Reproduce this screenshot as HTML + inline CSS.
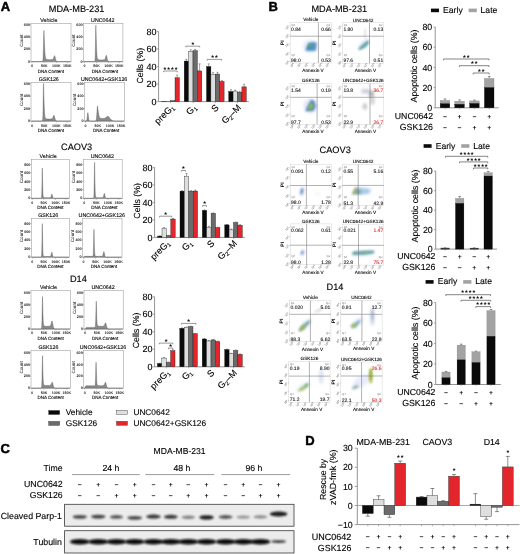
<!DOCTYPE html>
<html><head><meta charset="utf-8"><style>
html,body{margin:0;padding:0;background:#fff;}
svg{display:block;font-family:'Liberation Sans', Arial, sans-serif;text-rendering:geometricPrecision;}
</style></head><body>
<svg width="520" height="554" viewBox="0 0 520 554">
<rect width="520" height="554" fill="#fff"/>
<text x="0.70" y="10.60" font-size="13" text-anchor="start" font-weight="bold" stroke="#000" stroke-width="0.45">A</text>
<text x="268.50" y="10.60" font-size="13" text-anchor="start" font-weight="bold" stroke="#000" stroke-width="0.45">B</text>
<text x="0.50" y="452.60" font-size="13" text-anchor="start" font-weight="bold" stroke="#000" stroke-width="0.45">C</text>
<text x="305.30" y="445.00" font-size="13" text-anchor="start" font-weight="bold" stroke="#000" stroke-width="0.45">D</text>
<text x="76.60" y="12.30" font-size="9.2" text-anchor="middle" stroke="#000" stroke-width="0.13" >MDA-MB-231</text>
<text x="48.80" y="21.50" font-size="5.3" text-anchor="middle" stroke="#000" stroke-width="0.10" >Vehicle</text>
<rect x="31.00" y="23.30" width="40.00" height="38.70" fill="#fff" stroke="#9a9a9a" stroke-width="0.55" />
<path d="M31.40,61.50 L31.40,61.50 L31.64,61.50 L31.89,61.50 L32.13,61.50 L32.38,61.50 L32.62,61.50 L32.87,61.50 L33.11,61.50 L33.36,61.50 L33.60,61.50 L33.85,61.50 L34.09,61.50 L34.34,61.50 L34.59,61.50 L34.83,61.50 L35.07,61.50 L35.32,61.50 L35.56,61.50 L35.81,61.50 L36.05,61.50 L36.30,61.50 L36.55,61.50 L36.79,61.50 L37.03,61.50 L37.28,61.50 L37.52,61.50 L37.77,61.50 L38.02,61.50 L38.26,61.50 L38.50,61.50 L38.75,61.50 L38.99,61.50 L39.24,61.50 L39.48,61.50 L39.73,61.50 L39.97,61.50 L40.22,61.50 L40.46,61.50 L40.71,61.50 L40.95,61.50 L41.20,61.50 L41.44,61.50 L41.69,61.50 L41.93,61.49 L42.18,61.47 L42.42,61.40 L42.67,61.12 L42.91,60.06 L43.16,56.61 L43.41,48.76 L43.65,37.71 L43.89,30.63 L43.94,30.40 L44.14,35.36 L44.38,41.44 L44.63,47.06 L44.88,51.62 L45.12,54.84 L45.36,56.84 L45.61,57.98 L45.85,58.59 L46.10,58.94 L46.34,59.15 L46.59,59.29 L46.83,59.39 L47.08,59.46 L47.32,59.52 L47.57,59.56 L47.81,59.59 L48.06,59.61 L48.30,59.63 L48.55,59.64 L48.79,59.65 L49.04,59.66 L49.28,59.66 L49.53,59.66 L49.77,59.65 L50.02,59.65 L50.27,59.64 L50.51,59.63 L50.75,59.61 L51.00,59.59 L51.24,59.57 L51.49,59.55 L51.73,59.52 L51.98,59.50 L52.22,59.46 L52.47,59.40 L52.71,59.31 L52.96,59.15 L53.20,58.84 L53.45,58.36 L53.69,57.67 L53.94,56.88 L54.19,56.15 L54.43,55.72 L54.53,55.66 L54.67,55.77 L54.92,56.38 L55.16,57.37 L55.41,58.45 L55.66,59.42 L55.90,60.17 L56.14,60.69 L56.39,61.03 L56.63,61.23 L56.88,61.36 L57.12,61.43 L57.37,61.46 L57.61,61.48 L57.86,61.49 L58.10,61.50 L58.35,61.50 L58.59,61.50 L58.84,61.50 L59.08,61.50 L59.33,61.50 L59.57,61.50 L59.82,61.50 L60.06,61.50 L60.31,61.50 L60.55,61.50 L60.80,61.50 L61.04,61.50 L61.29,61.50 L61.53,61.50 L61.78,61.50 L62.02,61.50 L62.27,61.50 L62.51,61.50 L62.76,61.50 L63.00,61.50 L63.25,61.50 L63.49,61.50 L63.74,61.50 L63.98,61.50 L64.23,61.50 L64.47,61.50 L64.72,61.50 L64.97,61.50 L65.21,61.50 L65.45,61.50 L65.70,61.50 L65.94,61.50 L66.19,61.50 L66.44,61.50 L66.68,61.50 L66.92,61.50 L67.17,61.50 L67.41,61.50 L67.66,61.50 L67.91,61.50 L68.15,61.50 L68.39,61.50 L68.64,61.50 L68.88,61.50 L69.13,61.50 L69.38,61.50 L69.62,61.50 L69.86,61.50 L70.11,61.50 L70.35,61.50 L70.60,61.50 L70.60,61.50 Z" fill="#8a8a8a" stroke="#4a4a4a" stroke-width="0.35"/>
<line x1="29.80" y1="61.30" x2="31.00" y2="61.30" stroke="#666" stroke-width="0.4" />
<text x="30.00" y="62.60" font-size="3.7" text-anchor="end" font-weight="bold" fill="#222" >0</text>
<line x1="29.80" y1="49.12" x2="31.00" y2="49.12" stroke="#666" stroke-width="0.4" />
<text x="30.00" y="50.42" font-size="3.7" text-anchor="end" font-weight="bold" fill="#222" >200</text>
<line x1="29.80" y1="36.93" x2="31.00" y2="36.93" stroke="#666" stroke-width="0.4" />
<text x="30.00" y="38.23" font-size="3.7" text-anchor="end" font-weight="bold" fill="#222" >400</text>
<line x1="29.80" y1="24.75" x2="31.00" y2="24.75" stroke="#666" stroke-width="0.4" />
<text x="30.00" y="26.05" font-size="3.7" text-anchor="end" font-weight="bold" fill="#222" >600</text>
<line x1="32.00" y1="62.00" x2="32.00" y2="63.00" stroke="#666" stroke-width="0.4" />
<text x="32.00" y="67.00" font-size="3.6" text-anchor="middle" font-weight="bold" fill="#222" >0</text>
<line x1="44.20" y1="62.00" x2="44.20" y2="63.00" stroke="#666" stroke-width="0.4" />
<text x="44.20" y="67.00" font-size="3.6" text-anchor="middle" font-weight="bold" fill="#222" >50K</text>
<line x1="56.40" y1="62.00" x2="56.40" y2="63.00" stroke="#666" stroke-width="0.4" />
<text x="56.40" y="67.00" font-size="3.6" text-anchor="middle" font-weight="bold" fill="#222" >100K</text>
<line x1="67.40" y1="62.00" x2="67.40" y2="63.00" stroke="#666" stroke-width="0.4" />
<text x="67.40" y="67.00" font-size="3.6" text-anchor="middle" font-weight="bold" fill="#222" >150K</text>
<text x="51.00" y="72.50" font-size="4.5" text-anchor="middle" stroke="#000" stroke-width="0.10" >DNA Content</text>
<text x="0" y="0" font-size="4.6" text-anchor="middle" transform="translate(22.50,40.65) rotate(-90)">Count</text>
<text x="102.70" y="21.50" font-size="5.3" text-anchor="middle" stroke="#000" stroke-width="0.10" >UNC0642</text>
<rect x="83.50" y="23.30" width="39.40" height="38.70" fill="#fff" stroke="#9a9a9a" stroke-width="0.55" />
<path d="M83.90,61.50 L83.90,61.50 L84.14,61.50 L84.38,61.50 L84.62,61.50 L84.87,61.50 L85.11,61.50 L85.35,61.50 L85.59,61.50 L85.83,61.50 L86.07,61.50 L86.31,61.50 L86.55,61.50 L86.80,61.50 L87.04,61.50 L87.28,61.50 L87.52,61.50 L87.76,61.50 L88.00,61.50 L88.24,61.50 L88.48,61.50 L88.73,61.50 L88.97,61.50 L89.21,61.50 L89.45,61.50 L89.69,61.50 L89.93,61.50 L90.17,61.50 L90.41,61.50 L90.66,61.50 L90.90,61.50 L91.14,61.50 L91.38,61.50 L91.62,61.50 L91.86,61.50 L92.10,61.50 L92.34,61.50 L92.59,61.50 L92.83,61.50 L93.07,61.50 L93.31,61.50 L93.55,61.50 L93.79,61.50 L94.03,61.50 L94.27,61.49 L94.52,61.47 L94.76,61.33 L95.00,60.49 L95.24,56.31 L95.48,44.33 L95.72,28.79 L95.87,25.12 L95.96,28.59 L96.20,37.11 L96.45,45.00 L96.69,51.19 L96.93,55.22 L97.17,57.43 L97.41,58.52 L97.65,59.06 L97.89,59.36 L98.13,59.54 L98.38,59.65 L98.62,59.73 L98.86,59.79 L99.10,59.83 L99.34,59.86 L99.58,59.89 L99.82,59.91 L100.06,59.92 L100.31,59.93 L100.55,59.94 L100.79,59.94 L101.03,59.94 L101.27,59.94 L101.51,59.94 L101.75,59.94 L101.99,59.93 L102.23,59.92 L102.48,59.91 L102.72,59.89 L102.96,59.88 L103.20,59.86 L103.44,59.84 L103.68,59.81 L103.92,59.79 L104.17,59.75 L104.41,59.69 L104.65,59.58 L104.89,59.35 L105.13,58.92 L105.37,58.21 L105.61,57.27 L105.85,56.27 L106.09,55.51 L106.29,55.28 L106.34,55.29 L106.58,55.80 L106.82,56.85 L107.06,58.10 L107.30,59.23 L107.54,60.08 L107.78,60.66 L108.03,61.01 L108.27,61.22 L108.51,61.35 L108.75,61.42 L108.99,61.46 L109.23,61.48 L109.47,61.49 L109.71,61.50 L109.95,61.50 L110.20,61.50 L110.44,61.50 L110.68,61.50 L110.92,61.50 L111.16,61.50 L111.40,61.50 L111.64,61.50 L111.89,61.50 L112.13,61.50 L112.37,61.50 L112.61,61.50 L112.85,61.50 L113.09,61.50 L113.33,61.50 L113.57,61.50 L113.81,61.50 L114.06,61.50 L114.30,61.50 L114.54,61.50 L114.78,61.50 L115.02,61.50 L115.26,61.50 L115.50,61.50 L115.75,61.50 L115.99,61.50 L116.23,61.50 L116.47,61.50 L116.71,61.50 L116.95,61.50 L117.19,61.50 L117.43,61.50 L117.67,61.50 L117.92,61.50 L118.16,61.50 L118.40,61.50 L118.64,61.50 L118.88,61.50 L119.12,61.50 L119.36,61.50 L119.61,61.50 L119.85,61.50 L120.09,61.50 L120.33,61.50 L120.57,61.50 L120.81,61.50 L121.05,61.50 L121.29,61.50 L121.53,61.50 L121.78,61.50 L122.02,61.50 L122.26,61.50 L122.50,61.50 L122.50,61.50 Z" fill="#8a8a8a" stroke="#4a4a4a" stroke-width="0.35"/>
<line x1="82.30" y1="61.30" x2="83.50" y2="61.30" stroke="#666" stroke-width="0.4" />
<text x="82.50" y="62.60" font-size="3.7" text-anchor="end" font-weight="bold" fill="#222" >0</text>
<line x1="82.30" y1="49.12" x2="83.50" y2="49.12" stroke="#666" stroke-width="0.4" />
<text x="82.50" y="50.42" font-size="3.7" text-anchor="end" font-weight="bold" fill="#222" >200</text>
<line x1="82.30" y1="36.93" x2="83.50" y2="36.93" stroke="#666" stroke-width="0.4" />
<text x="82.50" y="38.23" font-size="3.7" text-anchor="end" font-weight="bold" fill="#222" >400</text>
<line x1="82.30" y1="24.75" x2="83.50" y2="24.75" stroke="#666" stroke-width="0.4" />
<text x="82.50" y="26.05" font-size="3.7" text-anchor="end" font-weight="bold" fill="#222" >600</text>
<line x1="84.48" y1="62.00" x2="84.48" y2="63.00" stroke="#666" stroke-width="0.4" />
<text x="84.48" y="67.00" font-size="3.6" text-anchor="middle" font-weight="bold" fill="#222" >0</text>
<line x1="96.50" y1="62.00" x2="96.50" y2="63.00" stroke="#666" stroke-width="0.4" />
<text x="96.50" y="67.00" font-size="3.6" text-anchor="middle" font-weight="bold" fill="#222" >50K</text>
<line x1="108.52" y1="62.00" x2="108.52" y2="63.00" stroke="#666" stroke-width="0.4" />
<text x="108.52" y="67.00" font-size="3.6" text-anchor="middle" font-weight="bold" fill="#222" >100K</text>
<line x1="119.35" y1="62.00" x2="119.35" y2="63.00" stroke="#666" stroke-width="0.4" />
<text x="119.35" y="67.00" font-size="3.6" text-anchor="middle" font-weight="bold" fill="#222" >150K</text>
<text x="104.80" y="72.50" font-size="4.5" text-anchor="middle" stroke="#000" stroke-width="0.10" >DNA Content</text>
<text x="0" y="0" font-size="4.6" text-anchor="middle" transform="translate(75.00,40.65) rotate(-90)">Count</text>
<text x="48.80" y="80.50" font-size="5.3" text-anchor="middle" stroke="#000" stroke-width="0.10" >GSK126</text>
<rect x="31.00" y="82.30" width="40.00" height="39.20" fill="#fff" stroke="#9a9a9a" stroke-width="0.55" />
<path d="M31.40,121.00 L31.40,121.00 L31.64,121.00 L31.89,121.00 L32.13,121.00 L32.38,121.00 L32.62,121.00 L32.87,121.00 L33.11,121.00 L33.36,121.00 L33.60,121.00 L33.85,121.00 L34.09,121.00 L34.34,121.00 L34.59,121.00 L34.83,121.00 L35.07,121.00 L35.32,121.00 L35.56,121.00 L35.81,121.00 L36.05,121.00 L36.30,121.00 L36.55,121.00 L36.79,121.00 L37.03,121.00 L37.28,121.00 L37.52,121.00 L37.77,121.00 L38.02,121.00 L38.26,121.00 L38.50,121.00 L38.75,121.00 L38.99,121.00 L39.24,121.00 L39.48,121.00 L39.73,121.00 L39.97,121.00 L40.22,121.00 L40.46,121.00 L40.71,121.00 L40.95,121.00 L41.20,121.00 L41.44,121.00 L41.69,121.00 L41.93,120.99 L42.18,120.96 L42.42,120.79 L42.67,119.86 L42.91,115.42 L43.16,102.85 L43.41,86.62 L43.55,83.37 L43.65,86.40 L43.89,95.23 L44.14,103.41 L44.38,109.84 L44.63,114.02 L44.88,116.32 L45.12,117.46 L45.36,118.03 L45.61,118.34 L45.85,118.53 L46.10,118.66 L46.34,118.75 L46.59,118.82 L46.83,118.86 L47.08,118.90 L47.32,118.93 L47.57,118.95 L47.81,118.97 L48.06,118.98 L48.30,118.99 L48.55,118.99 L48.79,118.99 L49.04,118.99 L49.28,118.99 L49.53,118.98 L49.77,118.97 L50.02,118.95 L50.27,118.94 L50.51,118.92 L50.75,118.89 L51.00,118.87 L51.24,118.84 L51.49,118.80 L51.73,118.75 L51.98,118.67 L52.22,118.54 L52.47,118.30 L52.71,117.93 L52.96,117.39 L53.20,116.73 L53.45,116.04 L53.69,115.51 L53.94,115.27 L54.19,115.53 L54.43,116.24 L54.67,117.21 L54.92,118.21 L55.16,119.10 L55.41,119.78 L55.66,120.26 L55.90,120.57 L56.14,120.76 L56.39,120.88 L56.63,120.94 L56.88,120.97 L57.12,120.99 L57.37,120.99 L57.61,121.00 L57.86,121.00 L58.10,121.00 L58.35,121.00 L58.59,121.00 L58.84,121.00 L59.08,121.00 L59.33,121.00 L59.57,121.00 L59.82,121.00 L60.06,121.00 L60.31,121.00 L60.55,121.00 L60.80,121.00 L61.04,121.00 L61.29,121.00 L61.53,121.00 L61.78,121.00 L62.02,121.00 L62.27,121.00 L62.51,121.00 L62.76,121.00 L63.00,121.00 L63.25,121.00 L63.49,121.00 L63.74,121.00 L63.98,121.00 L64.23,121.00 L64.47,121.00 L64.72,121.00 L64.97,121.00 L65.21,121.00 L65.45,121.00 L65.70,121.00 L65.94,121.00 L66.19,121.00 L66.44,121.00 L66.68,121.00 L66.92,121.00 L67.17,121.00 L67.41,121.00 L67.66,121.00 L67.91,121.00 L68.15,121.00 L68.39,121.00 L68.64,121.00 L68.88,121.00 L69.13,121.00 L69.38,121.00 L69.62,121.00 L69.86,121.00 L70.11,121.00 L70.35,121.00 L70.60,121.00 L70.60,121.00 Z" fill="#8a8a8a" stroke="#4a4a4a" stroke-width="0.35"/>
<line x1="29.80" y1="120.80" x2="31.00" y2="120.80" stroke="#666" stroke-width="0.4" />
<text x="30.00" y="122.10" font-size="3.7" text-anchor="end" font-weight="bold" fill="#222" >0</text>
<line x1="29.80" y1="108.45" x2="31.00" y2="108.45" stroke="#666" stroke-width="0.4" />
<text x="30.00" y="109.75" font-size="3.7" text-anchor="end" font-weight="bold" fill="#222" >200</text>
<line x1="29.80" y1="96.10" x2="31.00" y2="96.10" stroke="#666" stroke-width="0.4" />
<text x="30.00" y="97.40" font-size="3.7" text-anchor="end" font-weight="bold" fill="#222" >400</text>
<line x1="29.80" y1="83.76" x2="31.00" y2="83.76" stroke="#666" stroke-width="0.4" />
<text x="30.00" y="85.06" font-size="3.7" text-anchor="end" font-weight="bold" fill="#222" >600</text>
<line x1="32.00" y1="121.50" x2="32.00" y2="122.50" stroke="#666" stroke-width="0.4" />
<text x="32.00" y="126.50" font-size="3.6" text-anchor="middle" font-weight="bold" fill="#222" >0</text>
<line x1="44.20" y1="121.50" x2="44.20" y2="122.50" stroke="#666" stroke-width="0.4" />
<text x="44.20" y="126.50" font-size="3.6" text-anchor="middle" font-weight="bold" fill="#222" >50K</text>
<line x1="56.40" y1="121.50" x2="56.40" y2="122.50" stroke="#666" stroke-width="0.4" />
<text x="56.40" y="126.50" font-size="3.6" text-anchor="middle" font-weight="bold" fill="#222" >100K</text>
<line x1="67.40" y1="121.50" x2="67.40" y2="122.50" stroke="#666" stroke-width="0.4" />
<text x="67.40" y="126.50" font-size="3.6" text-anchor="middle" font-weight="bold" fill="#222" >150K</text>
<text x="51.00" y="132.00" font-size="4.5" text-anchor="middle" stroke="#000" stroke-width="0.10" >DNA Content</text>
<text x="0" y="0" font-size="4.6" text-anchor="middle" transform="translate(22.50,99.90) rotate(-90)">Count</text>
<text x="104.10" y="80.50" font-size="5.3" text-anchor="middle" stroke="#000" stroke-width="0.10" >UNC0642+GSK126</text>
<rect x="84.50" y="82.30" width="40.20" height="39.20" fill="#fff" stroke="#9a9a9a" stroke-width="0.55" />
<path d="M84.90,121.00 L84.90,121.00 L85.15,121.00 L85.39,121.00 L85.64,121.00 L85.89,120.99 L86.13,120.97 L86.38,120.87 L86.62,120.53 L86.87,119.68 L87.12,118.03 L87.36,115.71 L87.61,113.51 L87.86,112.60 L88.10,113.51 L88.35,115.71 L88.59,118.03 L88.84,119.68 L89.09,120.53 L89.33,120.87 L89.58,120.97 L89.83,120.99 L90.07,121.00 L90.32,121.00 L90.56,121.00 L90.81,121.00 L91.06,121.00 L91.30,121.00 L91.55,121.00 L91.80,121.00 L92.04,121.00 L92.29,121.00 L92.53,121.00 L92.78,121.00 L93.03,121.00 L93.27,121.00 L93.52,121.00 L93.77,121.00 L94.01,121.00 L94.26,121.00 L94.50,121.00 L94.75,120.99 L95.00,120.98 L95.24,120.96 L95.49,120.89 L95.73,120.74 L95.98,120.41 L96.23,119.67 L96.47,118.15 L96.72,115.45 L96.97,111.70 L97.21,107.96 L97.46,105.97 L97.51,105.91 L97.70,107.40 L97.95,109.23 L98.20,111.03 L98.44,112.70 L98.69,114.18 L98.94,115.39 L99.18,116.32 L99.43,116.99 L99.67,117.46 L99.92,117.78 L100.17,117.99 L100.41,118.14 L100.66,118.25 L100.91,118.33 L101.15,118.39 L101.40,118.44 L101.65,118.47 L101.89,118.50 L102.14,118.52 L102.38,118.53 L102.63,118.54 L102.88,118.53 L103.12,118.53 L103.37,118.51 L103.62,118.48 L103.86,118.44 L104.11,118.39 L104.35,118.32 L104.60,118.24 L104.85,118.13 L105.09,118.01 L105.34,117.86 L105.59,117.70 L105.83,117.52 L106.08,117.33 L106.32,117.13 L106.57,116.93 L106.82,116.74 L107.06,116.57 L107.31,116.42 L107.56,116.30 L107.75,116.22 L107.80,116.23 L108.05,116.28 L108.29,116.40 L108.54,116.58 L108.79,116.82 L109.03,117.10 L109.28,117.41 L109.53,117.74 L109.77,118.07 L110.02,118.40 L110.26,118.72 L110.51,119.03 L110.76,119.30 L111.00,119.56 L111.25,119.78 L111.50,119.98 L111.74,120.16 L111.99,120.31 L112.23,120.43 L112.48,120.54 L112.73,120.63 L112.97,120.71 L113.22,120.77 L113.47,120.82 L113.71,120.86 L113.96,120.90 L114.20,120.92 L114.45,120.94 L114.70,120.96 L114.94,120.97 L115.19,120.98 L115.44,120.98 L115.68,120.99 L115.93,120.99 L116.17,120.99 L116.42,121.00 L116.67,121.00 L116.91,121.00 L117.16,121.00 L117.41,121.00 L117.65,121.00 L117.90,121.00 L118.14,121.00 L118.39,121.00 L118.64,121.00 L118.88,121.00 L119.13,121.00 L119.38,121.00 L119.62,121.00 L119.87,121.00 L120.11,121.00 L120.36,121.00 L120.61,121.00 L120.85,121.00 L121.10,121.00 L121.34,121.00 L121.59,121.00 L121.84,121.00 L122.08,121.00 L122.33,121.00 L122.58,121.00 L122.82,121.00 L123.07,121.00 L123.31,121.00 L123.56,121.00 L123.81,121.00 L124.05,121.00 L124.30,121.00 L124.30,121.00 Z" fill="#8a8a8a" stroke="#4a4a4a" stroke-width="0.35"/>
<line x1="83.30" y1="120.80" x2="84.50" y2="120.80" stroke="#666" stroke-width="0.4" />
<text x="83.50" y="122.10" font-size="3.7" text-anchor="end" font-weight="bold" fill="#222" >0</text>
<line x1="83.30" y1="108.45" x2="84.50" y2="108.45" stroke="#666" stroke-width="0.4" />
<text x="83.50" y="109.75" font-size="3.7" text-anchor="end" font-weight="bold" fill="#222" >200</text>
<line x1="83.30" y1="96.10" x2="84.50" y2="96.10" stroke="#666" stroke-width="0.4" />
<text x="83.50" y="97.40" font-size="3.7" text-anchor="end" font-weight="bold" fill="#222" >400</text>
<line x1="83.30" y1="83.76" x2="84.50" y2="83.76" stroke="#666" stroke-width="0.4" />
<text x="83.50" y="85.06" font-size="3.7" text-anchor="end" font-weight="bold" fill="#222" >600</text>
<line x1="85.50" y1="121.50" x2="85.50" y2="122.50" stroke="#666" stroke-width="0.4" />
<text x="85.50" y="126.50" font-size="3.6" text-anchor="middle" font-weight="bold" fill="#222" >0</text>
<line x1="97.77" y1="121.50" x2="97.77" y2="122.50" stroke="#666" stroke-width="0.4" />
<text x="97.77" y="126.50" font-size="3.6" text-anchor="middle" font-weight="bold" fill="#222" >50K</text>
<line x1="110.03" y1="121.50" x2="110.03" y2="122.50" stroke="#666" stroke-width="0.4" />
<text x="110.03" y="126.50" font-size="3.6" text-anchor="middle" font-weight="bold" fill="#222" >100K</text>
<line x1="121.08" y1="121.50" x2="121.08" y2="122.50" stroke="#666" stroke-width="0.4" />
<text x="121.08" y="126.50" font-size="3.6" text-anchor="middle" font-weight="bold" fill="#222" >150K</text>
<text x="106.20" y="132.00" font-size="4.5" text-anchor="middle" stroke="#000" stroke-width="0.10" >DNA Content</text>
<text x="0" y="0" font-size="4.6" text-anchor="middle" transform="translate(76.00,99.90) rotate(-90)">Count</text>
<text x="76.60" y="150.40" font-size="9.2" text-anchor="middle" stroke="#000" stroke-width="0.13" >CAOV3</text>
<text x="48.15" y="157.70" font-size="5.3" text-anchor="middle" stroke="#000" stroke-width="0.10" >Vehicle</text>
<rect x="31.30" y="159.50" width="38.10" height="39.30" fill="#fff" stroke="#9a9a9a" stroke-width="0.55" />
<path d="M31.70,198.30 L31.70,198.30 L31.93,198.30 L32.17,198.30 L32.40,198.30 L32.63,198.30 L32.87,198.30 L33.10,198.30 L33.33,198.30 L33.56,198.30 L33.80,198.30 L34.03,198.30 L34.26,198.30 L34.50,198.30 L34.73,198.30 L34.96,198.30 L35.20,198.30 L35.43,198.30 L35.66,198.30 L35.90,198.30 L36.13,198.30 L36.36,198.30 L36.60,198.30 L36.83,198.30 L37.06,198.30 L37.30,198.30 L37.53,198.30 L37.76,198.30 L37.99,198.30 L38.23,198.30 L38.46,198.30 L38.69,198.30 L38.93,198.30 L39.16,198.30 L39.39,198.30 L39.63,198.30 L39.86,198.30 L40.09,198.30 L40.33,198.30 L40.56,198.30 L40.79,198.30 L41.02,198.29 L41.26,198.21 L41.49,197.60 L41.72,194.25 L41.96,184.26 L42.19,171.15 L42.33,168.04 L42.42,172.98 L42.66,184.65 L42.89,192.64 L43.12,195.99 L43.36,197.02 L43.59,197.37 L43.82,197.52 L44.06,197.59 L44.29,197.63 L44.52,197.66 L44.75,197.67 L44.99,197.69 L45.22,197.69 L45.45,197.70 L45.69,197.71 L45.92,197.71 L46.15,197.72 L46.39,197.72 L46.62,197.72 L46.85,197.73 L47.09,197.73 L47.32,197.73 L47.55,197.72 L47.79,197.72 L48.02,197.72 L48.25,197.71 L48.48,197.71 L48.72,197.70 L48.95,197.70 L49.18,197.69 L49.42,197.68 L49.65,197.67 L49.88,197.66 L50.12,197.63 L50.35,197.58 L50.58,197.43 L50.82,197.11 L51.05,196.50 L51.28,195.63 L51.52,194.72 L51.75,194.15 L51.84,194.09 L51.98,194.22 L52.22,194.95 L52.45,195.99 L52.68,196.95 L52.91,197.61 L53.15,197.98 L53.38,198.16 L53.61,198.24 L53.85,198.28 L54.08,198.29 L54.31,198.30 L54.55,198.30 L54.78,198.30 L55.01,198.30 L55.25,198.30 L55.48,198.30 L55.71,198.30 L55.94,198.30 L56.18,198.30 L56.41,198.30 L56.64,198.30 L56.88,198.30 L57.11,198.30 L57.34,198.30 L57.58,198.30 L57.81,198.30 L58.04,198.30 L58.28,198.30 L58.51,198.30 L58.74,198.30 L58.98,198.30 L59.21,198.30 L59.44,198.30 L59.67,198.30 L59.91,198.30 L60.14,198.30 L60.37,198.30 L60.61,198.30 L60.84,198.30 L61.07,198.30 L61.31,198.30 L61.54,198.30 L61.77,198.30 L62.01,198.30 L62.24,198.30 L62.47,198.30 L62.71,198.30 L62.94,198.30 L63.17,198.30 L63.41,198.30 L63.64,198.30 L63.87,198.30 L64.10,198.30 L64.34,198.30 L64.57,198.30 L64.80,198.30 L65.04,198.30 L65.27,198.30 L65.50,198.30 L65.74,198.30 L65.97,198.30 L66.20,198.30 L66.44,198.30 L66.67,198.30 L66.90,198.30 L67.13,198.30 L67.37,198.30 L67.60,198.30 L67.83,198.30 L68.07,198.30 L68.30,198.30 L68.53,198.30 L68.77,198.30 L69.00,198.30 L69.00,198.30 Z" fill="#8a8a8a" stroke="#4a4a4a" stroke-width="0.35"/>
<line x1="30.10" y1="198.10" x2="31.30" y2="198.10" stroke="#666" stroke-width="0.4" />
<text x="30.30" y="199.40" font-size="3.7" text-anchor="end" font-weight="bold" fill="#222" >0</text>
<line x1="30.10" y1="189.67" x2="31.30" y2="189.67" stroke="#666" stroke-width="0.4" />
<text x="30.30" y="190.97" font-size="3.7" text-anchor="end" font-weight="bold" fill="#222" >200</text>
<line x1="30.10" y1="181.23" x2="31.30" y2="181.23" stroke="#666" stroke-width="0.4" />
<text x="30.30" y="182.53" font-size="3.7" text-anchor="end" font-weight="bold" fill="#222" >400</text>
<line x1="30.10" y1="172.80" x2="31.30" y2="172.80" stroke="#666" stroke-width="0.4" />
<text x="30.30" y="174.10" font-size="3.7" text-anchor="end" font-weight="bold" fill="#222" >600</text>
<line x1="30.10" y1="164.37" x2="31.30" y2="164.37" stroke="#666" stroke-width="0.4" />
<text x="30.30" y="165.67" font-size="3.7" text-anchor="end" font-weight="bold" fill="#222" >800</text>
<line x1="32.25" y1="198.80" x2="32.25" y2="199.80" stroke="#666" stroke-width="0.4" />
<text x="32.25" y="203.80" font-size="3.6" text-anchor="middle" font-weight="bold" fill="#222" >0</text>
<line x1="43.87" y1="198.80" x2="43.87" y2="199.80" stroke="#666" stroke-width="0.4" />
<text x="43.87" y="203.80" font-size="3.6" text-anchor="middle" font-weight="bold" fill="#222" >50K</text>
<line x1="55.49" y1="198.80" x2="55.49" y2="199.80" stroke="#666" stroke-width="0.4" />
<text x="55.49" y="203.80" font-size="3.6" text-anchor="middle" font-weight="bold" fill="#222" >100K</text>
<line x1="65.97" y1="198.80" x2="65.97" y2="199.80" stroke="#666" stroke-width="0.4" />
<text x="65.97" y="203.80" font-size="3.6" text-anchor="middle" font-weight="bold" fill="#222" >150K</text>
<text x="50.35" y="209.30" font-size="4.5" text-anchor="middle" stroke="#000" stroke-width="0.10" >DNA Content</text>
<text x="0" y="0" font-size="4.6" text-anchor="middle" transform="translate(22.80,177.15) rotate(-90)">Count</text>
<text x="102.30" y="157.70" font-size="5.3" text-anchor="middle" stroke="#000" stroke-width="0.10" >UNC0642</text>
<rect x="83.40" y="159.50" width="38.80" height="39.30" fill="#fff" stroke="#9a9a9a" stroke-width="0.55" />
<path d="M83.80,198.30 L83.80,198.30 L84.04,198.30 L84.28,198.30 L84.51,198.30 L84.75,198.30 L84.99,198.30 L85.23,198.30 L85.46,198.30 L85.70,198.30 L85.94,198.30 L86.18,198.30 L86.41,198.30 L86.65,198.30 L86.89,198.30 L87.13,198.30 L87.36,198.30 L87.60,198.30 L87.84,198.30 L88.08,198.30 L88.31,198.30 L88.55,198.30 L88.79,198.30 L89.03,198.30 L89.26,198.30 L89.50,198.30 L89.74,198.30 L89.98,198.30 L90.21,198.30 L90.45,198.30 L90.69,198.30 L90.93,198.30 L91.16,198.30 L91.40,198.30 L91.64,198.30 L91.88,198.30 L92.11,198.30 L92.35,198.30 L92.59,198.30 L92.83,198.30 L93.06,198.30 L93.30,198.29 L93.54,198.20 L93.78,197.49 L94.01,193.52 L94.25,181.63 L94.49,166.00 L94.63,162.30 L94.73,168.19 L94.96,182.13 L95.20,191.68 L95.44,195.68 L95.68,196.91 L95.91,197.32 L96.15,197.50 L96.39,197.58 L96.62,197.63 L96.86,197.66 L97.10,197.67 L97.34,197.69 L97.58,197.69 L97.81,197.70 L98.05,197.71 L98.29,197.71 L98.53,197.72 L98.76,197.72 L99.00,197.72 L99.24,197.73 L99.48,197.73 L99.71,197.73 L99.95,197.72 L100.19,197.72 L100.43,197.72 L100.66,197.71 L100.90,197.71 L101.14,197.70 L101.38,197.70 L101.61,197.69 L101.85,197.68 L102.09,197.67 L102.33,197.66 L102.56,197.63 L102.80,197.56 L103.04,197.39 L103.28,197.00 L103.51,196.26 L103.75,195.20 L103.99,194.09 L104.22,193.40 L104.32,193.32 L104.46,193.48 L104.70,194.36 L104.94,195.60 L105.18,196.74 L105.41,197.52 L105.65,197.95 L105.89,198.15 L106.12,198.24 L106.36,198.28 L106.60,198.29 L106.84,198.30 L107.08,198.30 L107.31,198.30 L107.55,198.30 L107.79,198.30 L108.03,198.30 L108.26,198.30 L108.50,198.30 L108.74,198.30 L108.97,198.30 L109.21,198.30 L109.45,198.30 L109.69,198.30 L109.92,198.30 L110.16,198.30 L110.40,198.30 L110.64,198.30 L110.88,198.30 L111.11,198.30 L111.35,198.30 L111.59,198.30 L111.83,198.30 L112.06,198.30 L112.30,198.30 L112.54,198.30 L112.78,198.30 L113.01,198.30 L113.25,198.30 L113.49,198.30 L113.72,198.30 L113.96,198.30 L114.20,198.30 L114.44,198.30 L114.67,198.30 L114.91,198.30 L115.15,198.30 L115.39,198.30 L115.62,198.30 L115.86,198.30 L116.10,198.30 L116.34,198.30 L116.58,198.30 L116.81,198.30 L117.05,198.30 L117.29,198.30 L117.53,198.30 L117.76,198.30 L118.00,198.30 L118.24,198.30 L118.47,198.30 L118.71,198.30 L118.95,198.30 L119.19,198.30 L119.42,198.30 L119.66,198.30 L119.90,198.30 L120.14,198.30 L120.38,198.30 L120.61,198.30 L120.85,198.30 L121.09,198.30 L121.32,198.30 L121.56,198.30 L121.80,198.30 L121.80,198.30 Z" fill="#8a8a8a" stroke="#4a4a4a" stroke-width="0.35"/>
<line x1="82.20" y1="198.10" x2="83.40" y2="198.10" stroke="#666" stroke-width="0.4" />
<text x="82.40" y="199.40" font-size="3.7" text-anchor="end" font-weight="bold" fill="#222" >0</text>
<line x1="82.20" y1="189.67" x2="83.40" y2="189.67" stroke="#666" stroke-width="0.4" />
<text x="82.40" y="190.97" font-size="3.7" text-anchor="end" font-weight="bold" fill="#222" >200</text>
<line x1="82.20" y1="181.23" x2="83.40" y2="181.23" stroke="#666" stroke-width="0.4" />
<text x="82.40" y="182.53" font-size="3.7" text-anchor="end" font-weight="bold" fill="#222" >400</text>
<line x1="82.20" y1="172.80" x2="83.40" y2="172.80" stroke="#666" stroke-width="0.4" />
<text x="82.40" y="174.10" font-size="3.7" text-anchor="end" font-weight="bold" fill="#222" >600</text>
<line x1="82.20" y1="164.37" x2="83.40" y2="164.37" stroke="#666" stroke-width="0.4" />
<text x="82.40" y="165.67" font-size="3.7" text-anchor="end" font-weight="bold" fill="#222" >800</text>
<line x1="84.37" y1="198.80" x2="84.37" y2="199.80" stroke="#666" stroke-width="0.4" />
<text x="84.37" y="203.80" font-size="3.6" text-anchor="middle" font-weight="bold" fill="#222" >0</text>
<line x1="96.20" y1="198.80" x2="96.20" y2="199.80" stroke="#666" stroke-width="0.4" />
<text x="96.20" y="203.80" font-size="3.6" text-anchor="middle" font-weight="bold" fill="#222" >50K</text>
<line x1="108.04" y1="198.80" x2="108.04" y2="199.80" stroke="#666" stroke-width="0.4" />
<text x="108.04" y="203.80" font-size="3.6" text-anchor="middle" font-weight="bold" fill="#222" >100K</text>
<line x1="118.71" y1="198.80" x2="118.71" y2="199.80" stroke="#666" stroke-width="0.4" />
<text x="118.71" y="203.80" font-size="3.6" text-anchor="middle" font-weight="bold" fill="#222" >150K</text>
<text x="104.40" y="209.30" font-size="4.5" text-anchor="middle" stroke="#000" stroke-width="0.10" >DNA Content</text>
<text x="0" y="0" font-size="4.6" text-anchor="middle" transform="translate(74.90,177.15) rotate(-90)">Count</text>
<text x="48.15" y="216.80" font-size="5.3" text-anchor="middle" stroke="#000" stroke-width="0.10" >GSK126</text>
<rect x="31.30" y="218.60" width="38.10" height="39.00" fill="#fff" stroke="#9a9a9a" stroke-width="0.55" />
<path d="M31.70,257.10 L31.70,257.10 L31.93,257.10 L32.17,257.10 L32.40,257.10 L32.63,257.10 L32.87,257.10 L33.10,257.10 L33.33,257.10 L33.56,257.10 L33.80,257.10 L34.03,257.10 L34.26,257.10 L34.50,257.10 L34.73,257.10 L34.96,257.10 L35.20,257.10 L35.43,257.10 L35.66,257.10 L35.90,257.10 L36.13,257.10 L36.36,257.10 L36.60,257.10 L36.83,257.10 L37.06,257.10 L37.30,257.10 L37.53,257.10 L37.76,257.10 L37.99,257.10 L38.23,257.10 L38.46,257.10 L38.69,257.10 L38.93,257.10 L39.16,257.10 L39.39,257.10 L39.63,257.10 L39.86,257.10 L40.09,257.10 L40.33,257.10 L40.56,257.10 L40.79,257.10 L41.02,257.09 L41.26,257.01 L41.49,256.34 L41.72,252.64 L41.96,241.60 L42.19,227.10 L42.33,223.66 L42.42,229.12 L42.66,242.06 L42.89,250.91 L43.12,254.62 L43.36,255.76 L43.59,256.15 L43.82,256.31 L44.06,256.39 L44.29,256.44 L44.52,256.46 L44.75,256.48 L44.99,256.49 L45.22,256.50 L45.45,256.51 L45.69,256.51 L45.92,256.52 L46.15,256.52 L46.39,256.53 L46.62,256.53 L46.85,256.53 L47.09,256.53 L47.32,256.53 L47.55,256.53 L47.79,256.53 L48.02,256.52 L48.25,256.52 L48.48,256.51 L48.72,256.51 L48.95,256.50 L49.18,256.49 L49.42,256.48 L49.65,256.47 L49.88,256.46 L50.12,256.44 L50.35,256.37 L50.58,256.20 L50.82,255.81 L51.05,255.08 L51.28,254.03 L51.52,252.93 L51.75,252.23 L51.84,252.16 L51.98,252.32 L52.22,253.19 L52.45,254.42 L52.68,255.55 L52.91,256.32 L53.15,256.75 L53.38,256.95 L53.61,257.04 L53.85,257.08 L54.08,257.09 L54.31,257.10 L54.55,257.10 L54.78,257.10 L55.01,257.10 L55.25,257.10 L55.48,257.10 L55.71,257.10 L55.94,257.10 L56.18,257.10 L56.41,257.10 L56.64,257.10 L56.88,257.10 L57.11,257.10 L57.34,257.10 L57.58,257.10 L57.81,257.10 L58.04,257.10 L58.28,257.10 L58.51,257.10 L58.74,257.10 L58.98,257.10 L59.21,257.10 L59.44,257.10 L59.67,257.10 L59.91,257.10 L60.14,257.10 L60.37,257.10 L60.61,257.10 L60.84,257.10 L61.07,257.10 L61.31,257.10 L61.54,257.10 L61.77,257.10 L62.01,257.10 L62.24,257.10 L62.47,257.10 L62.71,257.10 L62.94,257.10 L63.17,257.10 L63.41,257.10 L63.64,257.10 L63.87,257.10 L64.10,257.10 L64.34,257.10 L64.57,257.10 L64.80,257.10 L65.04,257.10 L65.27,257.10 L65.50,257.10 L65.74,257.10 L65.97,257.10 L66.20,257.10 L66.44,257.10 L66.67,257.10 L66.90,257.10 L67.13,257.10 L67.37,257.10 L67.60,257.10 L67.83,257.10 L68.07,257.10 L68.30,257.10 L68.53,257.10 L68.77,257.10 L69.00,257.10 L69.00,257.10 Z" fill="#8a8a8a" stroke="#4a4a4a" stroke-width="0.35"/>
<line x1="30.10" y1="256.90" x2="31.30" y2="256.90" stroke="#666" stroke-width="0.4" />
<text x="30.30" y="258.20" font-size="3.7" text-anchor="end" font-weight="bold" fill="#222" >0</text>
<line x1="30.10" y1="248.53" x2="31.30" y2="248.53" stroke="#666" stroke-width="0.4" />
<text x="30.30" y="249.83" font-size="3.7" text-anchor="end" font-weight="bold" fill="#222" >200</text>
<line x1="30.10" y1="240.17" x2="31.30" y2="240.17" stroke="#666" stroke-width="0.4" />
<text x="30.30" y="241.47" font-size="3.7" text-anchor="end" font-weight="bold" fill="#222" >400</text>
<line x1="30.10" y1="231.80" x2="31.30" y2="231.80" stroke="#666" stroke-width="0.4" />
<text x="30.30" y="233.10" font-size="3.7" text-anchor="end" font-weight="bold" fill="#222" >600</text>
<line x1="30.10" y1="223.44" x2="31.30" y2="223.44" stroke="#666" stroke-width="0.4" />
<text x="30.30" y="224.74" font-size="3.7" text-anchor="end" font-weight="bold" fill="#222" >800</text>
<line x1="32.25" y1="257.60" x2="32.25" y2="258.60" stroke="#666" stroke-width="0.4" />
<text x="32.25" y="262.60" font-size="3.6" text-anchor="middle" font-weight="bold" fill="#222" >0</text>
<line x1="43.87" y1="257.60" x2="43.87" y2="258.60" stroke="#666" stroke-width="0.4" />
<text x="43.87" y="262.60" font-size="3.6" text-anchor="middle" font-weight="bold" fill="#222" >50K</text>
<line x1="55.49" y1="257.60" x2="55.49" y2="258.60" stroke="#666" stroke-width="0.4" />
<text x="55.49" y="262.60" font-size="3.6" text-anchor="middle" font-weight="bold" fill="#222" >100K</text>
<line x1="65.97" y1="257.60" x2="65.97" y2="258.60" stroke="#666" stroke-width="0.4" />
<text x="65.97" y="262.60" font-size="3.6" text-anchor="middle" font-weight="bold" fill="#222" >150K</text>
<text x="50.35" y="268.10" font-size="4.5" text-anchor="middle" stroke="#000" stroke-width="0.10" >DNA Content</text>
<text x="0" y="0" font-size="4.6" text-anchor="middle" transform="translate(22.80,236.10) rotate(-90)">Count</text>
<text x="101.80" y="216.80" font-size="5.3" text-anchor="middle" stroke="#000" stroke-width="0.10" >UNC0642+GSK126</text>
<rect x="82.60" y="218.60" width="39.40" height="39.00" fill="#fff" stroke="#9a9a9a" stroke-width="0.55" />
<path d="M83.00,257.10 L83.00,257.10 L83.24,257.10 L83.48,257.10 L83.72,257.10 L83.97,256.91 L84.21,256.67 L84.45,256.44 L84.69,256.34 L84.93,256.34 L85.17,256.34 L85.41,256.34 L85.65,256.34 L85.89,256.34 L86.14,256.34 L86.38,256.34 L86.62,256.34 L86.86,256.34 L87.10,256.34 L87.34,256.34 L87.58,256.34 L87.83,256.34 L88.07,256.34 L88.31,256.34 L88.55,256.34 L88.79,256.34 L89.03,256.34 L89.27,256.34 L89.51,256.34 L89.75,256.34 L90.00,256.34 L90.24,256.34 L90.48,256.34 L90.72,256.34 L90.96,256.34 L91.20,256.34 L91.44,256.34 L91.69,256.34 L91.93,256.34 L92.17,256.34 L92.41,256.34 L92.65,256.32 L92.89,256.24 L93.13,255.66 L93.37,252.53 L93.61,243.32 L93.86,231.26 L94.00,229.17 L94.10,233.45 L94.34,243.66 L94.58,251.03 L94.82,254.43 L95.06,255.58 L95.30,255.97 L95.55,256.14 L95.79,256.22 L96.03,256.27 L96.27,256.30 L96.51,256.32 L96.75,256.34 L96.99,256.35 L97.23,256.36 L97.47,256.37 L97.72,256.37 L97.96,256.38 L98.20,256.38 L98.44,256.39 L98.68,256.39 L98.92,256.39 L99.16,256.39 L99.41,256.39 L99.65,256.38 L99.89,256.38 L100.13,256.37 L100.37,256.37 L100.61,256.36 L100.85,256.35 L101.09,256.34 L101.33,256.33 L101.58,256.32 L101.82,256.30 L102.06,256.25 L102.30,256.15 L102.54,255.90 L102.78,255.39 L103.02,254.55 L103.27,253.44 L103.51,252.33 L103.75,251.66 L103.84,251.59 L103.99,251.75 L104.23,252.61 L104.47,253.88 L104.71,255.12 L104.95,256.04 L105.19,256.59 L105.44,256.88 L105.68,257.01 L105.92,257.07 L106.16,257.09 L106.40,257.10 L106.64,257.10 L106.88,257.10 L107.12,257.10 L107.37,257.10 L107.61,257.10 L107.85,257.10 L108.09,257.10 L108.33,257.10 L108.57,257.10 L108.81,257.10 L109.05,257.10 L109.30,257.10 L109.54,257.10 L109.78,257.10 L110.02,257.10 L110.26,257.10 L110.50,257.10 L110.74,257.10 L110.98,257.10 L111.23,257.10 L111.47,257.10 L111.71,257.10 L111.95,257.10 L112.19,257.10 L112.43,257.10 L112.67,257.10 L112.91,257.10 L113.16,257.10 L113.40,257.10 L113.64,257.10 L113.88,257.10 L114.12,257.10 L114.36,257.10 L114.60,257.10 L114.84,257.10 L115.09,257.10 L115.33,257.10 L115.57,257.10 L115.81,257.10 L116.05,257.10 L116.29,257.10 L116.53,257.10 L116.77,257.10 L117.02,257.10 L117.26,257.10 L117.50,257.10 L117.74,257.10 L117.98,257.10 L118.22,257.10 L118.46,257.10 L118.70,257.10 L118.95,257.10 L119.19,257.10 L119.43,257.10 L119.67,257.10 L119.91,257.10 L120.15,257.10 L120.39,257.10 L120.63,257.10 L120.88,257.10 L121.12,257.10 L121.36,257.10 L121.60,257.10 L121.60,257.10 Z" fill="#8a8a8a" stroke="#4a4a4a" stroke-width="0.35"/>
<line x1="81.40" y1="256.90" x2="82.60" y2="256.90" stroke="#666" stroke-width="0.4" />
<text x="81.60" y="258.20" font-size="3.7" text-anchor="end" font-weight="bold" fill="#222" >0</text>
<line x1="81.40" y1="248.53" x2="82.60" y2="248.53" stroke="#666" stroke-width="0.4" />
<text x="81.60" y="249.83" font-size="3.7" text-anchor="end" font-weight="bold" fill="#222" >200</text>
<line x1="81.40" y1="240.17" x2="82.60" y2="240.17" stroke="#666" stroke-width="0.4" />
<text x="81.60" y="241.47" font-size="3.7" text-anchor="end" font-weight="bold" fill="#222" >400</text>
<line x1="81.40" y1="231.80" x2="82.60" y2="231.80" stroke="#666" stroke-width="0.4" />
<text x="81.60" y="233.10" font-size="3.7" text-anchor="end" font-weight="bold" fill="#222" >600</text>
<line x1="81.40" y1="223.44" x2="82.60" y2="223.44" stroke="#666" stroke-width="0.4" />
<text x="81.60" y="224.74" font-size="3.7" text-anchor="end" font-weight="bold" fill="#222" >800</text>
<line x1="83.58" y1="257.60" x2="83.58" y2="258.60" stroke="#666" stroke-width="0.4" />
<text x="83.58" y="262.60" font-size="3.6" text-anchor="middle" font-weight="bold" fill="#222" >0</text>
<line x1="95.60" y1="257.60" x2="95.60" y2="258.60" stroke="#666" stroke-width="0.4" />
<text x="95.60" y="262.60" font-size="3.6" text-anchor="middle" font-weight="bold" fill="#222" >50K</text>
<line x1="107.62" y1="257.60" x2="107.62" y2="258.60" stroke="#666" stroke-width="0.4" />
<text x="107.62" y="262.60" font-size="3.6" text-anchor="middle" font-weight="bold" fill="#222" >100K</text>
<line x1="118.45" y1="257.60" x2="118.45" y2="258.60" stroke="#666" stroke-width="0.4" />
<text x="118.45" y="262.60" font-size="3.6" text-anchor="middle" font-weight="bold" fill="#222" >150K</text>
<text x="103.90" y="268.10" font-size="4.5" text-anchor="middle" stroke="#000" stroke-width="0.10" >DNA Content</text>
<text x="0" y="0" font-size="4.6" text-anchor="middle" transform="translate(74.10,236.10) rotate(-90)">Count</text>
<text x="78.40" y="281.80" font-size="9.2" text-anchor="middle" stroke="#000" stroke-width="0.13" >D14</text>
<text x="48.45" y="288.60" font-size="5.3" text-anchor="middle" stroke="#000" stroke-width="0.10" >Vehicle</text>
<rect x="31.00" y="290.40" width="39.30" height="39.00" fill="#fff" stroke="#9a9a9a" stroke-width="0.55" />
<path d="M31.40,328.90 L31.40,328.90 L31.64,328.90 L31.88,328.90 L32.12,328.90 L32.36,328.90 L32.60,328.90 L32.84,328.90 L33.08,328.90 L33.32,328.90 L33.57,328.90 L33.81,328.90 L34.05,328.90 L34.29,328.90 L34.53,328.90 L34.77,328.90 L35.01,328.90 L35.25,328.90 L35.49,328.90 L35.73,328.90 L35.97,328.90 L36.21,328.90 L36.45,328.90 L36.69,328.90 L36.93,328.90 L37.17,328.90 L37.42,328.90 L37.66,328.90 L37.90,328.90 L38.14,328.90 L38.38,328.90 L38.62,328.90 L38.86,328.90 L39.10,328.90 L39.34,328.90 L39.58,328.90 L39.82,328.90 L40.06,328.90 L40.30,328.90 L40.54,328.90 L40.78,328.89 L41.02,328.86 L41.27,328.72 L41.51,328.20 L41.75,326.13 L41.99,319.85 L42.23,308.12 L42.47,297.75 L42.56,296.60 L42.71,303.14 L42.95,313.37 L43.19,320.53 L43.43,323.89 L43.67,325.10 L43.91,325.57 L44.15,325.80 L44.39,325.93 L44.63,326.03 L44.87,326.09 L45.12,326.14 L45.36,326.19 L45.60,326.22 L45.84,326.25 L46.08,326.28 L46.32,326.30 L46.56,326.31 L46.80,326.33 L47.04,326.33 L47.28,326.33 L47.52,326.33 L47.76,326.33 L48.00,326.31 L48.24,326.30 L48.48,326.28 L48.72,326.25 L48.97,326.23 L49.21,326.19 L49.45,326.15 L49.69,326.09 L49.93,326.01 L50.17,325.87 L50.41,325.63 L50.65,325.21 L50.89,324.56 L51.13,323.68 L51.37,322.66 L51.61,321.71 L51.85,321.07 L52.00,320.92 L52.09,320.98 L52.33,321.63 L52.57,322.82 L52.82,324.25 L53.06,325.61 L53.30,326.74 L53.54,327.56 L53.78,328.11 L54.02,328.46 L54.26,328.66 L54.50,328.78 L54.74,328.84 L54.98,328.87 L55.22,328.89 L55.46,328.89 L55.70,328.90 L55.94,328.90 L56.18,328.90 L56.42,328.90 L56.67,328.90 L56.91,328.90 L57.15,328.90 L57.39,328.90 L57.63,328.90 L57.87,328.90 L58.11,328.90 L58.35,328.90 L58.59,328.90 L58.83,328.90 L59.07,328.90 L59.31,328.90 L59.55,328.90 L59.79,328.90 L60.03,328.90 L60.27,328.90 L60.52,328.90 L60.76,328.90 L61.00,328.90 L61.24,328.90 L61.48,328.90 L61.72,328.90 L61.96,328.90 L62.20,328.90 L62.44,328.90 L62.68,328.90 L62.92,328.90 L63.16,328.90 L63.40,328.90 L63.64,328.90 L63.88,328.90 L64.12,328.90 L64.37,328.90 L64.61,328.90 L64.85,328.90 L65.09,328.90 L65.33,328.90 L65.57,328.90 L65.81,328.90 L66.05,328.90 L66.29,328.90 L66.53,328.90 L66.77,328.90 L67.01,328.90 L67.25,328.90 L67.49,328.90 L67.73,328.90 L67.97,328.90 L68.22,328.90 L68.46,328.90 L68.70,328.90 L68.94,328.90 L69.18,328.90 L69.42,328.90 L69.66,328.90 L69.90,328.90 L69.90,328.90 Z" fill="#8a8a8a" stroke="#4a4a4a" stroke-width="0.35"/>
<line x1="29.80" y1="328.70" x2="31.00" y2="328.70" stroke="#666" stroke-width="0.4" />
<text x="30.00" y="330.00" font-size="3.7" text-anchor="end" font-weight="bold" fill="#222" >0</text>
<line x1="29.80" y1="316.67" x2="31.00" y2="316.67" stroke="#666" stroke-width="0.4" />
<text x="30.00" y="317.97" font-size="3.7" text-anchor="end" font-weight="bold" fill="#222" >200</text>
<line x1="29.80" y1="304.64" x2="31.00" y2="304.64" stroke="#666" stroke-width="0.4" />
<text x="30.00" y="305.94" font-size="3.7" text-anchor="end" font-weight="bold" fill="#222" >400</text>
<line x1="29.80" y1="292.60" x2="31.00" y2="292.60" stroke="#666" stroke-width="0.4" />
<text x="30.00" y="293.90" font-size="3.7" text-anchor="end" font-weight="bold" fill="#222" >600</text>
<line x1="31.98" y1="329.40" x2="31.98" y2="330.40" stroke="#666" stroke-width="0.4" />
<text x="31.98" y="334.40" font-size="3.6" text-anchor="middle" font-weight="bold" fill="#222" >0</text>
<line x1="43.97" y1="329.40" x2="43.97" y2="330.40" stroke="#666" stroke-width="0.4" />
<text x="43.97" y="334.40" font-size="3.6" text-anchor="middle" font-weight="bold" fill="#222" >50K</text>
<line x1="55.96" y1="329.40" x2="55.96" y2="330.40" stroke="#666" stroke-width="0.4" />
<text x="55.96" y="334.40" font-size="3.6" text-anchor="middle" font-weight="bold" fill="#222" >100K</text>
<line x1="66.76" y1="329.40" x2="66.76" y2="330.40" stroke="#666" stroke-width="0.4" />
<text x="66.76" y="334.40" font-size="3.6" text-anchor="middle" font-weight="bold" fill="#222" >150K</text>
<text x="50.65" y="339.90" font-size="4.5" text-anchor="middle" stroke="#000" stroke-width="0.10" >DNA Content</text>
<text x="0" y="0" font-size="4.6" text-anchor="middle" transform="translate(22.50,307.90) rotate(-90)">Count</text>
<text x="103.10" y="288.60" font-size="5.3" text-anchor="middle" stroke="#000" stroke-width="0.10" >UNC0642</text>
<rect x="84.00" y="290.40" width="39.20" height="39.00" fill="#fff" stroke="#9a9a9a" stroke-width="0.55" />
<path d="M84.40,328.90 L84.40,328.90 L84.64,328.90 L84.88,328.90 L85.12,328.90 L85.36,328.90 L85.60,328.80 L85.84,328.33 L86.08,327.85 L86.32,327.38 L86.56,327.38 L86.80,327.38 L87.04,327.38 L87.28,327.38 L87.52,327.38 L87.76,327.38 L88.00,327.38 L88.24,327.38 L88.48,327.38 L88.72,327.38 L88.96,327.38 L89.20,327.38 L89.44,327.38 L89.68,327.38 L89.92,327.38 L90.16,327.38 L90.40,327.38 L90.64,327.38 L90.88,327.38 L91.12,327.38 L91.36,327.38 L91.60,327.38 L91.84,327.38 L92.08,327.38 L92.32,327.38 L92.56,327.38 L92.80,327.38 L93.04,327.38 L93.28,327.38 L93.52,327.38 L93.76,327.38 L94.00,327.38 L94.24,327.38 L94.48,327.37 L94.72,327.35 L94.96,327.25 L95.20,326.88 L95.44,325.46 L95.68,320.96 L95.92,311.66 L96.16,301.79 L96.30,301.16 L96.40,304.85 L96.64,313.72 L96.88,320.43 L97.12,323.82 L97.36,325.09 L97.60,325.57 L97.84,325.80 L98.08,325.93 L98.32,326.03 L98.56,326.09 L98.80,326.15 L99.04,326.19 L99.28,326.23 L99.52,326.26 L99.76,326.28 L100.00,326.30 L100.24,326.32 L100.48,326.33 L100.72,326.33 L100.96,326.33 L101.20,326.33 L101.44,326.32 L101.68,326.31 L101.92,326.29 L102.16,326.27 L102.40,326.25 L102.64,326.21 L102.88,326.18 L103.12,326.13 L103.36,326.07 L103.60,325.99 L103.84,325.85 L104.08,325.63 L104.32,325.28 L104.56,324.79 L104.80,324.18 L105.04,323.56 L105.28,323.06 L105.52,322.82 L105.76,323.08 L106.00,323.79 L106.24,324.77 L106.48,325.81 L106.72,326.74 L106.96,327.49 L107.20,328.02 L107.44,328.38 L107.68,328.61 L107.92,328.74 L108.16,328.82 L108.40,328.86 L108.64,328.88 L108.88,328.89 L109.12,328.90 L109.36,328.90 L109.60,328.90 L109.84,328.90 L110.08,328.90 L110.32,328.90 L110.56,328.90 L110.80,328.90 L111.04,328.90 L111.28,328.90 L111.52,328.90 L111.76,328.90 L112.00,328.90 L112.24,328.90 L112.48,328.90 L112.72,328.90 L112.96,328.90 L113.20,328.90 L113.44,328.90 L113.68,328.90 L113.92,328.90 L114.16,328.90 L114.40,328.90 L114.64,328.90 L114.88,328.90 L115.12,328.90 L115.36,328.90 L115.60,328.90 L115.84,328.90 L116.08,328.90 L116.32,328.90 L116.56,328.90 L116.80,328.90 L117.04,328.90 L117.28,328.90 L117.52,328.90 L117.76,328.90 L118.00,328.90 L118.24,328.90 L118.48,328.90 L118.72,328.90 L118.96,328.90 L119.20,328.90 L119.44,328.90 L119.68,328.90 L119.92,328.90 L120.16,328.90 L120.40,328.90 L120.64,328.90 L120.88,328.90 L121.12,328.90 L121.36,328.90 L121.60,328.90 L121.84,328.90 L122.08,328.90 L122.32,328.90 L122.56,328.90 L122.80,328.90 L122.80,328.90 Z" fill="#8a8a8a" stroke="#4a4a4a" stroke-width="0.35"/>
<line x1="82.80" y1="328.70" x2="84.00" y2="328.70" stroke="#666" stroke-width="0.4" />
<text x="83.00" y="330.00" font-size="3.7" text-anchor="end" font-weight="bold" fill="#222" >0</text>
<line x1="82.80" y1="316.67" x2="84.00" y2="316.67" stroke="#666" stroke-width="0.4" />
<text x="83.00" y="317.97" font-size="3.7" text-anchor="end" font-weight="bold" fill="#222" >200</text>
<line x1="82.80" y1="304.64" x2="84.00" y2="304.64" stroke="#666" stroke-width="0.4" />
<text x="83.00" y="305.94" font-size="3.7" text-anchor="end" font-weight="bold" fill="#222" >400</text>
<line x1="82.80" y1="292.60" x2="84.00" y2="292.60" stroke="#666" stroke-width="0.4" />
<text x="83.00" y="293.90" font-size="3.7" text-anchor="end" font-weight="bold" fill="#222" >600</text>
<line x1="84.98" y1="329.40" x2="84.98" y2="330.40" stroke="#666" stroke-width="0.4" />
<text x="84.98" y="334.40" font-size="3.6" text-anchor="middle" font-weight="bold" fill="#222" >0</text>
<line x1="96.94" y1="329.40" x2="96.94" y2="330.40" stroke="#666" stroke-width="0.4" />
<text x="96.94" y="334.40" font-size="3.6" text-anchor="middle" font-weight="bold" fill="#222" >50K</text>
<line x1="108.89" y1="329.40" x2="108.89" y2="330.40" stroke="#666" stroke-width="0.4" />
<text x="108.89" y="334.40" font-size="3.6" text-anchor="middle" font-weight="bold" fill="#222" >100K</text>
<line x1="119.67" y1="329.40" x2="119.67" y2="330.40" stroke="#666" stroke-width="0.4" />
<text x="119.67" y="334.40" font-size="3.6" text-anchor="middle" font-weight="bold" fill="#222" >150K</text>
<text x="105.20" y="339.90" font-size="4.5" text-anchor="middle" stroke="#000" stroke-width="0.10" >DNA Content</text>
<text x="0" y="0" font-size="4.6" text-anchor="middle" transform="translate(75.50,307.90) rotate(-90)">Count</text>
<text x="48.45" y="348.50" font-size="5.3" text-anchor="middle" stroke="#000" stroke-width="0.10" >GSK126</text>
<rect x="31.00" y="350.30" width="39.30" height="38.30" fill="#fff" stroke="#9a9a9a" stroke-width="0.55" />
<path d="M31.40,388.10 L31.40,388.10 L31.64,388.10 L31.88,388.10 L32.12,388.10 L32.36,388.10 L32.60,388.10 L32.84,388.10 L33.08,388.10 L33.32,388.10 L33.57,388.10 L33.81,388.10 L34.05,388.10 L34.29,388.10 L34.53,388.10 L34.77,388.10 L35.01,388.10 L35.25,388.10 L35.49,388.10 L35.73,388.10 L35.97,388.10 L36.21,388.10 L36.45,388.10 L36.69,388.10 L36.93,388.10 L37.17,388.10 L37.42,388.10 L37.66,388.10 L37.90,388.10 L38.14,388.10 L38.38,388.10 L38.62,388.10 L38.86,388.10 L39.10,388.10 L39.34,388.10 L39.58,388.10 L39.82,388.10 L40.06,388.10 L40.30,388.10 L40.54,388.10 L40.78,388.09 L41.02,388.06 L41.27,387.93 L41.51,387.41 L41.75,385.34 L41.99,379.03 L42.23,367.24 L42.47,356.81 L42.56,355.65 L42.71,362.24 L42.95,372.54 L43.19,379.75 L43.43,383.13 L43.67,384.35 L43.91,384.81 L44.15,385.04 L44.39,385.18 L44.63,385.27 L44.87,385.33 L45.12,385.39 L45.36,385.43 L45.60,385.46 L45.84,385.50 L46.08,385.52 L46.32,385.54 L46.56,385.56 L46.80,385.57 L47.04,385.58 L47.28,385.58 L47.52,385.58 L47.76,385.58 L48.00,385.57 L48.24,385.56 L48.48,385.54 L48.72,385.52 L48.97,385.49 L49.21,385.46 L49.45,385.43 L49.69,385.39 L49.93,385.33 L50.17,385.26 L50.41,385.15 L50.65,384.97 L50.89,384.68 L51.13,384.26 L51.37,383.70 L51.61,383.09 L51.85,382.54 L52.09,382.19 L52.19,382.13 L52.33,382.23 L52.57,382.76 L52.82,383.65 L53.06,384.67 L53.30,385.64 L53.54,386.45 L53.78,387.05 L54.02,387.47 L54.26,387.74 L54.50,387.90 L54.74,388.00 L54.98,388.05 L55.22,388.08 L55.46,388.09 L55.70,388.10 L55.94,388.10 L56.18,388.10 L56.42,388.10 L56.67,388.10 L56.91,388.10 L57.15,388.10 L57.39,388.10 L57.63,388.10 L57.87,388.10 L58.11,388.10 L58.35,388.10 L58.59,388.10 L58.83,388.10 L59.07,388.10 L59.31,388.10 L59.55,388.10 L59.79,388.10 L60.03,388.10 L60.27,388.10 L60.52,388.10 L60.76,388.10 L61.00,388.10 L61.24,388.10 L61.48,388.10 L61.72,388.10 L61.96,388.10 L62.20,388.10 L62.44,388.10 L62.68,388.10 L62.92,388.10 L63.16,388.10 L63.40,388.10 L63.64,388.10 L63.88,388.10 L64.12,388.10 L64.37,388.10 L64.61,388.10 L64.85,388.10 L65.09,388.10 L65.33,388.10 L65.57,388.10 L65.81,388.10 L66.05,388.10 L66.29,388.10 L66.53,388.10 L66.77,388.10 L67.01,388.10 L67.25,388.10 L67.49,388.10 L67.73,388.10 L67.97,388.10 L68.22,388.10 L68.46,388.10 L68.70,388.10 L68.94,388.10 L69.18,388.10 L69.42,388.10 L69.66,388.10 L69.90,388.10 L69.90,388.10 Z" fill="#8a8a8a" stroke="#4a4a4a" stroke-width="0.35"/>
<line x1="29.80" y1="387.90" x2="31.00" y2="387.90" stroke="#666" stroke-width="0.4" />
<text x="30.00" y="389.20" font-size="3.7" text-anchor="end" font-weight="bold" fill="#222" >0</text>
<line x1="29.80" y1="376.09" x2="31.00" y2="376.09" stroke="#666" stroke-width="0.4" />
<text x="30.00" y="377.39" font-size="3.7" text-anchor="end" font-weight="bold" fill="#222" >200</text>
<line x1="29.80" y1="364.28" x2="31.00" y2="364.28" stroke="#666" stroke-width="0.4" />
<text x="30.00" y="365.58" font-size="3.7" text-anchor="end" font-weight="bold" fill="#222" >400</text>
<line x1="29.80" y1="352.48" x2="31.00" y2="352.48" stroke="#666" stroke-width="0.4" />
<text x="30.00" y="353.78" font-size="3.7" text-anchor="end" font-weight="bold" fill="#222" >600</text>
<line x1="31.98" y1="388.60" x2="31.98" y2="389.60" stroke="#666" stroke-width="0.4" />
<text x="31.98" y="393.60" font-size="3.6" text-anchor="middle" font-weight="bold" fill="#222" >0</text>
<line x1="43.97" y1="388.60" x2="43.97" y2="389.60" stroke="#666" stroke-width="0.4" />
<text x="43.97" y="393.60" font-size="3.6" text-anchor="middle" font-weight="bold" fill="#222" >50K</text>
<line x1="55.96" y1="388.60" x2="55.96" y2="389.60" stroke="#666" stroke-width="0.4" />
<text x="55.96" y="393.60" font-size="3.6" text-anchor="middle" font-weight="bold" fill="#222" >100K</text>
<line x1="66.76" y1="388.60" x2="66.76" y2="389.60" stroke="#666" stroke-width="0.4" />
<text x="66.76" y="393.60" font-size="3.6" text-anchor="middle" font-weight="bold" fill="#222" >150K</text>
<text x="50.65" y="399.10" font-size="4.5" text-anchor="middle" stroke="#000" stroke-width="0.10" >DNA Content</text>
<text x="0" y="0" font-size="4.6" text-anchor="middle" transform="translate(22.50,367.45) rotate(-90)">Count</text>
<text x="103.00" y="348.50" font-size="5.3" text-anchor="middle" stroke="#000" stroke-width="0.10" >UNC0642+GSK126</text>
<rect x="83.70" y="350.30" width="39.60" height="38.30" fill="#fff" stroke="#9a9a9a" stroke-width="0.55" />
<path d="M84.10,388.10 L84.10,388.10 L84.34,388.10 L84.59,388.10 L84.83,388.10 L85.07,387.54 L85.31,386.84 L85.56,386.14 L85.80,385.86 L86.04,385.86 L86.28,385.86 L86.53,385.86 L86.77,385.86 L87.01,385.86 L87.25,385.86 L87.50,385.86 L87.74,385.86 L87.98,385.86 L88.22,385.86 L88.47,385.86 L88.71,385.86 L88.95,385.86 L89.19,385.86 L89.44,385.86 L89.68,385.86 L89.92,385.86 L90.16,385.86 L90.41,385.86 L90.65,385.86 L90.89,385.86 L91.13,385.86 L91.38,385.86 L91.62,385.86 L91.86,385.86 L92.10,385.86 L92.35,385.86 L92.59,385.86 L92.83,385.86 L93.07,385.86 L93.32,385.86 L93.56,385.86 L93.80,385.86 L94.04,385.86 L94.29,385.86 L94.53,385.83 L94.77,385.74 L95.01,385.40 L95.26,384.09 L95.50,379.94 L95.74,371.38 L95.98,362.29 L96.13,362.55 L96.23,365.95 L96.47,374.11 L96.71,380.28 L96.95,383.40 L97.20,384.58 L97.44,385.01 L97.68,385.22 L97.92,385.35 L98.17,385.44 L98.41,385.50 L98.65,385.55 L98.89,385.59 L99.14,385.62 L99.38,385.65 L99.62,385.67 L99.86,385.69 L100.11,385.71 L100.35,385.72 L100.59,385.72 L100.83,385.72 L101.08,385.72 L101.32,385.71 L101.56,385.70 L101.80,385.68 L102.05,385.66 L102.29,385.64 L102.53,385.61 L102.77,385.58 L103.02,385.53 L103.26,385.48 L103.50,385.40 L103.74,385.27 L103.99,385.05 L104.23,384.71 L104.47,384.23 L104.71,383.64 L104.96,383.03 L105.20,382.55 L105.44,382.32 L105.68,382.57 L105.93,383.25 L106.17,384.19 L106.41,385.18 L106.65,386.07 L106.90,386.77 L107.14,387.28 L107.38,387.62 L107.62,387.83 L107.87,387.95 L108.11,388.03 L108.35,388.06 L108.59,388.08 L108.84,388.09 L109.08,388.10 L109.32,388.10 L109.56,388.10 L109.81,388.10 L110.05,388.10 L110.29,388.10 L110.53,388.10 L110.78,388.10 L111.02,388.10 L111.26,388.10 L111.50,388.10 L111.75,388.10 L111.99,388.10 L112.23,388.10 L112.47,388.10 L112.72,388.10 L112.96,388.10 L113.20,388.10 L113.44,388.10 L113.69,388.10 L113.93,388.10 L114.17,388.10 L114.41,388.10 L114.66,388.10 L114.90,388.10 L115.14,388.10 L115.38,388.10 L115.62,388.10 L115.87,388.10 L116.11,388.10 L116.35,388.10 L116.59,388.10 L116.84,388.10 L117.08,388.10 L117.32,388.10 L117.56,388.10 L117.81,388.10 L118.05,388.10 L118.29,388.10 L118.53,388.10 L118.78,388.10 L119.02,388.10 L119.26,388.10 L119.50,388.10 L119.75,388.10 L119.99,388.10 L120.23,388.10 L120.48,388.10 L120.72,388.10 L120.96,388.10 L121.20,388.10 L121.45,388.10 L121.69,388.10 L121.93,388.10 L122.17,388.10 L122.42,388.10 L122.66,388.10 L122.90,388.10 L122.90,388.10 Z" fill="#8a8a8a" stroke="#4a4a4a" stroke-width="0.35"/>
<line x1="82.50" y1="387.90" x2="83.70" y2="387.90" stroke="#666" stroke-width="0.4" />
<text x="82.70" y="389.20" font-size="3.7" text-anchor="end" font-weight="bold" fill="#222" >0</text>
<line x1="82.50" y1="376.09" x2="83.70" y2="376.09" stroke="#666" stroke-width="0.4" />
<text x="82.70" y="377.39" font-size="3.7" text-anchor="end" font-weight="bold" fill="#222" >200</text>
<line x1="82.50" y1="364.28" x2="83.70" y2="364.28" stroke="#666" stroke-width="0.4" />
<text x="82.70" y="365.58" font-size="3.7" text-anchor="end" font-weight="bold" fill="#222" >400</text>
<line x1="82.50" y1="352.48" x2="83.70" y2="352.48" stroke="#666" stroke-width="0.4" />
<text x="82.70" y="353.78" font-size="3.7" text-anchor="end" font-weight="bold" fill="#222" >600</text>
<line x1="84.69" y1="388.60" x2="84.69" y2="389.60" stroke="#666" stroke-width="0.4" />
<text x="84.69" y="393.60" font-size="3.6" text-anchor="middle" font-weight="bold" fill="#222" >0</text>
<line x1="96.77" y1="388.60" x2="96.77" y2="389.60" stroke="#666" stroke-width="0.4" />
<text x="96.77" y="393.60" font-size="3.6" text-anchor="middle" font-weight="bold" fill="#222" >50K</text>
<line x1="108.85" y1="388.60" x2="108.85" y2="389.60" stroke="#666" stroke-width="0.4" />
<text x="108.85" y="393.60" font-size="3.6" text-anchor="middle" font-weight="bold" fill="#222" >100K</text>
<line x1="119.74" y1="388.60" x2="119.74" y2="389.60" stroke="#666" stroke-width="0.4" />
<text x="119.74" y="393.60" font-size="3.6" text-anchor="middle" font-weight="bold" fill="#222" >150K</text>
<text x="105.10" y="399.10" font-size="4.5" text-anchor="middle" stroke="#000" stroke-width="0.10" >DNA Content</text>
<text x="0" y="0" font-size="4.6" text-anchor="middle" transform="translate(75.20,367.45) rotate(-90)">Count</text>
<line x1="158.60" y1="31.40" x2="158.60" y2="101.60" stroke="#7a7a7a" stroke-width="0.8" />
<line x1="157.00" y1="101.60" x2="158.60" y2="101.60" stroke="#7a7a7a" stroke-width="0.7" />
<text x="156.60" y="104.70" font-size="9.0" text-anchor="end" stroke="#000" stroke-width="0.13" >0</text>
<line x1="157.00" y1="84.05" x2="158.60" y2="84.05" stroke="#7a7a7a" stroke-width="0.7" />
<text x="156.60" y="87.15" font-size="9.0" text-anchor="end" stroke="#000" stroke-width="0.13" >20</text>
<line x1="157.00" y1="66.50" x2="158.60" y2="66.50" stroke="#7a7a7a" stroke-width="0.7" />
<text x="156.60" y="69.60" font-size="9.0" text-anchor="end" stroke="#000" stroke-width="0.13" >40</text>
<line x1="157.00" y1="48.95" x2="158.60" y2="48.95" stroke="#7a7a7a" stroke-width="0.7" />
<text x="156.60" y="52.05" font-size="9.0" text-anchor="end" stroke="#000" stroke-width="0.13" >60</text>
<line x1="157.00" y1="31.40" x2="158.60" y2="31.40" stroke="#7a7a7a" stroke-width="0.7" />
<text x="156.60" y="34.50" font-size="9.0" text-anchor="end" stroke="#000" stroke-width="0.13" >80</text>
<line x1="158.60" y1="101.60" x2="248.80" y2="101.60" stroke="#7a7a7a" stroke-width="0.8" />
<rect x="161.80" y="101.34" width="4.40" height="0.26" fill="#0a0a0a" stroke="#111" stroke-width="0.35" />
<rect x="166.20" y="101.34" width="4.40" height="0.26" fill="#dedede" stroke="#111" stroke-width="0.35" />
<rect x="170.60" y="100.55" width="4.40" height="1.05" fill="#6b6b6b" stroke="#111" stroke-width="0.35" />
<line x1="177.20" y1="77.73" x2="177.20" y2="75.10" stroke="#222" stroke-width="0.4" />
<line x1="176.20" y1="75.10" x2="178.20" y2="75.10" stroke="#222" stroke-width="0.4" />
<rect x="175.00" y="77.73" width="4.40" height="23.87" fill="#e3262c" stroke="#111" stroke-width="0.35" />
<line x1="170.60" y1="101.60" x2="170.60" y2="103.10" stroke="#7a7a7a" stroke-width="0.6" />
<line x1="186.40" y1="61.06" x2="186.40" y2="59.30" stroke="#222" stroke-width="0.4" />
<line x1="185.40" y1="59.30" x2="187.40" y2="59.30" stroke="#222" stroke-width="0.4" />
<rect x="184.20" y="61.06" width="4.40" height="40.54" fill="#0a0a0a" stroke="#111" stroke-width="0.35" />
<line x1="190.80" y1="51.58" x2="190.80" y2="49.83" stroke="#222" stroke-width="0.4" />
<line x1="189.80" y1="49.83" x2="191.80" y2="49.83" stroke="#222" stroke-width="0.4" />
<rect x="188.60" y="51.58" width="4.40" height="50.02" fill="#dedede" stroke="#111" stroke-width="0.35" />
<line x1="195.20" y1="50.70" x2="195.20" y2="49.39" stroke="#222" stroke-width="0.4" />
<line x1="194.20" y1="49.39" x2="196.20" y2="49.39" stroke="#222" stroke-width="0.4" />
<rect x="193.00" y="50.70" width="4.40" height="50.90" fill="#6b6b6b" stroke="#111" stroke-width="0.35" />
<line x1="199.60" y1="70.89" x2="199.60" y2="63.87" stroke="#222" stroke-width="0.4" />
<line x1="198.60" y1="63.87" x2="200.60" y2="63.87" stroke="#222" stroke-width="0.4" />
<rect x="197.40" y="70.89" width="4.40" height="30.71" fill="#e3262c" stroke="#111" stroke-width="0.35" />
<line x1="193.00" y1="101.60" x2="193.00" y2="103.10" stroke="#7a7a7a" stroke-width="0.6" />
<line x1="208.70" y1="66.50" x2="208.70" y2="63.87" stroke="#222" stroke-width="0.4" />
<line x1="207.70" y1="63.87" x2="209.70" y2="63.87" stroke="#222" stroke-width="0.4" />
<rect x="206.50" y="66.50" width="4.40" height="35.10" fill="#0a0a0a" stroke="#111" stroke-width="0.35" />
<line x1="213.10" y1="74.40" x2="213.10" y2="72.64" stroke="#222" stroke-width="0.4" />
<line x1="212.10" y1="72.64" x2="214.10" y2="72.64" stroke="#222" stroke-width="0.4" />
<rect x="210.90" y="74.40" width="4.40" height="27.20" fill="#dedede" stroke="#111" stroke-width="0.35" />
<line x1="217.50" y1="74.05" x2="217.50" y2="72.29" stroke="#222" stroke-width="0.4" />
<line x1="216.50" y1="72.29" x2="218.50" y2="72.29" stroke="#222" stroke-width="0.4" />
<rect x="215.30" y="74.05" width="4.40" height="27.55" fill="#6b6b6b" stroke="#111" stroke-width="0.35" />
<line x1="221.90" y1="81.42" x2="221.90" y2="80.54" stroke="#222" stroke-width="0.4" />
<line x1="220.90" y1="80.54" x2="222.90" y2="80.54" stroke="#222" stroke-width="0.4" />
<rect x="219.70" y="81.42" width="4.40" height="20.18" fill="#e3262c" stroke="#111" stroke-width="0.35" />
<line x1="215.30" y1="101.60" x2="215.30" y2="103.10" stroke="#7a7a7a" stroke-width="0.6" />
<line x1="230.90" y1="91.51" x2="230.90" y2="89.75" stroke="#222" stroke-width="0.4" />
<line x1="229.90" y1="89.75" x2="231.90" y2="89.75" stroke="#222" stroke-width="0.4" />
<rect x="228.70" y="91.51" width="4.40" height="10.09" fill="#0a0a0a" stroke="#111" stroke-width="0.35" />
<line x1="235.30" y1="91.07" x2="235.30" y2="90.19" stroke="#222" stroke-width="0.4" />
<line x1="234.30" y1="90.19" x2="236.30" y2="90.19" stroke="#222" stroke-width="0.4" />
<rect x="233.10" y="91.07" width="4.40" height="10.53" fill="#dedede" stroke="#111" stroke-width="0.35" />
<line x1="239.70" y1="92.21" x2="239.70" y2="91.33" stroke="#222" stroke-width="0.4" />
<line x1="238.70" y1="91.33" x2="240.70" y2="91.33" stroke="#222" stroke-width="0.4" />
<rect x="237.50" y="92.21" width="4.40" height="9.39" fill="#6b6b6b" stroke="#111" stroke-width="0.35" />
<line x1="244.10" y1="86.86" x2="244.10" y2="84.23" stroke="#222" stroke-width="0.4" />
<line x1="243.10" y1="84.23" x2="245.10" y2="84.23" stroke="#222" stroke-width="0.4" />
<rect x="241.90" y="86.86" width="4.40" height="14.74" fill="#e3262c" stroke="#111" stroke-width="0.35" />
<line x1="237.50" y1="101.60" x2="237.50" y2="103.10" stroke="#7a7a7a" stroke-width="0.6" />
<line x1="163.70" y1="71.00" x2="177.20" y2="71.00" stroke="#333" stroke-width="0.5" />
<line x1="163.70" y1="71.00" x2="163.70" y2="72.20" stroke="#333" stroke-width="0.5" />
<line x1="177.20" y1="71.00" x2="177.20" y2="72.20" stroke="#333" stroke-width="0.5" />
<text x="170.95" y="71.60" font-size="7.0" text-anchor="middle" font-weight="bold" letter-spacing="1.0">****</text>
<line x1="185.90" y1="46.20" x2="199.70" y2="46.20" stroke="#333" stroke-width="0.5" />
<line x1="185.90" y1="46.20" x2="185.90" y2="47.40" stroke="#333" stroke-width="0.5" />
<line x1="199.70" y1="46.20" x2="199.70" y2="47.40" stroke="#333" stroke-width="0.5" />
<text x="193.30" y="46.80" font-size="7.0" text-anchor="middle" font-weight="bold" letter-spacing="1.0">*</text>
<line x1="207.20" y1="59.40" x2="221.60" y2="59.40" stroke="#333" stroke-width="0.5" />
<line x1="207.20" y1="59.40" x2="207.20" y2="60.60" stroke="#333" stroke-width="0.5" />
<line x1="221.60" y1="59.40" x2="221.60" y2="60.60" stroke="#333" stroke-width="0.5" />
<text x="214.90" y="60.00" font-size="7.0" text-anchor="middle" font-weight="bold" letter-spacing="1.0">**</text>
<text x="0" y="0" font-size="9.1" text-anchor="end" stroke="#000" stroke-width="0.12" transform="translate(174.60,108.20) rotate(-45)">preG<tspan font-size="5.6" dy="1.6">1</tspan></text>
<text x="0" y="0" font-size="9.1" text-anchor="end" stroke="#000" stroke-width="0.12" transform="translate(197.00,108.20) rotate(-45)">G<tspan font-size="5.6" dy="1.6">1</tspan></text>
<text x="0" y="0" font-size="9.1" text-anchor="end" stroke="#000" stroke-width="0.12" transform="translate(219.30,108.20) rotate(-45)">S</text>
<text x="0" y="0" font-size="9.1" text-anchor="end" stroke="#000" stroke-width="0.12" transform="translate(241.50,108.20) rotate(-45)">G<tspan font-size="5.6" dy="1.6">2</tspan><tspan dy="-1.6">–M</tspan></text>
<text x="0" y="0" font-size="8.8" text-anchor="middle" stroke="#000" stroke-width="0.12" transform="translate(142.60,65.70) rotate(-90)">Cells (%)</text>
<line x1="154.60" y1="167.40" x2="154.60" y2="237.40" stroke="#7a7a7a" stroke-width="0.8" />
<line x1="153.00" y1="237.40" x2="154.60" y2="237.40" stroke="#7a7a7a" stroke-width="0.7" />
<text x="152.60" y="240.50" font-size="9.0" text-anchor="end" stroke="#000" stroke-width="0.13" >0</text>
<line x1="153.00" y1="219.90" x2="154.60" y2="219.90" stroke="#7a7a7a" stroke-width="0.7" />
<text x="152.60" y="223.00" font-size="9.0" text-anchor="end" stroke="#000" stroke-width="0.13" >20</text>
<line x1="153.00" y1="202.40" x2="154.60" y2="202.40" stroke="#7a7a7a" stroke-width="0.7" />
<text x="152.60" y="205.50" font-size="9.0" text-anchor="end" stroke="#000" stroke-width="0.13" >40</text>
<line x1="153.00" y1="184.90" x2="154.60" y2="184.90" stroke="#7a7a7a" stroke-width="0.7" />
<text x="152.60" y="188.00" font-size="9.0" text-anchor="end" stroke="#000" stroke-width="0.13" >60</text>
<line x1="153.00" y1="167.40" x2="154.60" y2="167.40" stroke="#7a7a7a" stroke-width="0.7" />
<text x="152.60" y="170.50" font-size="9.0" text-anchor="end" stroke="#000" stroke-width="0.13" >80</text>
<line x1="154.60" y1="237.40" x2="244.80" y2="237.40" stroke="#7a7a7a" stroke-width="0.8" />
<line x1="159.80" y1="236.09" x2="159.80" y2="235.83" stroke="#222" stroke-width="0.4" />
<line x1="158.80" y1="235.83" x2="160.80" y2="235.83" stroke="#222" stroke-width="0.4" />
<rect x="157.60" y="236.09" width="4.40" height="1.31" fill="#0a0a0a" stroke="#111" stroke-width="0.35" />
<line x1="164.20" y1="228.39" x2="164.20" y2="227.51" stroke="#222" stroke-width="0.4" />
<line x1="163.20" y1="227.51" x2="165.20" y2="227.51" stroke="#222" stroke-width="0.4" />
<rect x="162.00" y="228.39" width="4.40" height="9.01" fill="#dedede" stroke="#111" stroke-width="0.35" />
<line x1="168.60" y1="235.65" x2="168.60" y2="235.39" stroke="#222" stroke-width="0.4" />
<line x1="167.60" y1="235.39" x2="169.60" y2="235.39" stroke="#222" stroke-width="0.4" />
<rect x="166.40" y="235.65" width="4.40" height="1.75" fill="#6b6b6b" stroke="#111" stroke-width="0.35" />
<line x1="173.00" y1="219.03" x2="173.00" y2="218.59" stroke="#222" stroke-width="0.4" />
<line x1="172.00" y1="218.59" x2="174.00" y2="218.59" stroke="#222" stroke-width="0.4" />
<rect x="170.80" y="219.03" width="4.40" height="18.38" fill="#e3262c" stroke="#111" stroke-width="0.35" />
<line x1="166.40" y1="237.40" x2="166.40" y2="238.90" stroke="#7a7a7a" stroke-width="0.6" />
<line x1="182.20" y1="191.11" x2="182.20" y2="190.68" stroke="#222" stroke-width="0.4" />
<line x1="181.20" y1="190.68" x2="183.20" y2="190.68" stroke="#222" stroke-width="0.4" />
<rect x="180.00" y="191.11" width="4.40" height="46.29" fill="#0a0a0a" stroke="#111" stroke-width="0.35" />
<line x1="186.60" y1="176.15" x2="186.60" y2="173.53" stroke="#222" stroke-width="0.4" />
<line x1="185.60" y1="173.53" x2="187.60" y2="173.53" stroke="#222" stroke-width="0.4" />
<rect x="184.40" y="176.15" width="4.40" height="61.25" fill="#dedede" stroke="#111" stroke-width="0.35" />
<line x1="191.00" y1="191.11" x2="191.00" y2="190.68" stroke="#222" stroke-width="0.4" />
<line x1="190.00" y1="190.68" x2="192.00" y2="190.68" stroke="#222" stroke-width="0.4" />
<rect x="188.80" y="191.11" width="4.40" height="46.29" fill="#6b6b6b" stroke="#111" stroke-width="0.35" />
<line x1="195.40" y1="191.03" x2="195.40" y2="190.15" stroke="#222" stroke-width="0.4" />
<line x1="194.40" y1="190.15" x2="196.40" y2="190.15" stroke="#222" stroke-width="0.4" />
<rect x="193.20" y="191.03" width="4.40" height="46.38" fill="#e3262c" stroke="#111" stroke-width="0.35" />
<line x1="188.80" y1="237.40" x2="188.80" y2="238.90" stroke="#7a7a7a" stroke-width="0.6" />
<line x1="204.50" y1="210.36" x2="204.50" y2="209.93" stroke="#222" stroke-width="0.4" />
<line x1="203.50" y1="209.93" x2="205.50" y2="209.93" stroke="#222" stroke-width="0.4" />
<rect x="202.30" y="210.36" width="4.40" height="27.04" fill="#0a0a0a" stroke="#111" stroke-width="0.35" />
<line x1="208.90" y1="227.16" x2="208.90" y2="226.29" stroke="#222" stroke-width="0.4" />
<line x1="207.90" y1="226.29" x2="209.90" y2="226.29" stroke="#222" stroke-width="0.4" />
<rect x="206.70" y="227.16" width="4.40" height="10.24" fill="#dedede" stroke="#111" stroke-width="0.35" />
<line x1="213.30" y1="213.34" x2="213.30" y2="212.90" stroke="#222" stroke-width="0.4" />
<line x1="212.30" y1="212.90" x2="214.30" y2="212.90" stroke="#222" stroke-width="0.4" />
<rect x="211.10" y="213.34" width="4.40" height="24.06" fill="#6b6b6b" stroke="#111" stroke-width="0.35" />
<line x1="217.70" y1="227.60" x2="217.70" y2="227.16" stroke="#222" stroke-width="0.4" />
<line x1="216.70" y1="227.16" x2="218.70" y2="227.16" stroke="#222" stroke-width="0.4" />
<rect x="215.50" y="227.60" width="4.40" height="9.80" fill="#e3262c" stroke="#111" stroke-width="0.35" />
<line x1="211.10" y1="237.40" x2="211.10" y2="238.90" stroke="#7a7a7a" stroke-width="0.6" />
<line x1="226.90" y1="224.89" x2="226.90" y2="224.45" stroke="#222" stroke-width="0.4" />
<line x1="225.90" y1="224.45" x2="227.90" y2="224.45" stroke="#222" stroke-width="0.4" />
<rect x="224.70" y="224.89" width="4.40" height="12.51" fill="#0a0a0a" stroke="#111" stroke-width="0.35" />
<line x1="231.30" y1="229.88" x2="231.30" y2="229.00" stroke="#222" stroke-width="0.4" />
<line x1="230.30" y1="229.00" x2="232.30" y2="229.00" stroke="#222" stroke-width="0.4" />
<rect x="229.10" y="229.88" width="4.40" height="7.52" fill="#dedede" stroke="#111" stroke-width="0.35" />
<line x1="235.70" y1="222.53" x2="235.70" y2="222.09" stroke="#222" stroke-width="0.4" />
<line x1="234.70" y1="222.09" x2="236.70" y2="222.09" stroke="#222" stroke-width="0.4" />
<rect x="233.50" y="222.53" width="4.40" height="14.88" fill="#6b6b6b" stroke="#111" stroke-width="0.35" />
<line x1="240.10" y1="225.15" x2="240.10" y2="224.71" stroke="#222" stroke-width="0.4" />
<line x1="239.10" y1="224.71" x2="241.10" y2="224.71" stroke="#222" stroke-width="0.4" />
<rect x="237.90" y="225.15" width="4.40" height="12.25" fill="#e3262c" stroke="#111" stroke-width="0.35" />
<line x1="233.50" y1="237.40" x2="233.50" y2="238.90" stroke="#7a7a7a" stroke-width="0.6" />
<line x1="159.60" y1="216.20" x2="171.70" y2="216.20" stroke="#333" stroke-width="0.5" />
<line x1="159.60" y1="216.20" x2="159.60" y2="217.40" stroke="#333" stroke-width="0.5" />
<line x1="171.70" y1="216.20" x2="171.70" y2="217.40" stroke="#333" stroke-width="0.5" />
<text x="166.15" y="216.80" font-size="7.0" text-anchor="middle" font-weight="bold" letter-spacing="1.0">*</text>
<line x1="181.40" y1="170.50" x2="185.50" y2="170.50" stroke="#333" stroke-width="0.5" />
<line x1="181.40" y1="170.50" x2="181.40" y2="171.70" stroke="#333" stroke-width="0.5" />
<line x1="185.50" y1="170.50" x2="185.50" y2="171.70" stroke="#333" stroke-width="0.5" />
<text x="183.95" y="171.10" font-size="7.0" text-anchor="middle" font-weight="bold" letter-spacing="1.0">*</text>
<line x1="202.60" y1="205.60" x2="206.50" y2="205.60" stroke="#333" stroke-width="0.5" />
<line x1="202.60" y1="205.60" x2="202.60" y2="206.80" stroke="#333" stroke-width="0.5" />
<line x1="206.50" y1="205.60" x2="206.50" y2="206.80" stroke="#333" stroke-width="0.5" />
<text x="205.05" y="206.20" font-size="7.0" text-anchor="middle" font-weight="bold" letter-spacing="1.0">*</text>
<text x="0" y="0" font-size="9.1" text-anchor="end" stroke="#000" stroke-width="0.12" transform="translate(170.40,244.00) rotate(-45)">preG<tspan font-size="5.6" dy="1.6">1</tspan></text>
<text x="0" y="0" font-size="9.1" text-anchor="end" stroke="#000" stroke-width="0.12" transform="translate(192.80,244.00) rotate(-45)">G<tspan font-size="5.6" dy="1.6">1</tspan></text>
<text x="0" y="0" font-size="9.1" text-anchor="end" stroke="#000" stroke-width="0.12" transform="translate(215.10,244.00) rotate(-45)">S</text>
<text x="0" y="0" font-size="9.1" text-anchor="end" stroke="#000" stroke-width="0.12" transform="translate(237.50,244.00) rotate(-45)">G<tspan font-size="5.6" dy="1.6">2</tspan><tspan dy="-1.6">–M</tspan></text>
<text x="0" y="0" font-size="8.8" text-anchor="middle" stroke="#000" stroke-width="0.12" transform="translate(140.10,200.80) rotate(-90)">Cells (%)</text>
<line x1="154.60" y1="296.80" x2="154.60" y2="366.80" stroke="#7a7a7a" stroke-width="0.8" />
<line x1="153.00" y1="366.80" x2="154.60" y2="366.80" stroke="#7a7a7a" stroke-width="0.7" />
<text x="152.60" y="369.90" font-size="9.0" text-anchor="end" stroke="#000" stroke-width="0.13" >0</text>
<line x1="153.00" y1="349.30" x2="154.60" y2="349.30" stroke="#7a7a7a" stroke-width="0.7" />
<text x="152.60" y="352.40" font-size="9.0" text-anchor="end" stroke="#000" stroke-width="0.13" >20</text>
<line x1="153.00" y1="331.80" x2="154.60" y2="331.80" stroke="#7a7a7a" stroke-width="0.7" />
<text x="152.60" y="334.90" font-size="9.0" text-anchor="end" stroke="#000" stroke-width="0.13" >40</text>
<line x1="153.00" y1="314.30" x2="154.60" y2="314.30" stroke="#7a7a7a" stroke-width="0.7" />
<text x="152.60" y="317.40" font-size="9.0" text-anchor="end" stroke="#000" stroke-width="0.13" >60</text>
<line x1="153.00" y1="296.80" x2="154.60" y2="296.80" stroke="#7a7a7a" stroke-width="0.7" />
<text x="152.60" y="299.90" font-size="9.0" text-anchor="end" stroke="#000" stroke-width="0.13" >80</text>
<line x1="154.60" y1="366.80" x2="244.80" y2="366.80" stroke="#7a7a7a" stroke-width="0.8" />
<line x1="159.60" y1="363.48" x2="159.60" y2="363.21" stroke="#222" stroke-width="0.4" />
<line x1="158.60" y1="363.21" x2="160.60" y2="363.21" stroke="#222" stroke-width="0.4" />
<rect x="157.40" y="363.48" width="4.40" height="3.33" fill="#0a0a0a" stroke="#111" stroke-width="0.35" />
<line x1="164.00" y1="358.05" x2="164.00" y2="357.61" stroke="#222" stroke-width="0.4" />
<line x1="163.00" y1="357.61" x2="165.00" y2="357.61" stroke="#222" stroke-width="0.4" />
<rect x="161.80" y="358.05" width="4.40" height="8.75" fill="#dedede" stroke="#111" stroke-width="0.35" />
<line x1="168.40" y1="362.43" x2="168.40" y2="361.99" stroke="#222" stroke-width="0.4" />
<line x1="167.40" y1="361.99" x2="169.40" y2="361.99" stroke="#222" stroke-width="0.4" />
<rect x="166.20" y="362.43" width="4.40" height="4.38" fill="#6b6b6b" stroke="#111" stroke-width="0.35" />
<line x1="172.80" y1="350.70" x2="172.80" y2="349.82" stroke="#222" stroke-width="0.4" />
<line x1="171.80" y1="349.82" x2="173.80" y2="349.82" stroke="#222" stroke-width="0.4" />
<rect x="170.60" y="350.70" width="4.40" height="16.10" fill="#e3262c" stroke="#111" stroke-width="0.35" />
<line x1="166.20" y1="366.80" x2="166.20" y2="368.30" stroke="#7a7a7a" stroke-width="0.6" />
<line x1="182.00" y1="328.30" x2="182.00" y2="327.86" stroke="#222" stroke-width="0.4" />
<line x1="181.00" y1="327.86" x2="183.00" y2="327.86" stroke="#222" stroke-width="0.4" />
<rect x="179.80" y="328.30" width="4.40" height="38.50" fill="#0a0a0a" stroke="#111" stroke-width="0.35" />
<line x1="186.40" y1="327.43" x2="186.40" y2="326.99" stroke="#222" stroke-width="0.4" />
<line x1="185.40" y1="326.99" x2="187.40" y2="326.99" stroke="#222" stroke-width="0.4" />
<rect x="184.20" y="327.43" width="4.40" height="39.38" fill="#dedede" stroke="#111" stroke-width="0.35" />
<line x1="190.80" y1="326.55" x2="190.80" y2="326.11" stroke="#222" stroke-width="0.4" />
<line x1="189.80" y1="326.11" x2="191.80" y2="326.11" stroke="#222" stroke-width="0.4" />
<rect x="188.60" y="326.55" width="4.40" height="40.25" fill="#6b6b6b" stroke="#111" stroke-width="0.35" />
<line x1="195.20" y1="333.81" x2="195.20" y2="333.38" stroke="#222" stroke-width="0.4" />
<line x1="194.20" y1="333.38" x2="196.20" y2="333.38" stroke="#222" stroke-width="0.4" />
<rect x="193.00" y="333.81" width="4.40" height="32.99" fill="#e3262c" stroke="#111" stroke-width="0.35" />
<line x1="188.60" y1="366.80" x2="188.60" y2="368.30" stroke="#7a7a7a" stroke-width="0.6" />
<line x1="204.40" y1="338.98" x2="204.40" y2="338.54" stroke="#222" stroke-width="0.4" />
<line x1="203.40" y1="338.54" x2="205.40" y2="338.54" stroke="#222" stroke-width="0.4" />
<rect x="202.20" y="338.98" width="4.40" height="27.83" fill="#0a0a0a" stroke="#111" stroke-width="0.35" />
<line x1="208.80" y1="340.99" x2="208.80" y2="340.55" stroke="#222" stroke-width="0.4" />
<line x1="207.80" y1="340.55" x2="209.80" y2="340.55" stroke="#222" stroke-width="0.4" />
<rect x="206.60" y="340.99" width="4.40" height="25.81" fill="#dedede" stroke="#111" stroke-width="0.35" />
<line x1="213.20" y1="339.94" x2="213.20" y2="339.50" stroke="#222" stroke-width="0.4" />
<line x1="212.20" y1="339.50" x2="214.20" y2="339.50" stroke="#222" stroke-width="0.4" />
<rect x="211.00" y="339.94" width="4.40" height="26.86" fill="#6b6b6b" stroke="#111" stroke-width="0.35" />
<line x1="217.60" y1="341.51" x2="217.60" y2="341.07" stroke="#222" stroke-width="0.4" />
<line x1="216.60" y1="341.07" x2="218.60" y2="341.07" stroke="#222" stroke-width="0.4" />
<rect x="215.40" y="341.51" width="4.40" height="25.29" fill="#e3262c" stroke="#111" stroke-width="0.35" />
<line x1="211.00" y1="366.80" x2="211.00" y2="368.30" stroke="#7a7a7a" stroke-width="0.6" />
<line x1="226.90" y1="349.56" x2="226.90" y2="349.12" stroke="#222" stroke-width="0.4" />
<line x1="225.90" y1="349.12" x2="227.90" y2="349.12" stroke="#222" stroke-width="0.4" />
<rect x="224.70" y="349.56" width="4.40" height="17.24" fill="#0a0a0a" stroke="#111" stroke-width="0.35" />
<line x1="231.30" y1="353.68" x2="231.30" y2="353.24" stroke="#222" stroke-width="0.4" />
<line x1="230.30" y1="353.24" x2="232.30" y2="353.24" stroke="#222" stroke-width="0.4" />
<rect x="229.10" y="353.68" width="4.40" height="13.12" fill="#dedede" stroke="#111" stroke-width="0.35" />
<line x1="235.70" y1="350.44" x2="235.70" y2="350.00" stroke="#222" stroke-width="0.4" />
<line x1="234.70" y1="350.00" x2="236.70" y2="350.00" stroke="#222" stroke-width="0.4" />
<rect x="233.50" y="350.44" width="4.40" height="16.36" fill="#6b6b6b" stroke="#111" stroke-width="0.35" />
<line x1="240.10" y1="354.38" x2="240.10" y2="353.94" stroke="#222" stroke-width="0.4" />
<line x1="239.10" y1="353.94" x2="241.10" y2="353.94" stroke="#222" stroke-width="0.4" />
<rect x="237.90" y="354.38" width="4.40" height="12.42" fill="#e3262c" stroke="#111" stroke-width="0.35" />
<line x1="233.50" y1="366.80" x2="233.50" y2="368.30" stroke="#7a7a7a" stroke-width="0.6" />
<line x1="159.30" y1="343.10" x2="172.80" y2="343.10" stroke="#333" stroke-width="0.5" />
<line x1="159.30" y1="343.10" x2="159.30" y2="344.30" stroke="#333" stroke-width="0.5" />
<line x1="172.80" y1="343.10" x2="172.80" y2="344.30" stroke="#333" stroke-width="0.5" />
<text x="166.55" y="343.70" font-size="7.0" text-anchor="middle" font-weight="bold" letter-spacing="1.0">*</text>
<line x1="168.40" y1="348.00" x2="172.80" y2="348.00" stroke="#333" stroke-width="0.5" />
<line x1="168.40" y1="348.00" x2="168.40" y2="349.20" stroke="#333" stroke-width="0.5" />
<line x1="172.80" y1="348.00" x2="172.80" y2="349.20" stroke="#333" stroke-width="0.5" />
<text x="171.10" y="348.60" font-size="7.0" text-anchor="middle" font-weight="bold" letter-spacing="1.0">*</text>
<line x1="181.40" y1="323.40" x2="196.00" y2="323.40" stroke="#333" stroke-width="0.5" />
<line x1="181.40" y1="323.40" x2="181.40" y2="324.60" stroke="#333" stroke-width="0.5" />
<line x1="196.00" y1="323.40" x2="196.00" y2="324.60" stroke="#333" stroke-width="0.5" />
<text x="189.20" y="324.00" font-size="7.0" text-anchor="middle" font-weight="bold" letter-spacing="1.0">*</text>
<text x="0" y="0" font-size="9.1" text-anchor="end" stroke="#000" stroke-width="0.12" transform="translate(170.20,373.40) rotate(-45)">preG<tspan font-size="5.6" dy="1.6">1</tspan></text>
<text x="0" y="0" font-size="9.1" text-anchor="end" stroke="#000" stroke-width="0.12" transform="translate(192.60,373.40) rotate(-45)">G<tspan font-size="5.6" dy="1.6">1</tspan></text>
<text x="0" y="0" font-size="9.1" text-anchor="end" stroke="#000" stroke-width="0.12" transform="translate(215.00,373.40) rotate(-45)">S</text>
<text x="0" y="0" font-size="9.1" text-anchor="end" stroke="#000" stroke-width="0.12" transform="translate(237.50,373.40) rotate(-45)">G<tspan font-size="5.6" dy="1.6">2</tspan><tspan dy="-1.6">–M</tspan></text>
<text x="0" y="0" font-size="8.8" text-anchor="middle" stroke="#000" stroke-width="0.12" transform="translate(139.40,330.40) rotate(-90)">Cells (%)</text>
<rect x="48.70" y="410.50" width="11.00" height="4.00" fill="#0a0a0a" stroke="#333" stroke-width="0.4" />
<text x="65.80" y="415.20" font-size="8.3" text-anchor="start" stroke="#000" stroke-width="0.12" >Vehicle</text>
<rect x="48.70" y="421.40" width="11.00" height="4.00" fill="#6b6b6b" stroke="#333" stroke-width="0.4" />
<text x="65.80" y="426.10" font-size="8.3" text-anchor="start" stroke="#000" stroke-width="0.12" >GSK126</text>
<rect x="116.50" y="410.30" width="11.00" height="4.00" fill="#dedede" stroke="#333" stroke-width="0.4" />
<text x="133.40" y="415.00" font-size="8.3" text-anchor="start" stroke="#000" stroke-width="0.12" >UNC0642</text>
<rect x="116.50" y="421.30" width="11.00" height="4.00" fill="#e3262c" stroke="#333" stroke-width="0.4" />
<text x="133.40" y="426.00" font-size="8.3" text-anchor="start" stroke="#000" stroke-width="0.12" >UNC0642+GSK126</text>
<defs><filter id="bl" x="-50%" y="-50%" width="200%" height="200%"><feGaussianBlur stdDeviation="0.9"/></filter><filter id="bl2" x="-50%" y="-50%" width="200%" height="200%"><feGaussianBlur stdDeviation="1.8"/></filter></defs>
<text x="310.85" y="21.30" font-size="4.7" text-anchor="middle" stroke="#000" stroke-width="0.10" >Vehicle</text>
<rect x="290.20" y="22.60" width="41.30" height="40.40" fill="#fff" stroke="#cfcfcf" stroke-width="0.45" />
<ellipse cx="310.80" cy="46.50" rx="7.50" ry="6.50" fill="#c3cdf5" opacity="0.55" filter="url(#bl2)" transform="rotate(0 310.80 46.50)"/>
<polygon points="305.3,50.8 315.8,50.8 316.2,43.5 313.5,42.0 308.5,43.2" fill="#3f86c0" opacity="0.85" filter="url(#bl)"/>
<polygon points="306.8,49.0 313.0,48.5 311.5,43.5 309.0,44.0" fill="#3f9a96" opacity="0.9" filter="url(#bl)"/>
<polygon points="307.8,46.8 311.8,45.8 310.0,43.8" fill="#7fb84a" opacity="0.95" filter="url(#bl)"/>
<ellipse cx="315.00" cy="44.50" rx="1.30" ry="2.60" fill="#7f7fc8" opacity="0.6" filter="url(#bl)" transform="rotate(20 315.00 44.50)"/>
<line x1="290.20" y1="36.20" x2="331.50" y2="36.20" stroke="#7d7d7d" stroke-width="0.6" />
<line x1="318.40" y1="22.60" x2="318.40" y2="63.00" stroke="#7d7d7d" stroke-width="0.6" />
<text x="291.40" y="26.20" font-size="2.8" text-anchor="start" fill="#777" >Q1</text>
<text x="330.30" y="26.20" font-size="2.8" text-anchor="end" fill="#777" >Q2</text>
<text x="291.40" y="55.60" font-size="2.8" text-anchor="start" fill="#777" >Q4</text>
<text x="330.30" y="55.60" font-size="2.8" text-anchor="end" fill="#777" >Q3</text>
<text x="291.10" y="30.90" font-size="5.0" text-anchor="start" fill="#111" stroke="#111" stroke-width="0.10" >0.84</text>
<text x="330.90" y="30.90" font-size="5.0" text-anchor="end" fill="#111" stroke="#111" stroke-width="0.10" >0.66</text>
<text x="291.10" y="62.10" font-size="5.0" text-anchor="start" fill="#111" stroke="#111" stroke-width="0.10" >98.0</text>
<text x="330.90" y="62.10" font-size="5.0" text-anchor="end" fill="#111" stroke="#111" stroke-width="0.10" >0.53</text>
<text x="0" y="0" font-size="2.9" fill="#555" text-anchor="end" transform="translate(289.40,26.70) rotate(-45)">10<tspan font-size="2" dy="-1">4</tspan></text>
<line x1="289.30" y1="26.10" x2="290.20" y2="26.10" stroke="#777" stroke-width="0.35" />
<text x="0" y="0" font-size="2.9" fill="#555" text-anchor="end" transform="translate(289.40,35.55) rotate(-45)">10<tspan font-size="2" dy="-1">3</tspan></text>
<line x1="289.30" y1="34.95" x2="290.20" y2="34.95" stroke="#777" stroke-width="0.35" />
<text x="0" y="0" font-size="2.9" fill="#555" text-anchor="end" transform="translate(289.40,44.40) rotate(-45)">10<tspan font-size="2" dy="-1">2</tspan></text>
<line x1="289.30" y1="43.80" x2="290.20" y2="43.80" stroke="#777" stroke-width="0.35" />
<text x="0" y="0" font-size="2.9" fill="#555" text-anchor="end" transform="translate(289.40,53.25) rotate(-45)">10<tspan font-size="2" dy="-1">1</tspan></text>
<line x1="289.30" y1="52.65" x2="290.20" y2="52.65" stroke="#777" stroke-width="0.35" />
<text x="0" y="0" font-size="2.9" fill="#555" text-anchor="end" transform="translate(289.40,62.10) rotate(-45)">10<tspan font-size="2" dy="-1">0</tspan></text>
<line x1="289.30" y1="61.50" x2="290.20" y2="61.50" stroke="#777" stroke-width="0.35" />
<text x="0" y="0" font-size="2.9" fill="#555" text-anchor="end" transform="translate(294.20,64.50) rotate(-45)">10<tspan font-size="2" dy="-1">0</tspan></text>
<line x1="293.20" y1="63.00" x2="293.20" y2="63.90" stroke="#777" stroke-width="0.35" />
<text x="0" y="0" font-size="2.9" fill="#555" text-anchor="end" transform="translate(301.26,64.50) rotate(-45)">10<tspan font-size="2" dy="-1">1</tspan></text>
<line x1="300.26" y1="63.00" x2="300.26" y2="63.90" stroke="#777" stroke-width="0.35" />
<text x="0" y="0" font-size="2.9" fill="#555" text-anchor="end" transform="translate(308.32,64.50) rotate(-45)">10<tspan font-size="2" dy="-1">2</tspan></text>
<line x1="307.32" y1="63.00" x2="307.32" y2="63.90" stroke="#777" stroke-width="0.35" />
<text x="0" y="0" font-size="2.9" fill="#555" text-anchor="end" transform="translate(315.38,64.50) rotate(-45)">10<tspan font-size="2" dy="-1">3</tspan></text>
<line x1="314.38" y1="63.00" x2="314.38" y2="63.90" stroke="#777" stroke-width="0.35" />
<text x="0" y="0" font-size="2.9" fill="#555" text-anchor="end" transform="translate(322.44,64.50) rotate(-45)">10<tspan font-size="2" dy="-1">4</tspan></text>
<line x1="321.44" y1="63.00" x2="321.44" y2="63.90" stroke="#777" stroke-width="0.35" />
<text x="0" y="0" font-size="2.9" fill="#555" text-anchor="end" transform="translate(329.50,64.50) rotate(-45)">10<tspan font-size="2" dy="-1">5</tspan></text>
<line x1="328.50" y1="63.00" x2="328.50" y2="63.90" stroke="#777" stroke-width="0.35" />
<text x="313.05" y="71.90" font-size="4.7" text-anchor="middle" stroke="#000" stroke-width="0.10" >Annexin V</text>
<text x="0" y="0" font-size="5" font-weight="bold" text-anchor="middle" transform="translate(283.90,42.80) rotate(-90)">PI</text>
<text x="363.15" y="21.50" font-size="4.7" text-anchor="middle" stroke="#000" stroke-width="0.10" >UNC0642</text>
<rect x="342.50" y="22.80" width="41.30" height="40.40" fill="#fff" stroke="#cfcfcf" stroke-width="0.45" />
<ellipse cx="363.50" cy="45.00" rx="7.00" ry="3.50" fill="#c3cdf5" opacity="0.45" filter="url(#bl2)" transform="rotate(-42 363.50 45.00)"/>
<ellipse cx="365.20" cy="34.00" rx="0.90" ry="5.50" fill="#d2cad2" opacity="0.7" filter="url(#bl)" transform="rotate(0 365.20 34.00)"/>
<polygon points="358.0,49.6 360.0,47.0 365.0,42.5 368.8,39.8 368.5,43.8 364.0,47.8 360.0,49.8" fill="#4f9a98" opacity="0.9" filter="url(#bl)"/>
<polygon points="360.0,48.8 364.5,45.0 367.5,42.0 366.0,45.8" fill="#6fa8a0" opacity="0.8" filter="url(#bl)"/>
<line x1="342.50" y1="36.20" x2="383.80" y2="36.20" stroke="#7d7d7d" stroke-width="0.6" />
<line x1="369.50" y1="22.80" x2="369.50" y2="63.20" stroke="#7d7d7d" stroke-width="0.6" />
<text x="343.70" y="26.40" font-size="2.8" text-anchor="start" fill="#777" >Q1</text>
<text x="382.60" y="26.40" font-size="2.8" text-anchor="end" fill="#777" >Q2</text>
<text x="343.70" y="55.80" font-size="2.8" text-anchor="start" fill="#777" >Q4</text>
<text x="382.60" y="55.80" font-size="2.8" text-anchor="end" fill="#777" >Q3</text>
<text x="343.40" y="31.10" font-size="5.0" text-anchor="start" fill="#111" stroke="#111" stroke-width="0.10" >1.80</text>
<text x="383.20" y="31.10" font-size="5.0" text-anchor="end" fill="#111" stroke="#111" stroke-width="0.10" >0.13</text>
<text x="343.40" y="62.30" font-size="5.0" text-anchor="start" fill="#111" stroke="#111" stroke-width="0.10" >97.6</text>
<text x="383.20" y="62.30" font-size="5.0" text-anchor="end" fill="#111" stroke="#111" stroke-width="0.10" >0.51</text>
<text x="0" y="0" font-size="2.9" fill="#555" text-anchor="end" transform="translate(341.70,26.90) rotate(-45)">10<tspan font-size="2" dy="-1">4</tspan></text>
<line x1="341.60" y1="26.30" x2="342.50" y2="26.30" stroke="#777" stroke-width="0.35" />
<text x="0" y="0" font-size="2.9" fill="#555" text-anchor="end" transform="translate(341.70,35.75) rotate(-45)">10<tspan font-size="2" dy="-1">3</tspan></text>
<line x1="341.60" y1="35.15" x2="342.50" y2="35.15" stroke="#777" stroke-width="0.35" />
<text x="0" y="0" font-size="2.9" fill="#555" text-anchor="end" transform="translate(341.70,44.60) rotate(-45)">10<tspan font-size="2" dy="-1">2</tspan></text>
<line x1="341.60" y1="44.00" x2="342.50" y2="44.00" stroke="#777" stroke-width="0.35" />
<text x="0" y="0" font-size="2.9" fill="#555" text-anchor="end" transform="translate(341.70,53.45) rotate(-45)">10<tspan font-size="2" dy="-1">1</tspan></text>
<line x1="341.60" y1="52.85" x2="342.50" y2="52.85" stroke="#777" stroke-width="0.35" />
<text x="0" y="0" font-size="2.9" fill="#555" text-anchor="end" transform="translate(341.70,62.30) rotate(-45)">10<tspan font-size="2" dy="-1">0</tspan></text>
<line x1="341.60" y1="61.70" x2="342.50" y2="61.70" stroke="#777" stroke-width="0.35" />
<text x="0" y="0" font-size="2.9" fill="#555" text-anchor="end" transform="translate(346.50,64.70) rotate(-45)">10<tspan font-size="2" dy="-1">0</tspan></text>
<line x1="345.50" y1="63.20" x2="345.50" y2="64.10" stroke="#777" stroke-width="0.35" />
<text x="0" y="0" font-size="2.9" fill="#555" text-anchor="end" transform="translate(353.56,64.70) rotate(-45)">10<tspan font-size="2" dy="-1">1</tspan></text>
<line x1="352.56" y1="63.20" x2="352.56" y2="64.10" stroke="#777" stroke-width="0.35" />
<text x="0" y="0" font-size="2.9" fill="#555" text-anchor="end" transform="translate(360.62,64.70) rotate(-45)">10<tspan font-size="2" dy="-1">2</tspan></text>
<line x1="359.62" y1="63.20" x2="359.62" y2="64.10" stroke="#777" stroke-width="0.35" />
<text x="0" y="0" font-size="2.9" fill="#555" text-anchor="end" transform="translate(367.68,64.70) rotate(-45)">10<tspan font-size="2" dy="-1">3</tspan></text>
<line x1="366.68" y1="63.20" x2="366.68" y2="64.10" stroke="#777" stroke-width="0.35" />
<text x="0" y="0" font-size="2.9" fill="#555" text-anchor="end" transform="translate(374.74,64.70) rotate(-45)">10<tspan font-size="2" dy="-1">4</tspan></text>
<line x1="373.74" y1="63.20" x2="373.74" y2="64.10" stroke="#777" stroke-width="0.35" />
<text x="0" y="0" font-size="2.9" fill="#555" text-anchor="end" transform="translate(381.80,64.70) rotate(-45)">10<tspan font-size="2" dy="-1">5</tspan></text>
<line x1="380.80" y1="63.20" x2="380.80" y2="64.10" stroke="#777" stroke-width="0.35" />
<text x="365.35" y="72.10" font-size="4.7" text-anchor="middle" stroke="#000" stroke-width="0.10" >Annexin V</text>
<text x="0" y="0" font-size="5" font-weight="bold" text-anchor="middle" transform="translate(336.20,43.00) rotate(-90)">PI</text>
<text x="310.85" y="82.30" font-size="4.7" text-anchor="middle" stroke="#000" stroke-width="0.10" >GSK126</text>
<rect x="290.20" y="83.60" width="41.30" height="40.80" fill="#fff" stroke="#cfcfcf" stroke-width="0.45" />
<ellipse cx="310.50" cy="106.00" rx="7.00" ry="7.00" fill="#c3cdf5" opacity="0.55" filter="url(#bl2)" transform="rotate(0 310.50 106.00)"/>
<polygon points="305.2,111.2 313.5,111.0 315.8,106.5 314.5,101.0 311.2,99.6 309.5,102.5" fill="#4a7cc8" opacity="0.85" filter="url(#bl)"/>
<polygon points="306.8,109.8 312.5,109.0 313.6,104.5 310.8,102.6" fill="#7fb84a" opacity="0.95" filter="url(#bl)"/>
<polygon points="308.8,107.5 311.8,106.5 311.0,104.2" fill="#a8cc50" opacity="0.9" filter="url(#bl)"/>
<line x1="290.20" y1="97.30" x2="331.50" y2="97.30" stroke="#7d7d7d" stroke-width="0.6" />
<line x1="317.10" y1="83.60" x2="317.10" y2="124.40" stroke="#7d7d7d" stroke-width="0.6" />
<text x="291.40" y="87.20" font-size="2.8" text-anchor="start" fill="#777" >Q1</text>
<text x="330.30" y="87.20" font-size="2.8" text-anchor="end" fill="#777" >Q2</text>
<text x="291.40" y="117.00" font-size="2.8" text-anchor="start" fill="#777" >Q4</text>
<text x="330.30" y="117.00" font-size="2.8" text-anchor="end" fill="#777" >Q3</text>
<text x="291.10" y="91.90" font-size="5.0" text-anchor="start" fill="#111" stroke="#111" stroke-width="0.10" >1.54</text>
<text x="330.90" y="91.90" font-size="5.0" text-anchor="end" fill="#111" stroke="#111" stroke-width="0.10" >0.19</text>
<text x="291.10" y="123.50" font-size="5.0" text-anchor="start" fill="#111" stroke="#111" stroke-width="0.10" >97.7</text>
<text x="330.90" y="123.50" font-size="5.0" text-anchor="end" fill="#111" stroke="#111" stroke-width="0.10" >0.53</text>
<text x="0" y="0" font-size="2.9" fill="#555" text-anchor="end" transform="translate(289.40,87.70) rotate(-45)">10<tspan font-size="2" dy="-1">4</tspan></text>
<line x1="289.30" y1="87.10" x2="290.20" y2="87.10" stroke="#777" stroke-width="0.35" />
<text x="0" y="0" font-size="2.9" fill="#555" text-anchor="end" transform="translate(289.40,96.65) rotate(-45)">10<tspan font-size="2" dy="-1">3</tspan></text>
<line x1="289.30" y1="96.05" x2="290.20" y2="96.05" stroke="#777" stroke-width="0.35" />
<text x="0" y="0" font-size="2.9" fill="#555" text-anchor="end" transform="translate(289.40,105.60) rotate(-45)">10<tspan font-size="2" dy="-1">2</tspan></text>
<line x1="289.30" y1="105.00" x2="290.20" y2="105.00" stroke="#777" stroke-width="0.35" />
<text x="0" y="0" font-size="2.9" fill="#555" text-anchor="end" transform="translate(289.40,114.55) rotate(-45)">10<tspan font-size="2" dy="-1">1</tspan></text>
<line x1="289.30" y1="113.95" x2="290.20" y2="113.95" stroke="#777" stroke-width="0.35" />
<text x="0" y="0" font-size="2.9" fill="#555" text-anchor="end" transform="translate(289.40,123.50) rotate(-45)">10<tspan font-size="2" dy="-1">0</tspan></text>
<line x1="289.30" y1="122.90" x2="290.20" y2="122.90" stroke="#777" stroke-width="0.35" />
<text x="0" y="0" font-size="2.9" fill="#555" text-anchor="end" transform="translate(294.20,125.90) rotate(-45)">10<tspan font-size="2" dy="-1">0</tspan></text>
<line x1="293.20" y1="124.40" x2="293.20" y2="125.30" stroke="#777" stroke-width="0.35" />
<text x="0" y="0" font-size="2.9" fill="#555" text-anchor="end" transform="translate(301.26,125.90) rotate(-45)">10<tspan font-size="2" dy="-1">1</tspan></text>
<line x1="300.26" y1="124.40" x2="300.26" y2="125.30" stroke="#777" stroke-width="0.35" />
<text x="0" y="0" font-size="2.9" fill="#555" text-anchor="end" transform="translate(308.32,125.90) rotate(-45)">10<tspan font-size="2" dy="-1">2</tspan></text>
<line x1="307.32" y1="124.40" x2="307.32" y2="125.30" stroke="#777" stroke-width="0.35" />
<text x="0" y="0" font-size="2.9" fill="#555" text-anchor="end" transform="translate(315.38,125.90) rotate(-45)">10<tspan font-size="2" dy="-1">3</tspan></text>
<line x1="314.38" y1="124.40" x2="314.38" y2="125.30" stroke="#777" stroke-width="0.35" />
<text x="0" y="0" font-size="2.9" fill="#555" text-anchor="end" transform="translate(322.44,125.90) rotate(-45)">10<tspan font-size="2" dy="-1">4</tspan></text>
<line x1="321.44" y1="124.40" x2="321.44" y2="125.30" stroke="#777" stroke-width="0.35" />
<text x="0" y="0" font-size="2.9" fill="#555" text-anchor="end" transform="translate(329.50,125.90) rotate(-45)">10<tspan font-size="2" dy="-1">5</tspan></text>
<line x1="328.50" y1="124.40" x2="328.50" y2="125.30" stroke="#777" stroke-width="0.35" />
<text x="313.05" y="133.30" font-size="4.7" text-anchor="middle" stroke="#000" stroke-width="0.10" >Annexin V</text>
<text x="0" y="0" font-size="5" font-weight="bold" text-anchor="middle" transform="translate(283.90,104.00) rotate(-90)">PI</text>
<text x="363.15" y="82.30" font-size="4.7" text-anchor="middle" stroke="#000" stroke-width="0.10" >UNC0642+GSK126</text>
<rect x="342.50" y="83.60" width="41.30" height="40.80" fill="#fff" stroke="#cfcfcf" stroke-width="0.45" />
<ellipse cx="365.50" cy="91.30" rx="4.50" ry="2.20" fill="#9c9cc0" opacity="0.55" filter="url(#bl2)" transform="rotate(0 365.50 91.30)"/>
<ellipse cx="371.50" cy="94.00" rx="2.60" ry="3.80" fill="#707a74" opacity="0.55" filter="url(#bl2)" transform="rotate(0 371.50 94.00)"/>
<ellipse cx="372.50" cy="101.00" rx="2.00" ry="4.00" fill="#8a948e" opacity="0.45" filter="url(#bl2)" transform="rotate(0 372.50 101.00)"/>
<ellipse cx="364.80" cy="106.50" rx="2.20" ry="3.20" fill="#8a9090" opacity="0.5" filter="url(#bl2)" transform="rotate(0 364.80 106.50)"/>
<line x1="342.50" y1="97.30" x2="383.80" y2="97.30" stroke="#7d7d7d" stroke-width="0.6" />
<line x1="370.00" y1="83.60" x2="370.00" y2="124.40" stroke="#7d7d7d" stroke-width="0.6" />
<text x="343.70" y="87.20" font-size="2.8" text-anchor="start" fill="#777" >Q1</text>
<text x="382.60" y="87.20" font-size="2.8" text-anchor="end" fill="#777" >Q2</text>
<text x="343.70" y="117.00" font-size="2.8" text-anchor="start" fill="#777" >Q4</text>
<text x="382.60" y="117.00" font-size="2.8" text-anchor="end" fill="#777" >Q3</text>
<text x="343.40" y="91.90" font-size="5.0" text-anchor="start" fill="#111" stroke="#111" stroke-width="0.10" >13.8</text>
<text x="383.20" y="91.90" font-size="5.0" text-anchor="end" fill="#e3262c" stroke="#e3262c" stroke-width="0.10" >36.7</text>
<text x="343.40" y="123.50" font-size="5.0" text-anchor="start" fill="#111" stroke="#111" stroke-width="0.10" >22.9</text>
<text x="383.20" y="123.50" font-size="5.0" text-anchor="end" fill="#e3262c" stroke="#e3262c" stroke-width="0.10" >26.7</text>
<text x="0" y="0" font-size="2.9" fill="#555" text-anchor="end" transform="translate(341.70,87.70) rotate(-45)">10<tspan font-size="2" dy="-1">4</tspan></text>
<line x1="341.60" y1="87.10" x2="342.50" y2="87.10" stroke="#777" stroke-width="0.35" />
<text x="0" y="0" font-size="2.9" fill="#555" text-anchor="end" transform="translate(341.70,96.65) rotate(-45)">10<tspan font-size="2" dy="-1">3</tspan></text>
<line x1="341.60" y1="96.05" x2="342.50" y2="96.05" stroke="#777" stroke-width="0.35" />
<text x="0" y="0" font-size="2.9" fill="#555" text-anchor="end" transform="translate(341.70,105.60) rotate(-45)">10<tspan font-size="2" dy="-1">2</tspan></text>
<line x1="341.60" y1="105.00" x2="342.50" y2="105.00" stroke="#777" stroke-width="0.35" />
<text x="0" y="0" font-size="2.9" fill="#555" text-anchor="end" transform="translate(341.70,114.55) rotate(-45)">10<tspan font-size="2" dy="-1">1</tspan></text>
<line x1="341.60" y1="113.95" x2="342.50" y2="113.95" stroke="#777" stroke-width="0.35" />
<text x="0" y="0" font-size="2.9" fill="#555" text-anchor="end" transform="translate(341.70,123.50) rotate(-45)">10<tspan font-size="2" dy="-1">0</tspan></text>
<line x1="341.60" y1="122.90" x2="342.50" y2="122.90" stroke="#777" stroke-width="0.35" />
<text x="0" y="0" font-size="2.9" fill="#555" text-anchor="end" transform="translate(346.50,125.90) rotate(-45)">10<tspan font-size="2" dy="-1">0</tspan></text>
<line x1="345.50" y1="124.40" x2="345.50" y2="125.30" stroke="#777" stroke-width="0.35" />
<text x="0" y="0" font-size="2.9" fill="#555" text-anchor="end" transform="translate(353.56,125.90) rotate(-45)">10<tspan font-size="2" dy="-1">1</tspan></text>
<line x1="352.56" y1="124.40" x2="352.56" y2="125.30" stroke="#777" stroke-width="0.35" />
<text x="0" y="0" font-size="2.9" fill="#555" text-anchor="end" transform="translate(360.62,125.90) rotate(-45)">10<tspan font-size="2" dy="-1">2</tspan></text>
<line x1="359.62" y1="124.40" x2="359.62" y2="125.30" stroke="#777" stroke-width="0.35" />
<text x="0" y="0" font-size="2.9" fill="#555" text-anchor="end" transform="translate(367.68,125.90) rotate(-45)">10<tspan font-size="2" dy="-1">3</tspan></text>
<line x1="366.68" y1="124.40" x2="366.68" y2="125.30" stroke="#777" stroke-width="0.35" />
<text x="0" y="0" font-size="2.9" fill="#555" text-anchor="end" transform="translate(374.74,125.90) rotate(-45)">10<tspan font-size="2" dy="-1">4</tspan></text>
<line x1="373.74" y1="124.40" x2="373.74" y2="125.30" stroke="#777" stroke-width="0.35" />
<text x="0" y="0" font-size="2.9" fill="#555" text-anchor="end" transform="translate(381.80,125.90) rotate(-45)">10<tspan font-size="2" dy="-1">5</tspan></text>
<line x1="380.80" y1="124.40" x2="380.80" y2="125.30" stroke="#777" stroke-width="0.35" />
<text x="365.35" y="133.30" font-size="4.7" text-anchor="middle" stroke="#000" stroke-width="0.10" >Annexin V</text>
<text x="0" y="0" font-size="5" font-weight="bold" text-anchor="middle" transform="translate(336.20,104.00) rotate(-90)">PI</text>
<text x="310.85" y="163.00" font-size="4.7" text-anchor="middle" stroke="#000" stroke-width="0.10" >Vehicle</text>
<rect x="290.20" y="164.30" width="41.30" height="41.00" fill="#fff" stroke="#cfcfcf" stroke-width="0.45" />
<ellipse cx="302.00" cy="191.20" rx="2.40" ry="4.60" fill="#c3cdf5" opacity="0.5" filter="url(#bl2)" transform="rotate(10 302.00 191.20)"/>
<ellipse cx="301.90" cy="191.30" rx="1.10" ry="3.40" fill="#3f78c0" opacity="0.9" filter="url(#bl)" transform="rotate(12 301.90 191.30)"/>
<ellipse cx="318.00" cy="193.50" rx="3.00" ry="1.00" fill="#d0d0d0" opacity="0.4" filter="url(#bl2)" transform="rotate(0 318.00 193.50)"/>
<line x1="290.20" y1="185.50" x2="331.50" y2="185.50" stroke="#7d7d7d" stroke-width="0.6" />
<line x1="306.40" y1="164.30" x2="306.40" y2="205.30" stroke="#7d7d7d" stroke-width="0.6" />
<text x="291.40" y="167.90" font-size="2.8" text-anchor="start" fill="#777" >Q1</text>
<text x="330.30" y="167.90" font-size="2.8" text-anchor="end" fill="#777" >Q2</text>
<text x="291.40" y="197.90" font-size="2.8" text-anchor="start" fill="#777" >Q4</text>
<text x="330.30" y="197.90" font-size="2.8" text-anchor="end" fill="#777" >Q3</text>
<text x="291.10" y="172.60" font-size="5.0" text-anchor="start" fill="#111" stroke="#111" stroke-width="0.10" >0.091</text>
<text x="330.90" y="172.60" font-size="5.0" text-anchor="end" fill="#111" stroke="#111" stroke-width="0.10" >0.12</text>
<text x="291.10" y="204.40" font-size="5.0" text-anchor="start" fill="#111" stroke="#111" stroke-width="0.10" >98.0</text>
<text x="330.90" y="204.40" font-size="5.0" text-anchor="end" fill="#111" stroke="#111" stroke-width="0.10" >1.78</text>
<text x="0" y="0" font-size="2.9" fill="#555" text-anchor="end" transform="translate(289.40,168.40) rotate(-45)">10<tspan font-size="2" dy="-1">4</tspan></text>
<line x1="289.30" y1="167.80" x2="290.20" y2="167.80" stroke="#777" stroke-width="0.35" />
<text x="0" y="0" font-size="2.9" fill="#555" text-anchor="end" transform="translate(289.40,177.40) rotate(-45)">10<tspan font-size="2" dy="-1">3</tspan></text>
<line x1="289.30" y1="176.80" x2="290.20" y2="176.80" stroke="#777" stroke-width="0.35" />
<text x="0" y="0" font-size="2.9" fill="#555" text-anchor="end" transform="translate(289.40,186.40) rotate(-45)">10<tspan font-size="2" dy="-1">2</tspan></text>
<line x1="289.30" y1="185.80" x2="290.20" y2="185.80" stroke="#777" stroke-width="0.35" />
<text x="0" y="0" font-size="2.9" fill="#555" text-anchor="end" transform="translate(289.40,195.40) rotate(-45)">10<tspan font-size="2" dy="-1">1</tspan></text>
<line x1="289.30" y1="194.80" x2="290.20" y2="194.80" stroke="#777" stroke-width="0.35" />
<text x="0" y="0" font-size="2.9" fill="#555" text-anchor="end" transform="translate(289.40,204.40) rotate(-45)">10<tspan font-size="2" dy="-1">0</tspan></text>
<line x1="289.30" y1="203.80" x2="290.20" y2="203.80" stroke="#777" stroke-width="0.35" />
<text x="0" y="0" font-size="2.9" fill="#555" text-anchor="end" transform="translate(294.20,206.80) rotate(-45)">10<tspan font-size="2" dy="-1">0</tspan></text>
<line x1="293.20" y1="205.30" x2="293.20" y2="206.20" stroke="#777" stroke-width="0.35" />
<text x="0" y="0" font-size="2.9" fill="#555" text-anchor="end" transform="translate(301.26,206.80) rotate(-45)">10<tspan font-size="2" dy="-1">1</tspan></text>
<line x1="300.26" y1="205.30" x2="300.26" y2="206.20" stroke="#777" stroke-width="0.35" />
<text x="0" y="0" font-size="2.9" fill="#555" text-anchor="end" transform="translate(308.32,206.80) rotate(-45)">10<tspan font-size="2" dy="-1">2</tspan></text>
<line x1="307.32" y1="205.30" x2="307.32" y2="206.20" stroke="#777" stroke-width="0.35" />
<text x="0" y="0" font-size="2.9" fill="#555" text-anchor="end" transform="translate(315.38,206.80) rotate(-45)">10<tspan font-size="2" dy="-1">3</tspan></text>
<line x1="314.38" y1="205.30" x2="314.38" y2="206.20" stroke="#777" stroke-width="0.35" />
<text x="0" y="0" font-size="2.9" fill="#555" text-anchor="end" transform="translate(322.44,206.80) rotate(-45)">10<tspan font-size="2" dy="-1">4</tspan></text>
<line x1="321.44" y1="205.30" x2="321.44" y2="206.20" stroke="#777" stroke-width="0.35" />
<text x="0" y="0" font-size="2.9" fill="#555" text-anchor="end" transform="translate(329.50,206.80) rotate(-45)">10<tspan font-size="2" dy="-1">5</tspan></text>
<line x1="328.50" y1="205.30" x2="328.50" y2="206.20" stroke="#777" stroke-width="0.35" />
<text x="313.05" y="214.20" font-size="4.7" text-anchor="middle" stroke="#000" stroke-width="0.10" >Annexin V</text>
<text x="0" y="0" font-size="5" font-weight="bold" text-anchor="middle" transform="translate(283.90,184.80) rotate(-90)">PI</text>
<text x="363.15" y="163.20" font-size="4.7" text-anchor="middle" stroke="#000" stroke-width="0.10" >UNC0642</text>
<rect x="342.50" y="164.50" width="41.30" height="41.00" fill="#fff" stroke="#cfcfcf" stroke-width="0.45" />
<ellipse cx="363.00" cy="190.80" rx="9.00" ry="3.20" fill="#aac6ec" opacity="0.55" filter="url(#bl2)" transform="rotate(-3 363.00 190.80)"/>
<polygon points="351.5,194.5 355.5,187.0 358.5,187.2 369.5,190.0 369.0,193.5 358.0,194.8" fill="#9cc0e0" opacity="0.7" filter="url(#bl)"/>
<polygon points="351.8,194.0 355.2,187.8 357.5,188.5 356.0,194.3" fill="#b8a84a" opacity="0.8" filter="url(#bl)"/>
<polygon points="354.5,193.5 357.0,189.0 361.0,191.0 360.5,194.0" fill="#5aa094" opacity="0.8" filter="url(#bl)"/>
<line x1="342.50" y1="185.40" x2="383.80" y2="185.40" stroke="#7d7d7d" stroke-width="0.6" />
<line x1="358.20" y1="164.50" x2="358.20" y2="205.50" stroke="#7d7d7d" stroke-width="0.6" />
<text x="343.70" y="168.10" font-size="2.8" text-anchor="start" fill="#777" >Q1</text>
<text x="382.60" y="168.10" font-size="2.8" text-anchor="end" fill="#777" >Q2</text>
<text x="343.70" y="198.10" font-size="2.8" text-anchor="start" fill="#777" >Q4</text>
<text x="382.60" y="198.10" font-size="2.8" text-anchor="end" fill="#777" >Q3</text>
<text x="343.40" y="172.80" font-size="5.0" text-anchor="start" fill="#111" stroke="#111" stroke-width="0.10" >0.55</text>
<text x="383.20" y="172.80" font-size="5.0" text-anchor="end" fill="#111" stroke="#111" stroke-width="0.10" >5.16</text>
<text x="343.40" y="204.60" font-size="5.0" text-anchor="start" fill="#111" stroke="#111" stroke-width="0.10" >51.3</text>
<text x="383.20" y="204.60" font-size="5.0" text-anchor="end" fill="#111" stroke="#111" stroke-width="0.10" >42.9</text>
<text x="0" y="0" font-size="2.9" fill="#555" text-anchor="end" transform="translate(341.70,168.60) rotate(-45)">10<tspan font-size="2" dy="-1">4</tspan></text>
<line x1="341.60" y1="168.00" x2="342.50" y2="168.00" stroke="#777" stroke-width="0.35" />
<text x="0" y="0" font-size="2.9" fill="#555" text-anchor="end" transform="translate(341.70,177.60) rotate(-45)">10<tspan font-size="2" dy="-1">3</tspan></text>
<line x1="341.60" y1="177.00" x2="342.50" y2="177.00" stroke="#777" stroke-width="0.35" />
<text x="0" y="0" font-size="2.9" fill="#555" text-anchor="end" transform="translate(341.70,186.60) rotate(-45)">10<tspan font-size="2" dy="-1">2</tspan></text>
<line x1="341.60" y1="186.00" x2="342.50" y2="186.00" stroke="#777" stroke-width="0.35" />
<text x="0" y="0" font-size="2.9" fill="#555" text-anchor="end" transform="translate(341.70,195.60) rotate(-45)">10<tspan font-size="2" dy="-1">1</tspan></text>
<line x1="341.60" y1="195.00" x2="342.50" y2="195.00" stroke="#777" stroke-width="0.35" />
<text x="0" y="0" font-size="2.9" fill="#555" text-anchor="end" transform="translate(341.70,204.60) rotate(-45)">10<tspan font-size="2" dy="-1">0</tspan></text>
<line x1="341.60" y1="204.00" x2="342.50" y2="204.00" stroke="#777" stroke-width="0.35" />
<text x="0" y="0" font-size="2.9" fill="#555" text-anchor="end" transform="translate(346.50,207.00) rotate(-45)">10<tspan font-size="2" dy="-1">0</tspan></text>
<line x1="345.50" y1="205.50" x2="345.50" y2="206.40" stroke="#777" stroke-width="0.35" />
<text x="0" y="0" font-size="2.9" fill="#555" text-anchor="end" transform="translate(353.56,207.00) rotate(-45)">10<tspan font-size="2" dy="-1">1</tspan></text>
<line x1="352.56" y1="205.50" x2="352.56" y2="206.40" stroke="#777" stroke-width="0.35" />
<text x="0" y="0" font-size="2.9" fill="#555" text-anchor="end" transform="translate(360.62,207.00) rotate(-45)">10<tspan font-size="2" dy="-1">2</tspan></text>
<line x1="359.62" y1="205.50" x2="359.62" y2="206.40" stroke="#777" stroke-width="0.35" />
<text x="0" y="0" font-size="2.9" fill="#555" text-anchor="end" transform="translate(367.68,207.00) rotate(-45)">10<tspan font-size="2" dy="-1">3</tspan></text>
<line x1="366.68" y1="205.50" x2="366.68" y2="206.40" stroke="#777" stroke-width="0.35" />
<text x="0" y="0" font-size="2.9" fill="#555" text-anchor="end" transform="translate(374.74,207.00) rotate(-45)">10<tspan font-size="2" dy="-1">4</tspan></text>
<line x1="373.74" y1="205.50" x2="373.74" y2="206.40" stroke="#777" stroke-width="0.35" />
<text x="0" y="0" font-size="2.9" fill="#555" text-anchor="end" transform="translate(381.80,207.00) rotate(-45)">10<tspan font-size="2" dy="-1">5</tspan></text>
<line x1="380.80" y1="205.50" x2="380.80" y2="206.40" stroke="#777" stroke-width="0.35" />
<text x="365.35" y="214.40" font-size="4.7" text-anchor="middle" stroke="#000" stroke-width="0.10" >Annexin V</text>
<text x="0" y="0" font-size="5" font-weight="bold" text-anchor="middle" transform="translate(336.20,185.00) rotate(-90)">PI</text>
<text x="310.85" y="222.60" font-size="4.7" text-anchor="middle" stroke="#000" stroke-width="0.10" >GSK126</text>
<rect x="290.20" y="223.90" width="41.30" height="40.80" fill="#fff" stroke="#cfcfcf" stroke-width="0.45" />
<ellipse cx="302.40" cy="252.60" rx="2.20" ry="3.40" fill="#c3cdf5" opacity="0.5" filter="url(#bl2)" transform="rotate(20 302.40 252.60)"/>
<ellipse cx="302.40" cy="252.60" rx="1.10" ry="2.20" fill="#3f78c0" opacity="0.9" filter="url(#bl)" transform="rotate(20 302.40 252.60)"/>
<line x1="290.20" y1="245.20" x2="331.50" y2="245.20" stroke="#7d7d7d" stroke-width="0.6" />
<line x1="306.60" y1="223.90" x2="306.60" y2="264.70" stroke="#7d7d7d" stroke-width="0.6" />
<text x="291.40" y="227.50" font-size="2.8" text-anchor="start" fill="#777" >Q1</text>
<text x="330.30" y="227.50" font-size="2.8" text-anchor="end" fill="#777" >Q2</text>
<text x="291.40" y="257.30" font-size="2.8" text-anchor="start" fill="#777" >Q4</text>
<text x="330.30" y="257.30" font-size="2.8" text-anchor="end" fill="#777" >Q3</text>
<text x="291.10" y="232.20" font-size="5.0" text-anchor="start" fill="#111" stroke="#111" stroke-width="0.10" >0.062</text>
<text x="330.90" y="232.20" font-size="5.0" text-anchor="end" fill="#111" stroke="#111" stroke-width="0.10" >0.61</text>
<text x="291.10" y="263.80" font-size="5.0" text-anchor="start" fill="#111" stroke="#111" stroke-width="0.10" >98.0</text>
<text x="330.90" y="263.80" font-size="5.0" text-anchor="end" fill="#111" stroke="#111" stroke-width="0.10" >1.28</text>
<text x="0" y="0" font-size="2.9" fill="#555" text-anchor="end" transform="translate(289.40,228.00) rotate(-45)">10<tspan font-size="2" dy="-1">4</tspan></text>
<line x1="289.30" y1="227.40" x2="290.20" y2="227.40" stroke="#777" stroke-width="0.35" />
<text x="0" y="0" font-size="2.9" fill="#555" text-anchor="end" transform="translate(289.40,236.95) rotate(-45)">10<tspan font-size="2" dy="-1">3</tspan></text>
<line x1="289.30" y1="236.35" x2="290.20" y2="236.35" stroke="#777" stroke-width="0.35" />
<text x="0" y="0" font-size="2.9" fill="#555" text-anchor="end" transform="translate(289.40,245.90) rotate(-45)">10<tspan font-size="2" dy="-1">2</tspan></text>
<line x1="289.30" y1="245.30" x2="290.20" y2="245.30" stroke="#777" stroke-width="0.35" />
<text x="0" y="0" font-size="2.9" fill="#555" text-anchor="end" transform="translate(289.40,254.85) rotate(-45)">10<tspan font-size="2" dy="-1">1</tspan></text>
<line x1="289.30" y1="254.25" x2="290.20" y2="254.25" stroke="#777" stroke-width="0.35" />
<text x="0" y="0" font-size="2.9" fill="#555" text-anchor="end" transform="translate(289.40,263.80) rotate(-45)">10<tspan font-size="2" dy="-1">0</tspan></text>
<line x1="289.30" y1="263.20" x2="290.20" y2="263.20" stroke="#777" stroke-width="0.35" />
<text x="0" y="0" font-size="2.9" fill="#555" text-anchor="end" transform="translate(294.20,266.20) rotate(-45)">10<tspan font-size="2" dy="-1">0</tspan></text>
<line x1="293.20" y1="264.70" x2="293.20" y2="265.60" stroke="#777" stroke-width="0.35" />
<text x="0" y="0" font-size="2.9" fill="#555" text-anchor="end" transform="translate(301.26,266.20) rotate(-45)">10<tspan font-size="2" dy="-1">1</tspan></text>
<line x1="300.26" y1="264.70" x2="300.26" y2="265.60" stroke="#777" stroke-width="0.35" />
<text x="0" y="0" font-size="2.9" fill="#555" text-anchor="end" transform="translate(308.32,266.20) rotate(-45)">10<tspan font-size="2" dy="-1">2</tspan></text>
<line x1="307.32" y1="264.70" x2="307.32" y2="265.60" stroke="#777" stroke-width="0.35" />
<text x="0" y="0" font-size="2.9" fill="#555" text-anchor="end" transform="translate(315.38,266.20) rotate(-45)">10<tspan font-size="2" dy="-1">3</tspan></text>
<line x1="314.38" y1="264.70" x2="314.38" y2="265.60" stroke="#777" stroke-width="0.35" />
<text x="0" y="0" font-size="2.9" fill="#555" text-anchor="end" transform="translate(322.44,266.20) rotate(-45)">10<tspan font-size="2" dy="-1">4</tspan></text>
<line x1="321.44" y1="264.70" x2="321.44" y2="265.60" stroke="#777" stroke-width="0.35" />
<text x="0" y="0" font-size="2.9" fill="#555" text-anchor="end" transform="translate(329.50,266.20) rotate(-45)">10<tspan font-size="2" dy="-1">5</tspan></text>
<line x1="328.50" y1="264.70" x2="328.50" y2="265.60" stroke="#777" stroke-width="0.35" />
<text x="313.05" y="273.60" font-size="4.7" text-anchor="middle" stroke="#000" stroke-width="0.10" >Annexin V</text>
<text x="0" y="0" font-size="5" font-weight="bold" text-anchor="middle" transform="translate(283.90,244.30) rotate(-90)">PI</text>
<text x="363.15" y="222.80" font-size="4.7" text-anchor="middle" stroke="#000" stroke-width="0.10" >UNC0642+GSK126</text>
<rect x="342.50" y="224.10" width="41.30" height="41.00" fill="#fff" stroke="#cfcfcf" stroke-width="0.45" />
<ellipse cx="363.00" cy="253.20" rx="11.50" ry="2.60" fill="#aac6ec" opacity="0.6" filter="url(#bl2)" transform="rotate(-3 363.00 253.20)"/>
<polygon points="352.2,254.8 353.0,251.8 364.0,251.0 374.0,250.6 374.2,253.0 364.0,254.6" fill="#4a9aa4" opacity="0.85" filter="url(#bl)"/>
<ellipse cx="366.00" cy="252.40" rx="3.50" ry="0.90" fill="#a8b84a" opacity="0.7" filter="url(#bl)" transform="rotate(-3 366.00 252.40)"/>
<ellipse cx="356.00" cy="253.20" rx="2.50" ry="0.90" fill="#88b060" opacity="0.6" filter="url(#bl)" transform="rotate(-3 356.00 253.20)"/>
<line x1="342.50" y1="245.30" x2="383.80" y2="245.30" stroke="#7d7d7d" stroke-width="0.6" />
<line x1="358.50" y1="224.10" x2="358.50" y2="265.10" stroke="#7d7d7d" stroke-width="0.6" />
<text x="343.70" y="227.70" font-size="2.8" text-anchor="start" fill="#777" >Q1</text>
<text x="382.60" y="227.70" font-size="2.8" text-anchor="end" fill="#777" >Q2</text>
<text x="343.70" y="257.70" font-size="2.8" text-anchor="start" fill="#777" >Q4</text>
<text x="382.60" y="257.70" font-size="2.8" text-anchor="end" fill="#777" >Q3</text>
<text x="343.40" y="232.40" font-size="5.0" text-anchor="start" fill="#111" stroke="#111" stroke-width="0.10" >0.021</text>
<text x="383.20" y="232.40" font-size="5.0" text-anchor="end" fill="#e3262c" stroke="#e3262c" stroke-width="0.10" >1.47</text>
<text x="343.40" y="264.20" font-size="5.0" text-anchor="start" fill="#111" stroke="#111" stroke-width="0.10" >22.8</text>
<text x="383.20" y="264.20" font-size="5.0" text-anchor="end" fill="#e3262c" stroke="#e3262c" stroke-width="0.10" >75.7</text>
<text x="0" y="0" font-size="2.9" fill="#555" text-anchor="end" transform="translate(341.70,228.20) rotate(-45)">10<tspan font-size="2" dy="-1">4</tspan></text>
<line x1="341.60" y1="227.60" x2="342.50" y2="227.60" stroke="#777" stroke-width="0.35" />
<text x="0" y="0" font-size="2.9" fill="#555" text-anchor="end" transform="translate(341.70,237.20) rotate(-45)">10<tspan font-size="2" dy="-1">3</tspan></text>
<line x1="341.60" y1="236.60" x2="342.50" y2="236.60" stroke="#777" stroke-width="0.35" />
<text x="0" y="0" font-size="2.9" fill="#555" text-anchor="end" transform="translate(341.70,246.20) rotate(-45)">10<tspan font-size="2" dy="-1">2</tspan></text>
<line x1="341.60" y1="245.60" x2="342.50" y2="245.60" stroke="#777" stroke-width="0.35" />
<text x="0" y="0" font-size="2.9" fill="#555" text-anchor="end" transform="translate(341.70,255.20) rotate(-45)">10<tspan font-size="2" dy="-1">1</tspan></text>
<line x1="341.60" y1="254.60" x2="342.50" y2="254.60" stroke="#777" stroke-width="0.35" />
<text x="0" y="0" font-size="2.9" fill="#555" text-anchor="end" transform="translate(341.70,264.20) rotate(-45)">10<tspan font-size="2" dy="-1">0</tspan></text>
<line x1="341.60" y1="263.60" x2="342.50" y2="263.60" stroke="#777" stroke-width="0.35" />
<text x="0" y="0" font-size="2.9" fill="#555" text-anchor="end" transform="translate(346.50,266.60) rotate(-45)">10<tspan font-size="2" dy="-1">0</tspan></text>
<line x1="345.50" y1="265.10" x2="345.50" y2="266.00" stroke="#777" stroke-width="0.35" />
<text x="0" y="0" font-size="2.9" fill="#555" text-anchor="end" transform="translate(353.56,266.60) rotate(-45)">10<tspan font-size="2" dy="-1">1</tspan></text>
<line x1="352.56" y1="265.10" x2="352.56" y2="266.00" stroke="#777" stroke-width="0.35" />
<text x="0" y="0" font-size="2.9" fill="#555" text-anchor="end" transform="translate(360.62,266.60) rotate(-45)">10<tspan font-size="2" dy="-1">2</tspan></text>
<line x1="359.62" y1="265.10" x2="359.62" y2="266.00" stroke="#777" stroke-width="0.35" />
<text x="0" y="0" font-size="2.9" fill="#555" text-anchor="end" transform="translate(367.68,266.60) rotate(-45)">10<tspan font-size="2" dy="-1">3</tspan></text>
<line x1="366.68" y1="265.10" x2="366.68" y2="266.00" stroke="#777" stroke-width="0.35" />
<text x="0" y="0" font-size="2.9" fill="#555" text-anchor="end" transform="translate(374.74,266.60) rotate(-45)">10<tspan font-size="2" dy="-1">4</tspan></text>
<line x1="373.74" y1="265.10" x2="373.74" y2="266.00" stroke="#777" stroke-width="0.35" />
<text x="0" y="0" font-size="2.9" fill="#555" text-anchor="end" transform="translate(381.80,266.60) rotate(-45)">10<tspan font-size="2" dy="-1">5</tspan></text>
<line x1="380.80" y1="265.10" x2="380.80" y2="266.00" stroke="#777" stroke-width="0.35" />
<text x="365.35" y="274.00" font-size="4.7" text-anchor="middle" stroke="#000" stroke-width="0.10" >Annexin V</text>
<text x="0" y="0" font-size="5" font-weight="bold" text-anchor="middle" transform="translate(336.20,244.60) rotate(-90)">PI</text>
<text x="310.25" y="299.30" font-size="4.7" text-anchor="middle" stroke="#000" stroke-width="0.10" >Vehicle</text>
<rect x="289.60" y="300.60" width="41.30" height="41.00" fill="#fff" stroke="#cfcfcf" stroke-width="0.45" />
<ellipse cx="305.00" cy="325.50" rx="8.50" ry="3.50" fill="#c3cdf5" opacity="0.5" filter="url(#bl2)" transform="rotate(-42 305.00 325.50)"/>
<polygon points="298.8,331.0 301.0,327.0 306.5,322.0 310.5,319.5 309.0,323.5 304.0,328.5 300.5,331.2" fill="#5a9e98" opacity="0.85" filter="url(#bl)"/>
<polygon points="298.8,331.0 300.8,327.0 305.5,324.0 304.5,329.0" fill="#a8b840" opacity="0.95" filter="url(#bl)"/>
<ellipse cx="318.50" cy="310.50" rx="4.50" ry="1.20" fill="#b0b0b8" opacity="0.55" filter="url(#bl2)" transform="rotate(-25 318.50 310.50)"/>
<line x1="289.60" y1="314.30" x2="330.90" y2="314.30" stroke="#7d7d7d" stroke-width="0.6" />
<line x1="310.40" y1="300.60" x2="310.40" y2="341.60" stroke="#7d7d7d" stroke-width="0.6" />
<text x="290.80" y="304.20" font-size="2.8" text-anchor="start" fill="#777" >Q1</text>
<text x="329.70" y="304.20" font-size="2.8" text-anchor="end" fill="#777" >Q2</text>
<text x="290.80" y="334.20" font-size="2.8" text-anchor="start" fill="#777" >Q4</text>
<text x="329.70" y="334.20" font-size="2.8" text-anchor="end" fill="#777" >Q3</text>
<text x="290.50" y="308.90" font-size="5.0" text-anchor="start" fill="#111" stroke="#111" stroke-width="0.10" >0.020</text>
<text x="330.30" y="308.90" font-size="5.0" text-anchor="end" fill="#111" stroke="#111" stroke-width="0.10" >5.01</text>
<text x="290.50" y="340.70" font-size="5.0" text-anchor="start" fill="#111" stroke="#111" stroke-width="0.10" >88.3</text>
<text x="330.30" y="340.70" font-size="5.0" text-anchor="end" fill="#111" stroke="#111" stroke-width="0.10" >6.62</text>
<text x="0" y="0" font-size="2.9" fill="#555" text-anchor="end" transform="translate(288.80,304.70) rotate(-45)">10<tspan font-size="2" dy="-1">4</tspan></text>
<line x1="288.70" y1="304.10" x2="289.60" y2="304.10" stroke="#777" stroke-width="0.35" />
<text x="0" y="0" font-size="2.9" fill="#555" text-anchor="end" transform="translate(288.80,313.70) rotate(-45)">10<tspan font-size="2" dy="-1">3</tspan></text>
<line x1="288.70" y1="313.10" x2="289.60" y2="313.10" stroke="#777" stroke-width="0.35" />
<text x="0" y="0" font-size="2.9" fill="#555" text-anchor="end" transform="translate(288.80,322.70) rotate(-45)">10<tspan font-size="2" dy="-1">2</tspan></text>
<line x1="288.70" y1="322.10" x2="289.60" y2="322.10" stroke="#777" stroke-width="0.35" />
<text x="0" y="0" font-size="2.9" fill="#555" text-anchor="end" transform="translate(288.80,331.70) rotate(-45)">10<tspan font-size="2" dy="-1">1</tspan></text>
<line x1="288.70" y1="331.10" x2="289.60" y2="331.10" stroke="#777" stroke-width="0.35" />
<text x="0" y="0" font-size="2.9" fill="#555" text-anchor="end" transform="translate(288.80,340.70) rotate(-45)">10<tspan font-size="2" dy="-1">0</tspan></text>
<line x1="288.70" y1="340.10" x2="289.60" y2="340.10" stroke="#777" stroke-width="0.35" />
<text x="0" y="0" font-size="2.9" fill="#555" text-anchor="end" transform="translate(293.60,343.10) rotate(-45)">10<tspan font-size="2" dy="-1">0</tspan></text>
<line x1="292.60" y1="341.60" x2="292.60" y2="342.50" stroke="#777" stroke-width="0.35" />
<text x="0" y="0" font-size="2.9" fill="#555" text-anchor="end" transform="translate(300.66,343.10) rotate(-45)">10<tspan font-size="2" dy="-1">1</tspan></text>
<line x1="299.66" y1="341.60" x2="299.66" y2="342.50" stroke="#777" stroke-width="0.35" />
<text x="0" y="0" font-size="2.9" fill="#555" text-anchor="end" transform="translate(307.72,343.10) rotate(-45)">10<tspan font-size="2" dy="-1">2</tspan></text>
<line x1="306.72" y1="341.60" x2="306.72" y2="342.50" stroke="#777" stroke-width="0.35" />
<text x="0" y="0" font-size="2.9" fill="#555" text-anchor="end" transform="translate(314.78,343.10) rotate(-45)">10<tspan font-size="2" dy="-1">3</tspan></text>
<line x1="313.78" y1="341.60" x2="313.78" y2="342.50" stroke="#777" stroke-width="0.35" />
<text x="0" y="0" font-size="2.9" fill="#555" text-anchor="end" transform="translate(321.84,343.10) rotate(-45)">10<tspan font-size="2" dy="-1">4</tspan></text>
<line x1="320.84" y1="341.60" x2="320.84" y2="342.50" stroke="#777" stroke-width="0.35" />
<text x="0" y="0" font-size="2.9" fill="#555" text-anchor="end" transform="translate(328.90,343.10) rotate(-45)">10<tspan font-size="2" dy="-1">5</tspan></text>
<line x1="327.90" y1="341.60" x2="327.90" y2="342.50" stroke="#777" stroke-width="0.35" />
<text x="312.45" y="350.50" font-size="4.7" text-anchor="middle" stroke="#000" stroke-width="0.10" >Annexin V</text>
<text x="0" y="0" font-size="5" font-weight="bold" text-anchor="middle" transform="translate(283.30,321.10) rotate(-90)">PI</text>
<text x="361.45" y="299.10" font-size="4.7" text-anchor="middle" stroke="#000" stroke-width="0.10" >UNC0642</text>
<rect x="340.80" y="300.40" width="41.30" height="41.00" fill="#fff" stroke="#cfcfcf" stroke-width="0.45" />
<ellipse cx="357.00" cy="323.00" rx="8.00" ry="3.20" fill="#c3cdf5" opacity="0.45" filter="url(#bl2)" transform="rotate(-42 357.00 323.00)"/>
<polygon points="350.8,327.5 352.5,324.5 357.0,321.5 360.5,319.5 359.5,323.0 355.5,327.5" fill="#5aa0a0" opacity="0.75" filter="url(#bl)"/>
<ellipse cx="353.60" cy="325.80" rx="2.60" ry="1.80" fill="#b4c040" opacity="0.9" filter="url(#bl)" transform="rotate(-30 353.60 325.80)"/>
<ellipse cx="372.30" cy="316.50" rx="2.20" ry="9.50" fill="#a9b8e0" opacity="0.55" filter="url(#bl2)" transform="rotate(0 372.30 316.50)"/>
<ellipse cx="372.50" cy="315.00" rx="0.90" ry="6.00" fill="#7f9aa8" opacity="0.65" filter="url(#bl)" transform="rotate(0 372.50 315.00)"/>
<line x1="340.80" y1="314.30" x2="382.10" y2="314.30" stroke="#7d7d7d" stroke-width="0.6" />
<line x1="361.90" y1="300.40" x2="361.90" y2="341.40" stroke="#7d7d7d" stroke-width="0.6" />
<text x="342.00" y="304.00" font-size="2.8" text-anchor="start" fill="#777" >Q1</text>
<text x="380.90" y="304.00" font-size="2.8" text-anchor="end" fill="#777" >Q2</text>
<text x="342.00" y="334.00" font-size="2.8" text-anchor="start" fill="#777" >Q4</text>
<text x="380.90" y="334.00" font-size="2.8" text-anchor="end" fill="#777" >Q3</text>
<text x="341.70" y="308.70" font-size="5.0" text-anchor="start" fill="#111" stroke="#111" stroke-width="0.10" >0.91</text>
<text x="381.50" y="308.70" font-size="5.0" text-anchor="end" fill="#111" stroke="#111" stroke-width="0.10" >12.7</text>
<text x="341.70" y="340.50" font-size="5.0" text-anchor="start" fill="#111" stroke="#111" stroke-width="0.10" >63.5</text>
<text x="381.50" y="340.50" font-size="5.0" text-anchor="end" fill="#111" stroke="#111" stroke-width="0.10" >22.9</text>
<text x="0" y="0" font-size="2.9" fill="#555" text-anchor="end" transform="translate(340.00,304.50) rotate(-45)">10<tspan font-size="2" dy="-1">4</tspan></text>
<line x1="339.90" y1="303.90" x2="340.80" y2="303.90" stroke="#777" stroke-width="0.35" />
<text x="0" y="0" font-size="2.9" fill="#555" text-anchor="end" transform="translate(340.00,313.50) rotate(-45)">10<tspan font-size="2" dy="-1">3</tspan></text>
<line x1="339.90" y1="312.90" x2="340.80" y2="312.90" stroke="#777" stroke-width="0.35" />
<text x="0" y="0" font-size="2.9" fill="#555" text-anchor="end" transform="translate(340.00,322.50) rotate(-45)">10<tspan font-size="2" dy="-1">2</tspan></text>
<line x1="339.90" y1="321.90" x2="340.80" y2="321.90" stroke="#777" stroke-width="0.35" />
<text x="0" y="0" font-size="2.9" fill="#555" text-anchor="end" transform="translate(340.00,331.50) rotate(-45)">10<tspan font-size="2" dy="-1">1</tspan></text>
<line x1="339.90" y1="330.90" x2="340.80" y2="330.90" stroke="#777" stroke-width="0.35" />
<text x="0" y="0" font-size="2.9" fill="#555" text-anchor="end" transform="translate(340.00,340.50) rotate(-45)">10<tspan font-size="2" dy="-1">0</tspan></text>
<line x1="339.90" y1="339.90" x2="340.80" y2="339.90" stroke="#777" stroke-width="0.35" />
<text x="0" y="0" font-size="2.9" fill="#555" text-anchor="end" transform="translate(344.80,342.90) rotate(-45)">10<tspan font-size="2" dy="-1">0</tspan></text>
<line x1="343.80" y1="341.40" x2="343.80" y2="342.30" stroke="#777" stroke-width="0.35" />
<text x="0" y="0" font-size="2.9" fill="#555" text-anchor="end" transform="translate(351.86,342.90) rotate(-45)">10<tspan font-size="2" dy="-1">1</tspan></text>
<line x1="350.86" y1="341.40" x2="350.86" y2="342.30" stroke="#777" stroke-width="0.35" />
<text x="0" y="0" font-size="2.9" fill="#555" text-anchor="end" transform="translate(358.92,342.90) rotate(-45)">10<tspan font-size="2" dy="-1">2</tspan></text>
<line x1="357.92" y1="341.40" x2="357.92" y2="342.30" stroke="#777" stroke-width="0.35" />
<text x="0" y="0" font-size="2.9" fill="#555" text-anchor="end" transform="translate(365.98,342.90) rotate(-45)">10<tspan font-size="2" dy="-1">3</tspan></text>
<line x1="364.98" y1="341.40" x2="364.98" y2="342.30" stroke="#777" stroke-width="0.35" />
<text x="0" y="0" font-size="2.9" fill="#555" text-anchor="end" transform="translate(373.04,342.90) rotate(-45)">10<tspan font-size="2" dy="-1">4</tspan></text>
<line x1="372.04" y1="341.40" x2="372.04" y2="342.30" stroke="#777" stroke-width="0.35" />
<text x="0" y="0" font-size="2.9" fill="#555" text-anchor="end" transform="translate(380.10,342.90) rotate(-45)">10<tspan font-size="2" dy="-1">5</tspan></text>
<line x1="379.10" y1="341.40" x2="379.10" y2="342.30" stroke="#777" stroke-width="0.35" />
<text x="363.65" y="350.30" font-size="4.7" text-anchor="middle" stroke="#000" stroke-width="0.10" >Annexin V</text>
<text x="0" y="0" font-size="5" font-weight="bold" text-anchor="middle" transform="translate(334.50,320.90) rotate(-90)">PI</text>
<text x="309.45" y="360.30" font-size="4.7" text-anchor="middle" stroke="#000" stroke-width="0.10" >GSK126</text>
<rect x="288.80" y="361.60" width="41.30" height="40.60" fill="#fff" stroke="#cfcfcf" stroke-width="0.45" />
<ellipse cx="303.50" cy="387.00" rx="8.00" ry="3.20" fill="#c3cdf5" opacity="0.45" filter="url(#bl2)" transform="rotate(-35 303.50 387.00)"/>
<polygon points="297.6,391.2 300.5,388.0 305.0,385.2 308.2,383.5 307.2,387.0 302.0,390.5" fill="#9cbc40" opacity="0.9" filter="url(#bl)"/>
<ellipse cx="306.50" cy="385.00" rx="2.20" ry="1.20" fill="#5aa090" opacity="0.7" filter="url(#bl)" transform="rotate(-30 306.50 385.00)"/>
<ellipse cx="321.20" cy="376.50" rx="2.20" ry="7.50" fill="#b4c8ec" opacity="0.55" filter="url(#bl2)" transform="rotate(0 321.20 376.50)"/>
<line x1="288.80" y1="376.10" x2="330.10" y2="376.10" stroke="#7d7d7d" stroke-width="0.6" />
<line x1="309.40" y1="361.60" x2="309.40" y2="402.20" stroke="#7d7d7d" stroke-width="0.6" />
<text x="290.00" y="365.20" font-size="2.8" text-anchor="start" fill="#777" >Q1</text>
<text x="328.90" y="365.20" font-size="2.8" text-anchor="end" fill="#777" >Q2</text>
<text x="290.00" y="394.80" font-size="2.8" text-anchor="start" fill="#777" >Q4</text>
<text x="328.90" y="394.80" font-size="2.8" text-anchor="end" fill="#777" >Q3</text>
<text x="289.70" y="369.90" font-size="5.0" text-anchor="start" fill="#111" stroke="#111" stroke-width="0.10" >0.19</text>
<text x="329.50" y="369.90" font-size="5.0" text-anchor="end" fill="#111" stroke="#111" stroke-width="0.10" >8.90</text>
<text x="289.70" y="401.30" font-size="5.0" text-anchor="start" fill="#111" stroke="#111" stroke-width="0.10" >71.2</text>
<text x="329.50" y="401.30" font-size="5.0" text-anchor="end" fill="#111" stroke="#111" stroke-width="0.10" >19.7</text>
<text x="0" y="0" font-size="2.9" fill="#555" text-anchor="end" transform="translate(288.00,365.70) rotate(-45)">10<tspan font-size="2" dy="-1">4</tspan></text>
<line x1="287.90" y1="365.10" x2="288.80" y2="365.10" stroke="#777" stroke-width="0.35" />
<text x="0" y="0" font-size="2.9" fill="#555" text-anchor="end" transform="translate(288.00,374.60) rotate(-45)">10<tspan font-size="2" dy="-1">3</tspan></text>
<line x1="287.90" y1="374.00" x2="288.80" y2="374.00" stroke="#777" stroke-width="0.35" />
<text x="0" y="0" font-size="2.9" fill="#555" text-anchor="end" transform="translate(288.00,383.50) rotate(-45)">10<tspan font-size="2" dy="-1">2</tspan></text>
<line x1="287.90" y1="382.90" x2="288.80" y2="382.90" stroke="#777" stroke-width="0.35" />
<text x="0" y="0" font-size="2.9" fill="#555" text-anchor="end" transform="translate(288.00,392.40) rotate(-45)">10<tspan font-size="2" dy="-1">1</tspan></text>
<line x1="287.90" y1="391.80" x2="288.80" y2="391.80" stroke="#777" stroke-width="0.35" />
<text x="0" y="0" font-size="2.9" fill="#555" text-anchor="end" transform="translate(288.00,401.30) rotate(-45)">10<tspan font-size="2" dy="-1">0</tspan></text>
<line x1="287.90" y1="400.70" x2="288.80" y2="400.70" stroke="#777" stroke-width="0.35" />
<text x="0" y="0" font-size="2.9" fill="#555" text-anchor="end" transform="translate(292.80,403.70) rotate(-45)">10<tspan font-size="2" dy="-1">0</tspan></text>
<line x1="291.80" y1="402.20" x2="291.80" y2="403.10" stroke="#777" stroke-width="0.35" />
<text x="0" y="0" font-size="2.9" fill="#555" text-anchor="end" transform="translate(299.86,403.70) rotate(-45)">10<tspan font-size="2" dy="-1">1</tspan></text>
<line x1="298.86" y1="402.20" x2="298.86" y2="403.10" stroke="#777" stroke-width="0.35" />
<text x="0" y="0" font-size="2.9" fill="#555" text-anchor="end" transform="translate(306.92,403.70) rotate(-45)">10<tspan font-size="2" dy="-1">2</tspan></text>
<line x1="305.92" y1="402.20" x2="305.92" y2="403.10" stroke="#777" stroke-width="0.35" />
<text x="0" y="0" font-size="2.9" fill="#555" text-anchor="end" transform="translate(313.98,403.70) rotate(-45)">10<tspan font-size="2" dy="-1">3</tspan></text>
<line x1="312.98" y1="402.20" x2="312.98" y2="403.10" stroke="#777" stroke-width="0.35" />
<text x="0" y="0" font-size="2.9" fill="#555" text-anchor="end" transform="translate(321.04,403.70) rotate(-45)">10<tspan font-size="2" dy="-1">4</tspan></text>
<line x1="320.04" y1="402.20" x2="320.04" y2="403.10" stroke="#777" stroke-width="0.35" />
<text x="0" y="0" font-size="2.9" fill="#555" text-anchor="end" transform="translate(328.10,403.70) rotate(-45)">10<tspan font-size="2" dy="-1">5</tspan></text>
<line x1="327.10" y1="402.20" x2="327.10" y2="403.10" stroke="#777" stroke-width="0.35" />
<text x="311.65" y="411.10" font-size="4.7" text-anchor="middle" stroke="#000" stroke-width="0.10" >Annexin V</text>
<text x="0" y="0" font-size="5" font-weight="bold" text-anchor="middle" transform="translate(282.50,381.90) rotate(-90)">PI</text>
<text x="361.45" y="360.70" font-size="4.7" text-anchor="middle" stroke="#000" stroke-width="0.10" >UNC0642+GSK126</text>
<rect x="340.80" y="362.00" width="41.30" height="40.40" fill="#fff" stroke="#cfcfcf" stroke-width="0.45" />
<ellipse cx="362.00" cy="381.00" rx="10.00" ry="5.00" fill="#c3cdf5" opacity="0.4" filter="url(#bl2)" transform="rotate(-30 362.00 381.00)"/>
<ellipse cx="355.30" cy="387.30" rx="3.60" ry="1.80" fill="#7a9a98" opacity="0.7" filter="url(#bl)" transform="rotate(-20 355.30 387.30)"/>
<ellipse cx="370.80" cy="375.80" rx="1.90" ry="8.00" fill="#b0b83c" opacity="0.9" filter="url(#bl)" transform="rotate(0 370.80 375.80)"/>
<ellipse cx="370.80" cy="374.50" rx="1.00" ry="6.00" fill="#8aae48" opacity="0.8" filter="url(#bl)" transform="rotate(0 370.80 374.50)"/>
<line x1="340.80" y1="376.00" x2="382.10" y2="376.00" stroke="#7d7d7d" stroke-width="0.6" />
<line x1="361.60" y1="362.00" x2="361.60" y2="402.40" stroke="#7d7d7d" stroke-width="0.6" />
<text x="342.00" y="365.60" font-size="2.8" text-anchor="start" fill="#777" >Q1</text>
<text x="380.90" y="365.60" font-size="2.8" text-anchor="end" fill="#777" >Q2</text>
<text x="342.00" y="395.00" font-size="2.8" text-anchor="start" fill="#777" >Q4</text>
<text x="380.90" y="395.00" font-size="2.8" text-anchor="end" fill="#777" >Q3</text>
<text x="341.70" y="370.30" font-size="5.0" text-anchor="start" fill="#111" stroke="#111" stroke-width="0.10" >0.95</text>
<text x="381.50" y="370.30" font-size="5.0" text-anchor="end" fill="#e3262c" stroke="#e3262c" stroke-width="0.10" >26.6</text>
<text x="341.70" y="401.50" font-size="5.0" text-anchor="start" fill="#111" stroke="#111" stroke-width="0.10" >22.1</text>
<text x="381.50" y="401.50" font-size="5.0" text-anchor="end" fill="#e3262c" stroke="#e3262c" stroke-width="0.10" >50.3</text>
<text x="0" y="0" font-size="2.9" fill="#555" text-anchor="end" transform="translate(340.00,366.10) rotate(-45)">10<tspan font-size="2" dy="-1">4</tspan></text>
<line x1="339.90" y1="365.50" x2="340.80" y2="365.50" stroke="#777" stroke-width="0.35" />
<text x="0" y="0" font-size="2.9" fill="#555" text-anchor="end" transform="translate(340.00,374.95) rotate(-45)">10<tspan font-size="2" dy="-1">3</tspan></text>
<line x1="339.90" y1="374.35" x2="340.80" y2="374.35" stroke="#777" stroke-width="0.35" />
<text x="0" y="0" font-size="2.9" fill="#555" text-anchor="end" transform="translate(340.00,383.80) rotate(-45)">10<tspan font-size="2" dy="-1">2</tspan></text>
<line x1="339.90" y1="383.20" x2="340.80" y2="383.20" stroke="#777" stroke-width="0.35" />
<text x="0" y="0" font-size="2.9" fill="#555" text-anchor="end" transform="translate(340.00,392.65) rotate(-45)">10<tspan font-size="2" dy="-1">1</tspan></text>
<line x1="339.90" y1="392.05" x2="340.80" y2="392.05" stroke="#777" stroke-width="0.35" />
<text x="0" y="0" font-size="2.9" fill="#555" text-anchor="end" transform="translate(340.00,401.50) rotate(-45)">10<tspan font-size="2" dy="-1">0</tspan></text>
<line x1="339.90" y1="400.90" x2="340.80" y2="400.90" stroke="#777" stroke-width="0.35" />
<text x="0" y="0" font-size="2.9" fill="#555" text-anchor="end" transform="translate(344.80,403.90) rotate(-45)">10<tspan font-size="2" dy="-1">0</tspan></text>
<line x1="343.80" y1="402.40" x2="343.80" y2="403.30" stroke="#777" stroke-width="0.35" />
<text x="0" y="0" font-size="2.9" fill="#555" text-anchor="end" transform="translate(351.86,403.90) rotate(-45)">10<tspan font-size="2" dy="-1">1</tspan></text>
<line x1="350.86" y1="402.40" x2="350.86" y2="403.30" stroke="#777" stroke-width="0.35" />
<text x="0" y="0" font-size="2.9" fill="#555" text-anchor="end" transform="translate(358.92,403.90) rotate(-45)">10<tspan font-size="2" dy="-1">2</tspan></text>
<line x1="357.92" y1="402.40" x2="357.92" y2="403.30" stroke="#777" stroke-width="0.35" />
<text x="0" y="0" font-size="2.9" fill="#555" text-anchor="end" transform="translate(365.98,403.90) rotate(-45)">10<tspan font-size="2" dy="-1">3</tspan></text>
<line x1="364.98" y1="402.40" x2="364.98" y2="403.30" stroke="#777" stroke-width="0.35" />
<text x="0" y="0" font-size="2.9" fill="#555" text-anchor="end" transform="translate(373.04,403.90) rotate(-45)">10<tspan font-size="2" dy="-1">4</tspan></text>
<line x1="372.04" y1="402.40" x2="372.04" y2="403.30" stroke="#777" stroke-width="0.35" />
<text x="0" y="0" font-size="2.9" fill="#555" text-anchor="end" transform="translate(380.10,403.90) rotate(-45)">10<tspan font-size="2" dy="-1">5</tspan></text>
<line x1="379.10" y1="402.40" x2="379.10" y2="403.30" stroke="#777" stroke-width="0.35" />
<text x="363.65" y="411.30" font-size="4.7" text-anchor="middle" stroke="#000" stroke-width="0.10" >Annexin V</text>
<text x="0" y="0" font-size="5" font-weight="bold" text-anchor="middle" transform="translate(334.50,382.20) rotate(-90)">PI</text>
<text x="339.30" y="12.20" font-size="9.2" text-anchor="middle" stroke="#000" stroke-width="0.13" >MDA-MB-231</text>
<text x="335.20" y="153.20" font-size="9.2" text-anchor="middle" stroke="#000" stroke-width="0.13" >CAOV3</text>
<text x="335.00" y="289.70" font-size="9.2" text-anchor="middle" stroke="#000" stroke-width="0.13" >D14</text>
<line x1="435.20" y1="27.00" x2="435.20" y2="107.80" stroke="#7a7a7a" stroke-width="0.8" />
<line x1="433.60" y1="107.80" x2="435.20" y2="107.80" stroke="#7a7a7a" stroke-width="0.7" />
<text x="432.20" y="111.00" font-size="8.8" text-anchor="end" stroke="#000" stroke-width="0.12" >0</text>
<line x1="433.60" y1="87.60" x2="435.20" y2="87.60" stroke="#7a7a7a" stroke-width="0.7" />
<text x="432.20" y="90.80" font-size="8.8" text-anchor="end" stroke="#000" stroke-width="0.12" >20</text>
<line x1="433.60" y1="67.40" x2="435.20" y2="67.40" stroke="#7a7a7a" stroke-width="0.7" />
<text x="432.20" y="70.60" font-size="8.8" text-anchor="end" stroke="#000" stroke-width="0.12" >40</text>
<line x1="433.60" y1="47.20" x2="435.20" y2="47.20" stroke="#7a7a7a" stroke-width="0.7" />
<text x="432.20" y="50.40" font-size="8.8" text-anchor="end" stroke="#000" stroke-width="0.12" >60</text>
<line x1="433.60" y1="27.00" x2="435.20" y2="27.00" stroke="#7a7a7a" stroke-width="0.7" />
<text x="432.20" y="30.20" font-size="8.8" text-anchor="end" stroke="#000" stroke-width="0.12" >80</text>
<line x1="435.20" y1="107.80" x2="498.60" y2="107.80" stroke="#7a7a7a" stroke-width="0.8" />
<line x1="445.00" y1="100.43" x2="445.00" y2="98.91" stroke="#333" stroke-width="0.5" />
<line x1="443.70" y1="98.91" x2="446.30" y2="98.91" stroke="#333" stroke-width="0.5" />
<rect x="440.20" y="100.43" width="9.60" height="3.33" fill="#a3a3a3" stroke="#777" stroke-width="0.3" />
<rect x="440.20" y="103.76" width="9.60" height="4.04" fill="#0a0a0a" stroke="#000" stroke-width="0.3" />
<line x1="445.00" y1="107.80" x2="445.00" y2="109.20" stroke="#7a7a7a" stroke-width="0.6" />
<line x1="459.60" y1="101.23" x2="459.60" y2="99.92" stroke="#333" stroke-width="0.5" />
<line x1="458.30" y1="99.92" x2="460.90" y2="99.92" stroke="#333" stroke-width="0.5" />
<rect x="454.80" y="101.23" width="9.60" height="3.03" fill="#a3a3a3" stroke="#777" stroke-width="0.3" />
<rect x="454.80" y="104.27" width="9.60" height="3.53" fill="#0a0a0a" stroke="#000" stroke-width="0.3" />
<line x1="459.60" y1="107.80" x2="459.60" y2="109.20" stroke="#7a7a7a" stroke-width="0.6" />
<line x1="474.40" y1="100.93" x2="474.40" y2="100.12" stroke="#333" stroke-width="0.5" />
<line x1="473.10" y1="100.12" x2="475.70" y2="100.12" stroke="#333" stroke-width="0.5" />
<rect x="469.60" y="100.93" width="9.60" height="2.52" fill="#a3a3a3" stroke="#777" stroke-width="0.3" />
<rect x="469.60" y="103.46" width="9.60" height="4.34" fill="#0a0a0a" stroke="#000" stroke-width="0.3" />
<line x1="474.40" y1="107.80" x2="474.40" y2="109.20" stroke="#7a7a7a" stroke-width="0.6" />
<line x1="489.20" y1="78.51" x2="489.20" y2="76.49" stroke="#333" stroke-width="0.5" />
<line x1="487.90" y1="76.49" x2="490.50" y2="76.49" stroke="#333" stroke-width="0.5" />
<rect x="484.40" y="78.51" width="9.60" height="9.09" fill="#a3a3a3" stroke="#777" stroke-width="0.3" />
<rect x="484.40" y="87.60" width="9.60" height="20.20" fill="#0a0a0a" stroke="#000" stroke-width="0.3" />
<line x1="489.20" y1="107.80" x2="489.20" y2="109.20" stroke="#7a7a7a" stroke-width="0.6" />
<line x1="443.60" y1="59.00" x2="489.00" y2="59.00" stroke="#333" stroke-width="0.6" />
<line x1="443.60" y1="59.00" x2="443.60" y2="60.30" stroke="#333" stroke-width="0.6" />
<line x1="489.00" y1="59.00" x2="489.00" y2="60.30" stroke="#333" stroke-width="0.6" />
<text x="466.80" y="59.60" font-size="7.0" text-anchor="middle" font-weight="bold" letter-spacing="1.0">**</text>
<line x1="459.40" y1="65.70" x2="489.00" y2="65.70" stroke="#333" stroke-width="0.6" />
<line x1="459.40" y1="65.70" x2="459.40" y2="67.00" stroke="#333" stroke-width="0.6" />
<line x1="489.00" y1="65.70" x2="489.00" y2="67.00" stroke="#333" stroke-width="0.6" />
<text x="474.70" y="66.30" font-size="7.0" text-anchor="middle" font-weight="bold" letter-spacing="1.0">**</text>
<line x1="473.10" y1="73.00" x2="489.20" y2="73.00" stroke="#333" stroke-width="0.6" />
<line x1="473.10" y1="73.00" x2="473.10" y2="74.30" stroke="#333" stroke-width="0.6" />
<line x1="489.20" y1="73.00" x2="489.20" y2="74.30" stroke="#333" stroke-width="0.6" />
<text x="481.65" y="73.60" font-size="7.0" text-anchor="middle" font-weight="bold" letter-spacing="1.0">**</text>
<rect x="431.00" y="8.60" width="8.00" height="3.60" fill="#0a0a0a" stroke="none" stroke-width="0.5" />
<text x="443.10" y="12.90" font-size="8.6" text-anchor="start" stroke="#000" stroke-width="0.12" >Early</text>
<rect x="468.60" y="8.60" width="8.20" height="3.60" fill="#a3a3a3" stroke="none" stroke-width="0.5" />
<text x="480.60" y="12.90" font-size="8.6" text-anchor="start" stroke="#000" stroke-width="0.12" >Late</text>
<text x="0" y="0" font-size="8.8" text-anchor="middle" stroke="#000" stroke-width="0.12" transform="translate(417.20,66.00) rotate(-90)">Apoptotic cells (%)</text>
<text x="433.00" y="119.20" font-size="8.7" text-anchor="end" stroke="#000" stroke-width="0.12" >UNC0642</text>
<text x="433.00" y="129.90" font-size="8.8" text-anchor="end" stroke="#000" stroke-width="0.12" >GSK126</text>
<text x="445.00" y="119.20" font-size="6.8" text-anchor="middle" font-weight="bold" >−</text>
<text x="445.00" y="129.90" font-size="6.8" text-anchor="middle" font-weight="bold" >−</text>
<text x="459.60" y="119.20" font-size="6.8" text-anchor="middle" font-weight="bold" >+</text>
<text x="459.60" y="129.90" font-size="6.8" text-anchor="middle" font-weight="bold" >−</text>
<text x="474.40" y="119.20" font-size="6.8" text-anchor="middle" font-weight="bold" >−</text>
<text x="474.40" y="129.90" font-size="6.8" text-anchor="middle" font-weight="bold" >+</text>
<text x="489.20" y="119.20" font-size="6.8" text-anchor="middle" font-weight="bold" >+</text>
<text x="489.20" y="129.90" font-size="6.8" text-anchor="middle" font-weight="bold" >+</text>
<line x1="435.70" y1="171.10" x2="435.70" y2="249.10" stroke="#7a7a7a" stroke-width="0.8" />
<line x1="434.10" y1="249.10" x2="435.70" y2="249.10" stroke="#7a7a7a" stroke-width="0.7" />
<text x="432.70" y="252.30" font-size="8.8" text-anchor="end" stroke="#000" stroke-width="0.12" >0</text>
<line x1="434.10" y1="229.60" x2="435.70" y2="229.60" stroke="#7a7a7a" stroke-width="0.7" />
<text x="432.70" y="232.80" font-size="8.8" text-anchor="end" stroke="#000" stroke-width="0.12" >20</text>
<line x1="434.10" y1="210.10" x2="435.70" y2="210.10" stroke="#7a7a7a" stroke-width="0.7" />
<text x="432.70" y="213.30" font-size="8.8" text-anchor="end" stroke="#000" stroke-width="0.12" >40</text>
<line x1="434.10" y1="190.60" x2="435.70" y2="190.60" stroke="#7a7a7a" stroke-width="0.7" />
<text x="432.70" y="193.80" font-size="8.8" text-anchor="end" stroke="#000" stroke-width="0.12" >60</text>
<line x1="434.10" y1="171.10" x2="435.70" y2="171.10" stroke="#7a7a7a" stroke-width="0.7" />
<text x="432.70" y="174.30" font-size="8.8" text-anchor="end" stroke="#000" stroke-width="0.12" >80</text>
<line x1="435.70" y1="249.10" x2="497.00" y2="249.10" stroke="#7a7a7a" stroke-width="0.8" />
<line x1="445.10" y1="247.93" x2="445.10" y2="247.73" stroke="#333" stroke-width="0.5" />
<line x1="443.80" y1="247.73" x2="446.40" y2="247.73" stroke="#333" stroke-width="0.5" />
<rect x="440.90" y="247.93" width="8.40" height="0.58" fill="#a3a3a3" stroke="#777" stroke-width="0.3" />
<rect x="440.90" y="248.51" width="8.40" height="0.59" fill="#0a0a0a" stroke="#000" stroke-width="0.3" />
<line x1="445.10" y1="249.10" x2="445.10" y2="250.50" stroke="#7a7a7a" stroke-width="0.6" />
<line x1="459.70" y1="198.40" x2="459.70" y2="196.45" stroke="#333" stroke-width="0.5" />
<line x1="458.40" y1="196.45" x2="461.00" y2="196.45" stroke="#333" stroke-width="0.5" />
<rect x="455.50" y="198.40" width="8.40" height="4.97" fill="#a3a3a3" stroke="#777" stroke-width="0.3" />
<rect x="455.50" y="203.37" width="8.40" height="45.73" fill="#0a0a0a" stroke="#000" stroke-width="0.3" />
<line x1="459.70" y1="249.10" x2="459.70" y2="250.50" stroke="#7a7a7a" stroke-width="0.6" />
<line x1="474.30" y1="248.03" x2="474.30" y2="247.83" stroke="#333" stroke-width="0.5" />
<line x1="473.00" y1="247.83" x2="475.60" y2="247.83" stroke="#333" stroke-width="0.5" />
<rect x="470.10" y="248.03" width="8.40" height="0.49" fill="#a3a3a3" stroke="#777" stroke-width="0.3" />
<rect x="470.10" y="248.51" width="8.40" height="0.59" fill="#0a0a0a" stroke="#000" stroke-width="0.3" />
<line x1="474.30" y1="249.10" x2="474.30" y2="250.50" stroke="#7a7a7a" stroke-width="0.6" />
<line x1="488.20" y1="172.76" x2="488.20" y2="171.49" stroke="#333" stroke-width="0.5" />
<line x1="486.90" y1="171.49" x2="489.50" y2="171.49" stroke="#333" stroke-width="0.5" />
<rect x="484.00" y="172.76" width="8.40" height="3.31" fill="#a3a3a3" stroke="#777" stroke-width="0.3" />
<rect x="484.00" y="176.07" width="8.40" height="73.03" fill="#0a0a0a" stroke="#000" stroke-width="0.3" />
<line x1="488.20" y1="249.10" x2="488.20" y2="250.50" stroke="#7a7a7a" stroke-width="0.6" />
<line x1="445.50" y1="156.30" x2="487.80" y2="156.30" stroke="#333" stroke-width="0.6" />
<line x1="445.50" y1="156.30" x2="445.50" y2="157.60" stroke="#333" stroke-width="0.6" />
<line x1="487.80" y1="156.30" x2="487.80" y2="157.60" stroke="#333" stroke-width="0.6" />
<text x="467.15" y="156.90" font-size="7.0" text-anchor="middle" font-weight="bold" letter-spacing="1.0">****</text>
<line x1="459.50" y1="161.90" x2="487.80" y2="161.90" stroke="#333" stroke-width="0.6" />
<line x1="459.50" y1="161.90" x2="459.50" y2="163.20" stroke="#333" stroke-width="0.6" />
<line x1="487.80" y1="161.90" x2="487.80" y2="163.20" stroke="#333" stroke-width="0.6" />
<text x="474.15" y="162.50" font-size="7.0" text-anchor="middle" font-weight="bold" letter-spacing="1.0">****</text>
<line x1="473.50" y1="168.00" x2="487.80" y2="168.00" stroke="#333" stroke-width="0.6" />
<line x1="473.50" y1="168.00" x2="473.50" y2="169.30" stroke="#333" stroke-width="0.6" />
<line x1="487.80" y1="168.00" x2="487.80" y2="169.30" stroke="#333" stroke-width="0.6" />
<text x="481.15" y="168.60" font-size="7.0" text-anchor="middle" font-weight="bold" letter-spacing="1.0">****</text>
<rect x="423.60" y="144.20" width="8.00" height="3.60" fill="#0a0a0a" stroke="none" stroke-width="0.5" />
<text x="435.70" y="148.50" font-size="8.6" text-anchor="start" stroke="#000" stroke-width="0.12" >Early</text>
<rect x="461.20" y="144.20" width="8.20" height="3.60" fill="#a3a3a3" stroke="none" stroke-width="0.5" />
<text x="473.20" y="148.50" font-size="8.6" text-anchor="start" stroke="#000" stroke-width="0.12" >Late</text>
<text x="0" y="0" font-size="8.8" text-anchor="middle" stroke="#000" stroke-width="0.12" transform="translate(417.70,206.00) rotate(-90)">Apoptotic cells (%)</text>
<text x="435.40" y="259.00" font-size="8.7" text-anchor="end" stroke="#000" stroke-width="0.12" >UNC0642</text>
<text x="435.40" y="269.70" font-size="8.8" text-anchor="end" stroke="#000" stroke-width="0.12" >GSK126</text>
<text x="445.10" y="259.00" font-size="6.8" text-anchor="middle" font-weight="bold" >−</text>
<text x="445.10" y="269.70" font-size="6.8" text-anchor="middle" font-weight="bold" >−</text>
<text x="459.70" y="259.00" font-size="6.8" text-anchor="middle" font-weight="bold" >+</text>
<text x="459.70" y="269.70" font-size="6.8" text-anchor="middle" font-weight="bold" >−</text>
<text x="474.30" y="259.00" font-size="6.8" text-anchor="middle" font-weight="bold" >−</text>
<text x="474.30" y="269.70" font-size="6.8" text-anchor="middle" font-weight="bold" >+</text>
<text x="488.20" y="259.00" font-size="6.8" text-anchor="middle" font-weight="bold" >+</text>
<text x="488.20" y="269.70" font-size="6.8" text-anchor="middle" font-weight="bold" >+</text>
<line x1="435.70" y1="302.50" x2="435.70" y2="384.50" stroke="#7a7a7a" stroke-width="0.8" />
<line x1="434.10" y1="384.50" x2="435.70" y2="384.50" stroke="#7a7a7a" stroke-width="0.7" />
<text x="432.70" y="387.70" font-size="8.8" text-anchor="end" stroke="#000" stroke-width="0.12" >0</text>
<line x1="434.10" y1="364.00" x2="435.70" y2="364.00" stroke="#7a7a7a" stroke-width="0.7" />
<text x="432.70" y="367.20" font-size="8.8" text-anchor="end" stroke="#000" stroke-width="0.12" >20</text>
<line x1="434.10" y1="343.50" x2="435.70" y2="343.50" stroke="#7a7a7a" stroke-width="0.7" />
<text x="432.70" y="346.70" font-size="8.8" text-anchor="end" stroke="#000" stroke-width="0.12" >40</text>
<line x1="434.10" y1="323.00" x2="435.70" y2="323.00" stroke="#7a7a7a" stroke-width="0.7" />
<text x="432.70" y="326.20" font-size="8.8" text-anchor="end" stroke="#000" stroke-width="0.12" >60</text>
<line x1="434.10" y1="302.50" x2="435.70" y2="302.50" stroke="#7a7a7a" stroke-width="0.7" />
<text x="432.70" y="305.70" font-size="8.8" text-anchor="end" stroke="#000" stroke-width="0.12" >80</text>
<line x1="435.70" y1="384.50" x2="500.90" y2="384.50" stroke="#7a7a7a" stroke-width="0.8" />
<line x1="446.00" y1="372.00" x2="446.00" y2="371.38" stroke="#333" stroke-width="0.5" />
<line x1="444.70" y1="371.38" x2="447.30" y2="371.38" stroke="#333" stroke-width="0.5" />
<rect x="441.90" y="372.00" width="8.20" height="5.84" fill="#a3a3a3" stroke="#777" stroke-width="0.3" />
<rect x="441.90" y="377.84" width="8.20" height="6.66" fill="#0a0a0a" stroke="#000" stroke-width="0.3" />
<line x1="446.00" y1="384.50" x2="446.00" y2="385.90" stroke="#7a7a7a" stroke-width="0.6" />
<line x1="461.20" y1="345.14" x2="461.20" y2="344.12" stroke="#333" stroke-width="0.5" />
<line x1="459.90" y1="344.12" x2="462.50" y2="344.12" stroke="#333" stroke-width="0.5" />
<rect x="457.10" y="345.14" width="8.20" height="14.76" fill="#a3a3a3" stroke="#777" stroke-width="0.3" />
<rect x="457.10" y="359.90" width="8.20" height="24.60" fill="#0a0a0a" stroke="#000" stroke-width="0.3" />
<line x1="461.20" y1="384.50" x2="461.20" y2="385.90" stroke="#7a7a7a" stroke-width="0.6" />
<line x1="476.00" y1="351.80" x2="476.00" y2="351.08" stroke="#333" stroke-width="0.5" />
<line x1="474.70" y1="351.08" x2="477.30" y2="351.08" stroke="#333" stroke-width="0.5" />
<rect x="471.90" y="351.80" width="8.20" height="10.76" fill="#a3a3a3" stroke="#777" stroke-width="0.3" />
<rect x="471.90" y="362.56" width="8.20" height="21.94" fill="#0a0a0a" stroke="#000" stroke-width="0.3" />
<line x1="476.00" y1="384.50" x2="476.00" y2="385.90" stroke="#7a7a7a" stroke-width="0.6" />
<line x1="491.00" y1="310.70" x2="491.00" y2="309.47" stroke="#333" stroke-width="0.5" />
<line x1="489.70" y1="309.47" x2="492.30" y2="309.47" stroke="#333" stroke-width="0.5" />
<rect x="486.90" y="310.70" width="8.20" height="25.62" fill="#a3a3a3" stroke="#777" stroke-width="0.3" />
<rect x="486.90" y="336.32" width="8.20" height="48.18" fill="#0a0a0a" stroke="#000" stroke-width="0.3" />
<line x1="491.00" y1="384.50" x2="491.00" y2="385.90" stroke="#7a7a7a" stroke-width="0.6" />
<line x1="445.80" y1="294.70" x2="490.60" y2="294.70" stroke="#333" stroke-width="0.6" />
<line x1="445.80" y1="294.70" x2="445.80" y2="296.00" stroke="#333" stroke-width="0.6" />
<line x1="490.60" y1="294.70" x2="490.60" y2="296.00" stroke="#333" stroke-width="0.6" />
<text x="468.70" y="295.30" font-size="7.0" text-anchor="middle" font-weight="bold" letter-spacing="1.0">****</text>
<line x1="461.00" y1="300.30" x2="490.60" y2="300.30" stroke="#333" stroke-width="0.6" />
<line x1="461.00" y1="300.30" x2="461.00" y2="301.60" stroke="#333" stroke-width="0.6" />
<line x1="490.60" y1="300.30" x2="490.60" y2="301.60" stroke="#333" stroke-width="0.6" />
<text x="476.30" y="300.90" font-size="7.0" text-anchor="middle" font-weight="bold" letter-spacing="1.0">****</text>
<line x1="475.80" y1="306.60" x2="490.60" y2="306.60" stroke="#333" stroke-width="0.6" />
<line x1="475.80" y1="306.60" x2="475.80" y2="307.90" stroke="#333" stroke-width="0.6" />
<line x1="490.60" y1="306.60" x2="490.60" y2="307.90" stroke="#333" stroke-width="0.6" />
<text x="483.70" y="307.20" font-size="7.0" text-anchor="middle" font-weight="bold" letter-spacing="1.0">****</text>
<rect x="425.60" y="280.10" width="8.00" height="3.60" fill="#0a0a0a" stroke="none" stroke-width="0.5" />
<text x="437.70" y="284.40" font-size="8.6" text-anchor="start" stroke="#000" stroke-width="0.12" >Early</text>
<rect x="463.20" y="280.10" width="8.20" height="3.60" fill="#a3a3a3" stroke="none" stroke-width="0.5" />
<text x="475.20" y="284.40" font-size="8.6" text-anchor="start" stroke="#000" stroke-width="0.12" >Late</text>
<text x="0" y="0" font-size="8.8" text-anchor="middle" stroke="#000" stroke-width="0.12" transform="translate(417.70,343.00) rotate(-90)">Apoptotic cells (%)</text>
<text x="435.40" y="395.00" font-size="8.7" text-anchor="end" stroke="#000" stroke-width="0.12" >UNC0642</text>
<text x="435.40" y="405.70" font-size="8.8" text-anchor="end" stroke="#000" stroke-width="0.12" >GSK126</text>
<text x="446.00" y="395.00" font-size="6.8" text-anchor="middle" font-weight="bold" >−</text>
<text x="446.00" y="405.70" font-size="6.8" text-anchor="middle" font-weight="bold" >−</text>
<text x="461.20" y="395.00" font-size="6.8" text-anchor="middle" font-weight="bold" >+</text>
<text x="461.20" y="405.70" font-size="6.8" text-anchor="middle" font-weight="bold" >−</text>
<text x="476.00" y="395.00" font-size="6.8" text-anchor="middle" font-weight="bold" >−</text>
<text x="476.00" y="405.70" font-size="6.8" text-anchor="middle" font-weight="bold" >+</text>
<text x="491.00" y="395.00" font-size="6.8" text-anchor="middle" font-weight="bold" >+</text>
<text x="491.00" y="405.70" font-size="6.8" text-anchor="middle" font-weight="bold" >+</text>
<text x="62.60" y="470.60" font-size="8.7" text-anchor="end" stroke="#000" stroke-width="0.12" >Time</text>
<text x="179.60" y="453.80" font-size="8.6" text-anchor="middle" stroke="#000" stroke-width="0.12" >MDA-MB-231</text>
<line x1="71.90" y1="474.60" x2="139.80" y2="474.60" stroke="#555" stroke-width="0.6" />
<text x="111.00" y="470.60" font-size="8.7" text-anchor="middle" stroke="#000" stroke-width="0.12" >24 h</text>
<line x1="145.30" y1="474.60" x2="214.30" y2="474.60" stroke="#555" stroke-width="0.6" />
<text x="181.90" y="470.60" font-size="8.7" text-anchor="middle" stroke="#000" stroke-width="0.12" >48 h</text>
<line x1="221.40" y1="474.60" x2="290.20" y2="474.60" stroke="#555" stroke-width="0.6" />
<text x="254.00" y="470.60" font-size="8.7" text-anchor="middle" stroke="#000" stroke-width="0.12" >96 h</text>
<text x="62.60" y="486.90" font-size="8.8" text-anchor="end" stroke="#000" stroke-width="0.12" >UNC0642</text>
<text x="62.60" y="498.40" font-size="8.7" text-anchor="end" stroke="#000" stroke-width="0.12" >GSK126</text>
<text x="79.80" y="486.80" font-size="6.8" text-anchor="middle" font-weight="bold" >−</text>
<text x="79.80" y="497.70" font-size="6.8" text-anchor="middle" font-weight="bold" >−</text>
<text x="98.30" y="486.80" font-size="6.8" text-anchor="middle" font-weight="bold" >+</text>
<text x="98.30" y="497.70" font-size="6.8" text-anchor="middle" font-weight="bold" >−</text>
<text x="116.40" y="486.80" font-size="6.8" text-anchor="middle" font-weight="bold" >−</text>
<text x="116.40" y="497.70" font-size="6.8" text-anchor="middle" font-weight="bold" >+</text>
<text x="134.70" y="486.80" font-size="6.8" text-anchor="middle" font-weight="bold" >+</text>
<text x="134.70" y="497.70" font-size="6.8" text-anchor="middle" font-weight="bold" >+</text>
<text x="153.40" y="486.80" font-size="6.8" text-anchor="middle" font-weight="bold" >−</text>
<text x="153.40" y="497.70" font-size="6.8" text-anchor="middle" font-weight="bold" >−</text>
<text x="170.80" y="486.80" font-size="6.8" text-anchor="middle" font-weight="bold" >+</text>
<text x="170.80" y="497.70" font-size="6.8" text-anchor="middle" font-weight="bold" >−</text>
<text x="188.30" y="486.80" font-size="6.8" text-anchor="middle" font-weight="bold" >−</text>
<text x="188.30" y="497.70" font-size="6.8" text-anchor="middle" font-weight="bold" >+</text>
<text x="206.50" y="486.80" font-size="6.8" text-anchor="middle" font-weight="bold" >+</text>
<text x="206.50" y="497.70" font-size="6.8" text-anchor="middle" font-weight="bold" >+</text>
<text x="225.60" y="486.80" font-size="6.8" text-anchor="middle" font-weight="bold" >−</text>
<text x="225.60" y="497.70" font-size="6.8" text-anchor="middle" font-weight="bold" >−</text>
<text x="243.30" y="486.80" font-size="6.8" text-anchor="middle" font-weight="bold" >+</text>
<text x="243.30" y="497.70" font-size="6.8" text-anchor="middle" font-weight="bold" >−</text>
<text x="260.40" y="486.80" font-size="6.8" text-anchor="middle" font-weight="bold" >−</text>
<text x="260.40" y="497.70" font-size="6.8" text-anchor="middle" font-weight="bold" >+</text>
<text x="278.60" y="486.80" font-size="6.8" text-anchor="middle" font-weight="bold" >+</text>
<text x="278.60" y="497.70" font-size="6.8" text-anchor="middle" font-weight="bold" >+</text>
<text x="61.90" y="518.50" font-size="8.8" text-anchor="end" stroke="#000" stroke-width="0.12" >Cleaved Parp-1</text>
<text x="61.90" y="544.60" font-size="8.8" text-anchor="end" stroke="#000" stroke-width="0.12" >Tubulin</text>
<defs><filter id="bb" x="-30%" y="-100%" width="160%" height="300%"><feGaussianBlur stdDeviation="0.9"/></filter><linearGradient id="bg1" x1="0" x2="1"><stop offset="0" stop-color="#ececec"/><stop offset="0.5" stop-color="#e6e6e6"/><stop offset="1" stop-color="#eeeeee"/></linearGradient></defs>
<rect x="64.60" y="504.30" width="229.40" height="21.90" fill="#ececec" stroke="#3a3a3a" stroke-width="0.8" />
<rect x="64.60" y="530.70" width="229.40" height="22.30" fill="#ececec" stroke="#3a3a3a" stroke-width="0.8" />
<defs><filter id="bb2" x="-30%" y="-100%" width="160%" height="300%"><feGaussianBlur stdDeviation="0.85"/></filter></defs>
<ellipse cx="79.80" cy="516.80" rx="7.2" ry="1.9" fill="#1a1a1a" opacity="0.78" filter="url(#bb2)"/>
<ellipse cx="98.30" cy="516.60" rx="7.2" ry="1.9" fill="#1a1a1a" opacity="0.82" filter="url(#bb2)"/>
<ellipse cx="116.40" cy="516.90" rx="6.6" ry="1.8" fill="#1a1a1a" opacity="0.7" filter="url(#bb2)"/>
<ellipse cx="134.70" cy="517.80" rx="7.4" ry="1.9" fill="#1a1a1a" opacity="0.78" filter="url(#bb2)"/>
<ellipse cx="153.40" cy="516.60" rx="7.4" ry="2.0" fill="#1a1a1a" opacity="0.88" filter="url(#bb2)"/>
<ellipse cx="170.80" cy="516.80" rx="7.0" ry="2.0" fill="#1a1a1a" opacity="0.86" filter="url(#bb2)"/>
<ellipse cx="188.30" cy="517.20" rx="6.6" ry="1.7" fill="#1a1a1a" opacity="0.5" filter="url(#bb2)"/>
<ellipse cx="206.50" cy="517.40" rx="7.2" ry="2.2" fill="#1a1a1a" opacity="1.0" filter="url(#bb2)"/>
<ellipse cx="225.60" cy="517.00" rx="7.0" ry="1.9" fill="#1a1a1a" opacity="0.7" filter="url(#bb2)"/>
<ellipse cx="243.30" cy="517.20" rx="6.8" ry="1.6" fill="#1a1a1a" opacity="0.42" filter="url(#bb2)"/>
<ellipse cx="260.40" cy="516.90" rx="6.8" ry="1.7" fill="#1a1a1a" opacity="0.48" filter="url(#bb2)"/>
<ellipse cx="278.60" cy="513.90" rx="8.8" ry="2.5" fill="#1a1a1a" opacity="1.0" filter="url(#bb2)"/>
<ellipse cx="79.80" cy="541.8" rx="10.0" ry="2.8" fill="#0d0d0d" filter="url(#bb2)"/>
<ellipse cx="98.30" cy="541.8" rx="10.0" ry="2.8" fill="#0d0d0d" filter="url(#bb2)"/>
<ellipse cx="116.40" cy="541.8" rx="10.0" ry="2.8" fill="#0d0d0d" filter="url(#bb2)"/>
<ellipse cx="134.70" cy="541.8" rx="10.0" ry="2.8" fill="#0d0d0d" filter="url(#bb2)"/>
<ellipse cx="153.40" cy="541.8" rx="10.0" ry="2.8" fill="#0d0d0d" filter="url(#bb2)"/>
<ellipse cx="170.80" cy="541.8" rx="10.0" ry="2.8" fill="#0d0d0d" filter="url(#bb2)"/>
<ellipse cx="188.30" cy="541.8" rx="10.0" ry="2.8" fill="#0d0d0d" filter="url(#bb2)"/>
<ellipse cx="206.50" cy="541.8" rx="10.0" ry="2.8" fill="#0d0d0d" filter="url(#bb2)"/>
<ellipse cx="225.60" cy="541.8" rx="10.0" ry="2.8" fill="#0d0d0d" filter="url(#bb2)"/>
<ellipse cx="243.30" cy="541.8" rx="10.0" ry="2.8" fill="#0d0d0d" filter="url(#bb2)"/>
<ellipse cx="260.40" cy="541.8" rx="10.0" ry="2.8" fill="#0d0d0d" filter="url(#bb2)"/>
<ellipse cx="278.60" cy="541.6" rx="7.5" ry="1.4" fill="#1a1a1a" opacity="0.9" filter="url(#bb2)"/>
<line x1="357.30" y1="448.20" x2="357.30" y2="524.60" stroke="#7a7a7a" stroke-width="0.8" />
<line x1="354.70" y1="524.60" x2="357.30" y2="524.60" stroke="#7a7a7a" stroke-width="0.7" />
<text x="352.70" y="527.70" font-size="8.8" text-anchor="end" stroke="#000" stroke-width="0.12" >−10</text>
<line x1="354.70" y1="505.50" x2="357.30" y2="505.50" stroke="#7a7a7a" stroke-width="0.7" />
<text x="352.70" y="508.60" font-size="8.8" text-anchor="end" stroke="#000" stroke-width="0.12" >0</text>
<line x1="354.70" y1="486.40" x2="357.30" y2="486.40" stroke="#7a7a7a" stroke-width="0.7" />
<text x="352.70" y="489.50" font-size="8.8" text-anchor="end" stroke="#000" stroke-width="0.12" >10</text>
<line x1="354.70" y1="467.30" x2="357.30" y2="467.30" stroke="#7a7a7a" stroke-width="0.7" />
<text x="352.70" y="470.40" font-size="8.8" text-anchor="end" stroke="#000" stroke-width="0.12" >20</text>
<line x1="354.70" y1="448.20" x2="357.30" y2="448.20" stroke="#7a7a7a" stroke-width="0.7" />
<text x="352.70" y="451.30" font-size="8.8" text-anchor="end" stroke="#000" stroke-width="0.12" >30</text>
<line x1="357.30" y1="524.60" x2="519.50" y2="524.60" stroke="#7a7a7a" stroke-width="0.8" />
<line x1="357.30" y1="505.50" x2="519.50" y2="505.50" stroke="#8a8a8a" stroke-width="0.7" />
<text x="0" y="0" font-size="8.7" text-anchor="middle" stroke="#000" stroke-width="0.12" transform="translate(326.20,479.40) rotate(-90)">Rescue by</text>
<text x="0" y="0" font-size="8.9" text-anchor="middle" stroke="#000" stroke-width="0.12" transform="translate(336.30,477.20) rotate(-90)">zVAD-fmk (%)</text>
<text x="383.20" y="445.20" font-size="8.8" text-anchor="middle" stroke="#000" stroke-width="0.12" >MDA-MB-231</text>
<text x="437.30" y="445.20" font-size="8.8" text-anchor="middle" stroke="#000" stroke-width="0.12" >CAOV3</text>
<text x="491.70" y="445.20" font-size="8.8" text-anchor="middle" stroke="#000" stroke-width="0.12" >D14</text>
<line x1="367.80" y1="513.52" x2="367.80" y2="516.20" stroke="#333" stroke-width="0.55" />
<line x1="365.80" y1="516.20" x2="369.80" y2="516.20" stroke="#333" stroke-width="0.55" />
<rect x="362.40" y="505.50" width="10.80" height="8.02" fill="#0a0a0a" stroke="#222" stroke-width="0.4" />
<line x1="367.80" y1="524.60" x2="367.80" y2="526.20" stroke="#7a7a7a" stroke-width="0.6" />
<text x="367.80" y="538.90" font-size="6.8" text-anchor="middle" font-weight="bold" >−</text>
<text x="367.80" y="549.80" font-size="6.8" text-anchor="middle" font-weight="bold" >−</text>
<line x1="378.60" y1="499.77" x2="378.60" y2="495.76" stroke="#333" stroke-width="0.55" />
<line x1="376.60" y1="495.76" x2="380.60" y2="495.76" stroke="#333" stroke-width="0.55" />
<rect x="373.20" y="499.77" width="10.80" height="5.73" fill="#dedede" stroke="#222" stroke-width="0.4" />
<line x1="378.60" y1="524.60" x2="378.60" y2="526.20" stroke="#7a7a7a" stroke-width="0.6" />
<text x="378.60" y="538.90" font-size="6.8" text-anchor="middle" font-weight="bold" >+</text>
<text x="378.60" y="549.80" font-size="6.8" text-anchor="middle" font-weight="bold" >−</text>
<line x1="389.40" y1="514.67" x2="389.40" y2="517.34" stroke="#333" stroke-width="0.55" />
<line x1="387.40" y1="517.34" x2="391.40" y2="517.34" stroke="#333" stroke-width="0.55" />
<rect x="384.00" y="505.50" width="10.80" height="9.17" fill="#6b6b6b" stroke="#222" stroke-width="0.4" />
<line x1="389.40" y1="524.60" x2="389.40" y2="526.20" stroke="#7a7a7a" stroke-width="0.6" />
<text x="389.40" y="538.90" font-size="6.8" text-anchor="middle" font-weight="bold" >−</text>
<text x="389.40" y="549.80" font-size="6.8" text-anchor="middle" font-weight="bold" >+</text>
<line x1="400.20" y1="463.29" x2="400.20" y2="461.00" stroke="#333" stroke-width="0.55" />
<line x1="398.20" y1="461.00" x2="402.20" y2="461.00" stroke="#333" stroke-width="0.55" />
<rect x="394.80" y="463.29" width="10.80" height="42.21" fill="#e3262c" stroke="#222" stroke-width="0.4" />
<line x1="400.20" y1="524.60" x2="400.20" y2="526.20" stroke="#7a7a7a" stroke-width="0.6" />
<text x="400.20" y="538.90" font-size="6.8" text-anchor="middle" font-weight="bold" >+</text>
<text x="400.20" y="549.80" font-size="6.8" text-anchor="middle" font-weight="bold" >+</text>
<text x="400.70" y="459.80" font-size="7.0" text-anchor="middle" font-weight="bold" letter-spacing="1.0">**</text>
<line x1="421.60" y1="497.10" x2="421.60" y2="496.52" stroke="#333" stroke-width="0.55" />
<line x1="419.60" y1="496.52" x2="423.60" y2="496.52" stroke="#333" stroke-width="0.55" />
<rect x="416.20" y="497.10" width="10.80" height="8.40" fill="#0a0a0a" stroke="#222" stroke-width="0.4" />
<line x1="421.60" y1="524.60" x2="421.60" y2="526.20" stroke="#7a7a7a" stroke-width="0.6" />
<text x="421.60" y="538.90" font-size="6.8" text-anchor="middle" font-weight="bold" >−</text>
<text x="421.60" y="549.80" font-size="6.8" text-anchor="middle" font-weight="bold" >−</text>
<line x1="432.40" y1="495.57" x2="432.40" y2="488.50" stroke="#333" stroke-width="0.55" />
<line x1="430.40" y1="488.50" x2="434.40" y2="488.50" stroke="#333" stroke-width="0.55" />
<rect x="427.00" y="495.57" width="10.80" height="9.93" fill="#dedede" stroke="#222" stroke-width="0.4" />
<line x1="432.40" y1="524.60" x2="432.40" y2="526.20" stroke="#7a7a7a" stroke-width="0.6" />
<text x="432.40" y="538.90" font-size="6.8" text-anchor="middle" font-weight="bold" >+</text>
<text x="432.40" y="549.80" font-size="6.8" text-anchor="middle" font-weight="bold" >−</text>
<line x1="443.20" y1="501.30" x2="443.20" y2="500.73" stroke="#333" stroke-width="0.55" />
<line x1="441.20" y1="500.73" x2="445.20" y2="500.73" stroke="#333" stroke-width="0.55" />
<rect x="437.80" y="501.30" width="10.80" height="4.20" fill="#6b6b6b" stroke="#222" stroke-width="0.4" />
<line x1="443.20" y1="524.60" x2="443.20" y2="526.20" stroke="#7a7a7a" stroke-width="0.6" />
<text x="443.20" y="538.90" font-size="6.8" text-anchor="middle" font-weight="bold" >−</text>
<text x="443.20" y="549.80" font-size="6.8" text-anchor="middle" font-weight="bold" >+</text>
<line x1="454.00" y1="476.28" x2="454.00" y2="474.56" stroke="#333" stroke-width="0.55" />
<line x1="452.00" y1="474.56" x2="456.00" y2="474.56" stroke="#333" stroke-width="0.55" />
<rect x="448.60" y="476.28" width="10.80" height="29.22" fill="#e3262c" stroke="#222" stroke-width="0.4" />
<line x1="454.00" y1="524.60" x2="454.00" y2="526.20" stroke="#7a7a7a" stroke-width="0.6" />
<text x="454.00" y="538.90" font-size="6.8" text-anchor="middle" font-weight="bold" >+</text>
<text x="454.00" y="549.80" font-size="6.8" text-anchor="middle" font-weight="bold" >+</text>
<text x="454.50" y="473.36" font-size="7.0" text-anchor="middle" font-weight="bold" letter-spacing="1.0">*</text>
<line x1="475.40" y1="504.16" x2="475.40" y2="493.66" stroke="#333" stroke-width="0.55" />
<line x1="473.40" y1="493.66" x2="477.40" y2="493.66" stroke="#333" stroke-width="0.55" />
<rect x="470.00" y="504.16" width="10.80" height="1.34" fill="#0a0a0a" stroke="#222" stroke-width="0.4" />
<line x1="475.40" y1="524.60" x2="475.40" y2="526.20" stroke="#7a7a7a" stroke-width="0.6" />
<text x="475.40" y="538.90" font-size="6.8" text-anchor="middle" font-weight="bold" >−</text>
<text x="475.40" y="549.80" font-size="6.8" text-anchor="middle" font-weight="bold" >−</text>
<line x1="486.20" y1="516.58" x2="486.20" y2="519.25" stroke="#333" stroke-width="0.55" />
<line x1="484.20" y1="519.25" x2="488.20" y2="519.25" stroke="#333" stroke-width="0.55" />
<rect x="480.80" y="505.50" width="10.80" height="11.08" fill="#dedede" stroke="#222" stroke-width="0.4" />
<line x1="486.20" y1="524.60" x2="486.20" y2="526.20" stroke="#7a7a7a" stroke-width="0.6" />
<text x="486.20" y="538.90" font-size="6.8" text-anchor="middle" font-weight="bold" >+</text>
<text x="486.20" y="549.80" font-size="6.8" text-anchor="middle" font-weight="bold" >−</text>
<line x1="497.00" y1="507.22" x2="497.00" y2="511.61" stroke="#333" stroke-width="0.55" />
<line x1="495.00" y1="511.61" x2="499.00" y2="511.61" stroke="#333" stroke-width="0.55" />
<rect x="491.60" y="505.50" width="10.80" height="1.72" fill="#6b6b6b" stroke="#222" stroke-width="0.4" />
<line x1="497.00" y1="524.60" x2="497.00" y2="526.20" stroke="#7a7a7a" stroke-width="0.6" />
<text x="497.00" y="538.90" font-size="6.8" text-anchor="middle" font-weight="bold" >−</text>
<text x="497.00" y="549.80" font-size="6.8" text-anchor="middle" font-weight="bold" >+</text>
<line x1="507.80" y1="466.92" x2="507.80" y2="456.41" stroke="#333" stroke-width="0.55" />
<line x1="505.80" y1="456.41" x2="509.80" y2="456.41" stroke="#333" stroke-width="0.55" />
<rect x="502.40" y="466.92" width="10.80" height="38.58" fill="#e3262c" stroke="#222" stroke-width="0.4" />
<line x1="507.80" y1="524.60" x2="507.80" y2="526.20" stroke="#7a7a7a" stroke-width="0.6" />
<text x="507.80" y="538.90" font-size="6.8" text-anchor="middle" font-weight="bold" >+</text>
<text x="507.80" y="549.80" font-size="6.8" text-anchor="middle" font-weight="bold" >+</text>
<text x="508.30" y="455.21" font-size="7.0" text-anchor="middle" font-weight="bold" letter-spacing="1.0">*</text>
<text x="351.40" y="539.50" font-size="9.0" text-anchor="end" stroke="#000" stroke-width="0.13" >UNC0642</text>
<text x="351.40" y="550.50" font-size="8.9" text-anchor="end" stroke="#000" stroke-width="0.12" >GSK126</text>
</svg></body></html>
